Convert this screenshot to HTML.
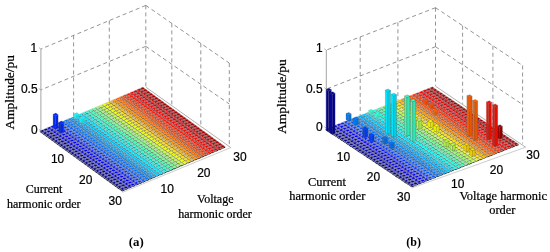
<!DOCTYPE html>
<html><head><meta charset="utf-8"><style>
html,body{margin:0;padding:0;background:#fff;}
body{width:550px;height:252px;overflow:hidden;}
svg{display:block;}
</style></head><body>
<svg width="550" height="252" viewBox="0 0 550 252">
<rect width="550" height="252" fill="#fff"/>
<path d="M145.8 5.4 L40.9 49" fill="none" stroke="#787878" stroke-width="0.8" stroke-dasharray="4 3"/>
<path d="M145.8 5.4 L229.3 63.1" fill="none" stroke="#787878" stroke-width="0.8" stroke-dasharray="4 3"/>
<path d="M145.8 46.3 L40.9 89.9" fill="none" stroke="#787878" stroke-width="0.8" stroke-dasharray="4 3"/>
<path d="M145.8 46.3 L229.3 104" fill="none" stroke="#787878" stroke-width="0.8" stroke-dasharray="4 3"/>
<path d="M73.6 35.4 L73.6 117.2" fill="none" stroke="#787878" stroke-width="0.8" stroke-dasharray="4 3"/>
<path d="M109.3 20.6 L109.3 102.4" fill="none" stroke="#787878" stroke-width="0.8" stroke-dasharray="4 3"/>
<path d="M145.8 5.4 L145.8 87.2" fill="none" stroke="#787878" stroke-width="0.8" stroke-dasharray="4 3"/>
<path d="M171.8 23.4 L171.8 105.2" fill="none" stroke="#787878" stroke-width="0.8" stroke-dasharray="4 3"/>
<path d="M200.8 43.4 L200.8 125.2" fill="none" stroke="#787878" stroke-width="0.8" stroke-dasharray="4 3"/>
<path d="M229.3 63.1 L229.3 144.9" fill="none" stroke="#787878" stroke-width="0.8" stroke-dasharray="4 3"/>
<path d="M40.9 130.8 L40.9 49" fill="none" stroke="#9a9a9a" stroke-width="0.9"/>
<path d="M40.9 49 L38.9 47.6" fill="none" stroke="#9a9a9a" stroke-width="0.7"/>
<path d="M40.9 89.9 L38.9 88.5" fill="none" stroke="#9a9a9a" stroke-width="0.7"/>
<path d="M40.9 130.8 L38.9 129.4" fill="none" stroke="#9a9a9a" stroke-width="0.7"/>
<path d="M435.5 7.7 L326.3 50.1" fill="none" stroke="#787878" stroke-width="0.8" stroke-dasharray="4 3"/>
<path d="M435.5 7.7 L522.6 65.5" fill="none" stroke="#787878" stroke-width="0.8" stroke-dasharray="4 3"/>
<path d="M435.5 46.7 L326.3 89.1" fill="none" stroke="#787878" stroke-width="0.8" stroke-dasharray="4 3"/>
<path d="M435.5 46.7 L522.6 104.5" fill="none" stroke="#787878" stroke-width="0.8" stroke-dasharray="4 3"/>
<path d="M360.2 36.9 L360.2 114.9" fill="none" stroke="#787878" stroke-width="0.8" stroke-dasharray="4 3"/>
<path d="M397.9 22.3 L397.9 100.3" fill="none" stroke="#787878" stroke-width="0.8" stroke-dasharray="4 3"/>
<path d="M435.5 7.7 L435.5 85.7" fill="none" stroke="#787878" stroke-width="0.8" stroke-dasharray="4 3"/>
<path d="M462.6 25.7 L462.6 103.7" fill="none" stroke="#787878" stroke-width="0.8" stroke-dasharray="4 3"/>
<path d="M492.9 45.8 L492.9 123.8" fill="none" stroke="#787878" stroke-width="0.8" stroke-dasharray="4 3"/>
<path d="M522.6 65.5 L522.6 143.5" fill="none" stroke="#787878" stroke-width="0.8" stroke-dasharray="4 3"/>
<path d="M326.3 128.1 L326.3 50.1" fill="none" stroke="#9a9a9a" stroke-width="0.9"/>
<path d="M326.3 50.1 L324.3 48.7" fill="none" stroke="#9a9a9a" stroke-width="0.7"/>
<path d="M326.3 89.1 L324.3 87.7" fill="none" stroke="#9a9a9a" stroke-width="0.7"/>
<path d="M326.3 128.1 L324.3 126.7" fill="none" stroke="#9a9a9a" stroke-width="0.7"/>
<path d="M146 87.3 L230.8 147.6" fill="none" stroke="#7a7a7a" stroke-width="0.6"/>
<path d="M122.4 192.4 L230.8 147.6" fill="none" stroke="#c0c0c0" stroke-width="0.8"/>
<path d="M435.5 86.2 L525.6 147.2" fill="none" stroke="#7a7a7a" stroke-width="0.6"/>
<path d="M411.8 188 L525.6 147.2" fill="none" stroke="#c0c0c0" stroke-width="0.8"/>
<defs><path id="a0t" d="M-2.49 -1.36 L-0.28 0.24 L2.49 -0.94 L0.28 -2.53Z"/><path id="a0l" d="M-2.49 -1.36 L-0.28 0.24 L-0.28 1.39 L-2.49 -0.21Z"/><path id="a0r" d="M-0.28 0.24 L2.49 -0.94 L2.49 0.21 L-0.28 1.39Z"/></defs>
<g fill="#320000"><use href="#a0l" x="142.64" y="89.62"/><use href="#a0l" x="145.4" y="91.62"/><use href="#a0l" x="148.16" y="93.62"/><use href="#a0l" x="150.92" y="95.61"/><use href="#a0l" x="153.68" y="97.6"/><use href="#a0l" x="156.44" y="99.6"/><use href="#a0l" x="159.2" y="101.59"/><use href="#a0l" x="161.96" y="103.59"/><use href="#a0l" x="164.72" y="105.59"/><use href="#a0l" x="167.48" y="107.58"/><use href="#a0l" x="170.24" y="109.57"/><use href="#a0l" x="173" y="111.57"/><use href="#a0l" x="175.76" y="113.56"/><use href="#a0l" x="178.52" y="115.56"/><use href="#a0l" x="181.28" y="117.56"/><use href="#a0l" x="184.04" y="119.55"/><use href="#a0l" x="186.8" y="121.54"/><use href="#a0l" x="189.56" y="123.54"/><use href="#a0l" x="192.32" y="125.53"/><use href="#a0l" x="195.08" y="127.53"/><use href="#a0l" x="197.84" y="129.53"/><use href="#a0l" x="200.6" y="131.52"/><use href="#a0l" x="203.36" y="133.52"/><use href="#a0l" x="206.12" y="135.51"/><use href="#a0l" x="208.88" y="137.5"/><use href="#a0l" x="211.64" y="139.5"/><use href="#a0l" x="214.4" y="141.5"/><use href="#a0l" x="217.16" y="143.49"/><use href="#a0l" x="219.92" y="145.48"/><use href="#a0l" x="222.68" y="147.48"/></g>
<g fill="#2a0000"><use href="#a0r" x="142.64" y="89.62"/><use href="#a0r" x="145.4" y="91.62"/><use href="#a0r" x="148.16" y="93.62"/><use href="#a0r" x="150.92" y="95.61"/><use href="#a0r" x="153.68" y="97.6"/><use href="#a0r" x="156.44" y="99.6"/><use href="#a0r" x="159.2" y="101.59"/><use href="#a0r" x="161.96" y="103.59"/><use href="#a0r" x="164.72" y="105.59"/><use href="#a0r" x="167.48" y="107.58"/><use href="#a0r" x="170.24" y="109.57"/><use href="#a0r" x="173" y="111.57"/><use href="#a0r" x="175.76" y="113.56"/><use href="#a0r" x="178.52" y="115.56"/><use href="#a0r" x="181.28" y="117.56"/><use href="#a0r" x="184.04" y="119.55"/><use href="#a0r" x="186.8" y="121.54"/><use href="#a0r" x="189.56" y="123.54"/><use href="#a0r" x="192.32" y="125.53"/><use href="#a0r" x="195.08" y="127.53"/><use href="#a0r" x="197.84" y="129.53"/><use href="#a0r" x="200.6" y="131.52"/><use href="#a0r" x="203.36" y="133.52"/><use href="#a0r" x="206.12" y="135.51"/><use href="#a0r" x="208.88" y="137.5"/><use href="#a0r" x="211.64" y="139.5"/><use href="#a0r" x="214.4" y="141.5"/><use href="#a0r" x="217.16" y="143.49"/><use href="#a0r" x="219.92" y="145.48"/><use href="#a0r" x="222.68" y="147.48"/></g>
<g fill="#a80000" stroke="#c8c8c8" stroke-width="0.33"><use href="#a0t" x="142.64" y="89.62"/><use href="#a0t" x="145.4" y="91.62"/><use href="#a0t" x="148.16" y="93.62"/><use href="#a0t" x="150.92" y="95.61"/><use href="#a0t" x="153.68" y="97.6"/><use href="#a0t" x="156.44" y="99.6"/><use href="#a0t" x="159.2" y="101.59"/><use href="#a0t" x="161.96" y="103.59"/><use href="#a0t" x="164.72" y="105.59"/><use href="#a0t" x="167.48" y="107.58"/><use href="#a0t" x="170.24" y="109.57"/><use href="#a0t" x="173" y="111.57"/><use href="#a0t" x="175.76" y="113.56"/><use href="#a0t" x="178.52" y="115.56"/><use href="#a0t" x="181.28" y="117.56"/><use href="#a0t" x="184.04" y="119.55"/><use href="#a0t" x="186.8" y="121.54"/><use href="#a0t" x="189.56" y="123.54"/><use href="#a0t" x="192.32" y="125.53"/><use href="#a0t" x="195.08" y="127.53"/><use href="#a0t" x="197.84" y="129.53"/><use href="#a0t" x="200.6" y="131.52"/><use href="#a0t" x="203.36" y="133.52"/><use href="#a0t" x="206.12" y="135.51"/><use href="#a0t" x="208.88" y="137.5"/><use href="#a0t" x="211.64" y="139.5"/><use href="#a0t" x="214.4" y="141.5"/><use href="#a0t" x="217.16" y="143.49"/><use href="#a0t" x="219.92" y="145.48"/><use href="#a0t" x="222.68" y="147.48"/></g>
<g fill="#3c0000"><use href="#a0l" x="139.18" y="91.09"/><use href="#a0l" x="141.94" y="93.09"/><use href="#a0l" x="144.7" y="95.08"/><use href="#a0l" x="147.46" y="97.08"/><use href="#a0l" x="150.22" y="99.07"/><use href="#a0l" x="152.98" y="101.07"/><use href="#a0l" x="155.74" y="103.06"/><use href="#a0l" x="158.5" y="105.06"/><use href="#a0l" x="161.26" y="107.05"/><use href="#a0l" x="164.02" y="109.05"/><use href="#a0l" x="166.78" y="111.04"/><use href="#a0l" x="169.54" y="113.04"/><use href="#a0l" x="172.3" y="115.03"/><use href="#a0l" x="175.06" y="117.03"/><use href="#a0l" x="177.82" y="119.02"/><use href="#a0l" x="180.58" y="121.02"/><use href="#a0l" x="183.34" y="123.01"/><use href="#a0l" x="186.1" y="125.01"/><use href="#a0l" x="188.86" y="127"/><use href="#a0l" x="191.62" y="129"/><use href="#a0l" x="194.38" y="130.99"/><use href="#a0l" x="197.14" y="132.99"/><use href="#a0l" x="199.9" y="134.98"/><use href="#a0l" x="202.66" y="136.98"/><use href="#a0l" x="205.42" y="138.97"/><use href="#a0l" x="208.18" y="140.97"/><use href="#a0l" x="210.94" y="142.96"/><use href="#a0l" x="213.7" y="144.96"/><use href="#a0l" x="216.46" y="146.95"/><use href="#a0l" x="219.22" y="148.95"/></g>
<g fill="#320000"><use href="#a0r" x="139.18" y="91.09"/><use href="#a0r" x="141.94" y="93.09"/><use href="#a0r" x="144.7" y="95.08"/><use href="#a0r" x="147.46" y="97.08"/><use href="#a0r" x="150.22" y="99.07"/><use href="#a0r" x="152.98" y="101.07"/><use href="#a0r" x="155.74" y="103.06"/><use href="#a0r" x="158.5" y="105.06"/><use href="#a0r" x="161.26" y="107.05"/><use href="#a0r" x="164.02" y="109.05"/><use href="#a0r" x="166.78" y="111.04"/><use href="#a0r" x="169.54" y="113.04"/><use href="#a0r" x="172.3" y="115.03"/><use href="#a0r" x="175.06" y="117.03"/><use href="#a0r" x="177.82" y="119.02"/><use href="#a0r" x="180.58" y="121.02"/><use href="#a0r" x="183.34" y="123.01"/><use href="#a0r" x="186.1" y="125.01"/><use href="#a0r" x="188.86" y="127"/><use href="#a0r" x="191.62" y="129"/><use href="#a0r" x="194.38" y="130.99"/><use href="#a0r" x="197.14" y="132.99"/><use href="#a0r" x="199.9" y="134.98"/><use href="#a0r" x="202.66" y="136.98"/><use href="#a0r" x="205.42" y="138.97"/><use href="#a0r" x="208.18" y="140.97"/><use href="#a0r" x="210.94" y="142.96"/><use href="#a0r" x="213.7" y="144.96"/><use href="#a0r" x="216.46" y="146.95"/><use href="#a0r" x="219.22" y="148.95"/></g>
<g fill="#c70000" stroke="#c8c8c8" stroke-width="0.33"><use href="#a0t" x="139.18" y="91.09"/><use href="#a0t" x="141.94" y="93.09"/><use href="#a0t" x="144.7" y="95.08"/><use href="#a0t" x="147.46" y="97.08"/><use href="#a0t" x="150.22" y="99.07"/><use href="#a0t" x="152.98" y="101.07"/><use href="#a0t" x="155.74" y="103.06"/><use href="#a0t" x="158.5" y="105.06"/><use href="#a0t" x="161.26" y="107.05"/><use href="#a0t" x="164.02" y="109.05"/><use href="#a0t" x="166.78" y="111.04"/><use href="#a0t" x="169.54" y="113.04"/><use href="#a0t" x="172.3" y="115.03"/><use href="#a0t" x="175.06" y="117.03"/><use href="#a0t" x="177.82" y="119.02"/><use href="#a0t" x="180.58" y="121.02"/><use href="#a0t" x="183.34" y="123.01"/><use href="#a0t" x="186.1" y="125.01"/><use href="#a0t" x="188.86" y="127"/><use href="#a0t" x="191.62" y="129"/><use href="#a0t" x="194.38" y="130.99"/><use href="#a0t" x="197.14" y="132.99"/><use href="#a0t" x="199.9" y="134.98"/><use href="#a0t" x="202.66" y="136.98"/><use href="#a0t" x="205.42" y="138.97"/><use href="#a0t" x="208.18" y="140.97"/><use href="#a0t" x="210.94" y="142.96"/><use href="#a0t" x="213.7" y="144.96"/><use href="#a0t" x="216.46" y="146.95"/><use href="#a0t" x="219.22" y="148.95"/></g>
<g fill="#430000"><use href="#a0l" x="135.72" y="92.56"/><use href="#a0l" x="138.48" y="94.56"/><use href="#a0l" x="141.24" y="96.55"/><use href="#a0l" x="144" y="98.55"/><use href="#a0l" x="146.76" y="100.54"/><use href="#a0l" x="149.52" y="102.54"/><use href="#a0l" x="152.28" y="104.53"/><use href="#a0l" x="155.04" y="106.53"/><use href="#a0l" x="157.8" y="108.52"/><use href="#a0l" x="160.56" y="110.52"/><use href="#a0l" x="163.32" y="112.51"/><use href="#a0l" x="166.08" y="114.51"/><use href="#a0l" x="168.84" y="116.5"/><use href="#a0l" x="171.6" y="118.5"/><use href="#a0l" x="174.36" y="120.49"/><use href="#a0l" x="177.12" y="122.49"/><use href="#a0l" x="179.88" y="124.48"/><use href="#a0l" x="182.64" y="126.48"/><use href="#a0l" x="185.4" y="128.47"/><use href="#a0l" x="188.16" y="130.47"/><use href="#a0l" x="190.92" y="132.46"/><use href="#a0l" x="193.68" y="134.46"/><use href="#a0l" x="196.44" y="136.45"/><use href="#a0l" x="199.2" y="138.45"/><use href="#a0l" x="201.96" y="140.44"/><use href="#a0l" x="204.72" y="142.44"/><use href="#a0l" x="207.48" y="144.43"/><use href="#a0l" x="210.24" y="146.43"/><use href="#a0l" x="213" y="148.42"/><use href="#a0l" x="215.76" y="150.42"/></g>
<g fill="#380000"><use href="#a0r" x="135.72" y="92.56"/><use href="#a0r" x="138.48" y="94.56"/><use href="#a0r" x="141.24" y="96.55"/><use href="#a0r" x="144" y="98.55"/><use href="#a0r" x="146.76" y="100.54"/><use href="#a0r" x="149.52" y="102.54"/><use href="#a0r" x="152.28" y="104.53"/><use href="#a0r" x="155.04" y="106.53"/><use href="#a0r" x="157.8" y="108.52"/><use href="#a0r" x="160.56" y="110.52"/><use href="#a0r" x="163.32" y="112.51"/><use href="#a0r" x="166.08" y="114.51"/><use href="#a0r" x="168.84" y="116.5"/><use href="#a0r" x="171.6" y="118.5"/><use href="#a0r" x="174.36" y="120.49"/><use href="#a0r" x="177.12" y="122.49"/><use href="#a0r" x="179.88" y="124.48"/><use href="#a0r" x="182.64" y="126.48"/><use href="#a0r" x="185.4" y="128.47"/><use href="#a0r" x="188.16" y="130.47"/><use href="#a0r" x="190.92" y="132.46"/><use href="#a0r" x="193.68" y="134.46"/><use href="#a0r" x="196.44" y="136.45"/><use href="#a0r" x="199.2" y="138.45"/><use href="#a0r" x="201.96" y="140.44"/><use href="#a0r" x="204.72" y="142.44"/><use href="#a0r" x="207.48" y="144.43"/><use href="#a0r" x="210.24" y="146.43"/><use href="#a0r" x="213" y="148.42"/><use href="#a0r" x="215.76" y="150.42"/></g>
<g fill="#e00000" stroke="#c8c8c8" stroke-width="0.33"><use href="#a0t" x="135.72" y="92.56"/><use href="#a0t" x="138.48" y="94.56"/><use href="#a0t" x="141.24" y="96.55"/><use href="#a0t" x="144" y="98.55"/><use href="#a0t" x="146.76" y="100.54"/><use href="#a0t" x="149.52" y="102.54"/><use href="#a0t" x="152.28" y="104.53"/><use href="#a0t" x="155.04" y="106.53"/><use href="#a0t" x="157.8" y="108.52"/><use href="#a0t" x="160.56" y="110.52"/><use href="#a0t" x="163.32" y="112.51"/><use href="#a0t" x="166.08" y="114.51"/><use href="#a0t" x="168.84" y="116.5"/><use href="#a0t" x="171.6" y="118.5"/><use href="#a0t" x="174.36" y="120.49"/><use href="#a0t" x="177.12" y="122.49"/><use href="#a0t" x="179.88" y="124.48"/><use href="#a0t" x="182.64" y="126.48"/><use href="#a0t" x="185.4" y="128.47"/><use href="#a0t" x="188.16" y="130.47"/><use href="#a0t" x="190.92" y="132.46"/><use href="#a0t" x="193.68" y="134.46"/><use href="#a0t" x="196.44" y="136.45"/><use href="#a0t" x="199.2" y="138.45"/><use href="#a0t" x="201.96" y="140.44"/><use href="#a0t" x="204.72" y="142.44"/><use href="#a0t" x="207.48" y="144.43"/><use href="#a0t" x="210.24" y="146.43"/><use href="#a0t" x="213" y="148.42"/><use href="#a0t" x="215.76" y="150.42"/></g>
<g fill="#4b0000"><use href="#a0l" x="132.27" y="94.03"/><use href="#a0l" x="135.03" y="96.03"/><use href="#a0l" x="137.79" y="98.02"/><use href="#a0l" x="140.55" y="100.02"/><use href="#a0l" x="143.31" y="102.01"/><use href="#a0l" x="146.07" y="104.01"/><use href="#a0l" x="148.83" y="106"/><use href="#a0l" x="151.59" y="108"/><use href="#a0l" x="154.35" y="109.99"/><use href="#a0l" x="157.11" y="111.99"/><use href="#a0l" x="159.87" y="113.98"/><use href="#a0l" x="162.63" y="115.98"/><use href="#a0l" x="165.39" y="117.97"/><use href="#a0l" x="168.15" y="119.97"/><use href="#a0l" x="170.91" y="121.96"/><use href="#a0l" x="173.67" y="123.96"/><use href="#a0l" x="176.43" y="125.95"/><use href="#a0l" x="179.19" y="127.95"/><use href="#a0l" x="181.95" y="129.94"/><use href="#a0l" x="184.71" y="131.94"/><use href="#a0l" x="187.47" y="133.93"/><use href="#a0l" x="190.23" y="135.93"/><use href="#a0l" x="192.99" y="137.92"/><use href="#a0l" x="195.75" y="139.92"/><use href="#a0l" x="198.51" y="141.91"/><use href="#a0l" x="201.27" y="143.91"/><use href="#a0l" x="204.03" y="145.9"/><use href="#a0l" x="206.79" y="147.9"/><use href="#a0l" x="209.55" y="149.89"/><use href="#a0l" x="212.31" y="151.89"/></g>
<g fill="#3e0000"><use href="#a0r" x="132.27" y="94.03"/><use href="#a0r" x="135.03" y="96.03"/><use href="#a0r" x="137.79" y="98.02"/><use href="#a0r" x="140.55" y="100.02"/><use href="#a0r" x="143.31" y="102.01"/><use href="#a0r" x="146.07" y="104.01"/><use href="#a0r" x="148.83" y="106"/><use href="#a0r" x="151.59" y="108"/><use href="#a0r" x="154.35" y="109.99"/><use href="#a0r" x="157.11" y="111.99"/><use href="#a0r" x="159.87" y="113.98"/><use href="#a0r" x="162.63" y="115.98"/><use href="#a0r" x="165.39" y="117.97"/><use href="#a0r" x="168.15" y="119.97"/><use href="#a0r" x="170.91" y="121.96"/><use href="#a0r" x="173.67" y="123.96"/><use href="#a0r" x="176.43" y="125.95"/><use href="#a0r" x="179.19" y="127.95"/><use href="#a0r" x="181.95" y="129.94"/><use href="#a0r" x="184.71" y="131.94"/><use href="#a0r" x="187.47" y="133.93"/><use href="#a0r" x="190.23" y="135.93"/><use href="#a0r" x="192.99" y="137.92"/><use href="#a0r" x="195.75" y="139.92"/><use href="#a0r" x="198.51" y="141.91"/><use href="#a0r" x="201.27" y="143.91"/><use href="#a0r" x="204.03" y="145.9"/><use href="#a0r" x="206.79" y="147.9"/><use href="#a0r" x="209.55" y="149.89"/><use href="#a0r" x="212.31" y="151.89"/></g>
<g fill="#fa0000" stroke="#c8c8c8" stroke-width="0.33"><use href="#a0t" x="132.27" y="94.03"/><use href="#a0t" x="135.03" y="96.03"/><use href="#a0t" x="137.79" y="98.02"/><use href="#a0t" x="140.55" y="100.02"/><use href="#a0t" x="143.31" y="102.01"/><use href="#a0t" x="146.07" y="104.01"/><use href="#a0t" x="148.83" y="106"/><use href="#a0t" x="151.59" y="108"/><use href="#a0t" x="154.35" y="109.99"/><use href="#a0t" x="157.11" y="111.99"/><use href="#a0t" x="159.87" y="113.98"/><use href="#a0t" x="162.63" y="115.98"/><use href="#a0t" x="165.39" y="117.97"/><use href="#a0t" x="168.15" y="119.97"/><use href="#a0t" x="170.91" y="121.96"/><use href="#a0t" x="173.67" y="123.96"/><use href="#a0t" x="176.43" y="125.95"/><use href="#a0t" x="179.19" y="127.95"/><use href="#a0t" x="181.95" y="129.94"/><use href="#a0t" x="184.71" y="131.94"/><use href="#a0t" x="187.47" y="133.93"/><use href="#a0t" x="190.23" y="135.93"/><use href="#a0t" x="192.99" y="137.92"/><use href="#a0t" x="195.75" y="139.92"/><use href="#a0t" x="198.51" y="141.91"/><use href="#a0t" x="201.27" y="143.91"/><use href="#a0t" x="204.03" y="145.9"/><use href="#a0t" x="206.79" y="147.9"/><use href="#a0t" x="209.55" y="149.89"/><use href="#a0t" x="212.31" y="151.89"/></g>
<g fill="#4c0600"><use href="#a0l" x="128.81" y="95.5"/><use href="#a0l" x="131.57" y="97.5"/><use href="#a0l" x="134.33" y="99.49"/><use href="#a0l" x="137.09" y="101.49"/><use href="#a0l" x="139.85" y="103.48"/><use href="#a0l" x="142.61" y="105.48"/><use href="#a0l" x="145.37" y="107.47"/><use href="#a0l" x="148.13" y="109.47"/><use href="#a0l" x="150.89" y="111.46"/><use href="#a0l" x="153.65" y="113.46"/><use href="#a0l" x="156.41" y="115.45"/><use href="#a0l" x="159.17" y="117.45"/><use href="#a0l" x="161.93" y="119.44"/><use href="#a0l" x="164.69" y="121.44"/><use href="#a0l" x="167.45" y="123.43"/><use href="#a0l" x="170.21" y="125.43"/><use href="#a0l" x="172.97" y="127.42"/><use href="#a0l" x="175.73" y="129.42"/><use href="#a0l" x="178.49" y="131.41"/><use href="#a0l" x="181.25" y="133.41"/><use href="#a0l" x="184.01" y="135.4"/><use href="#a0l" x="186.77" y="137.4"/><use href="#a0l" x="189.53" y="139.39"/><use href="#a0l" x="192.29" y="141.39"/><use href="#a0l" x="195.05" y="143.38"/><use href="#a0l" x="197.81" y="145.38"/><use href="#a0l" x="200.57" y="147.37"/><use href="#a0l" x="203.33" y="149.37"/><use href="#a0l" x="206.09" y="151.36"/><use href="#a0l" x="208.85" y="153.36"/></g>
<g fill="#400500"><use href="#a0r" x="128.81" y="95.5"/><use href="#a0r" x="131.57" y="97.5"/><use href="#a0r" x="134.33" y="99.49"/><use href="#a0r" x="137.09" y="101.49"/><use href="#a0r" x="139.85" y="103.48"/><use href="#a0r" x="142.61" y="105.48"/><use href="#a0r" x="145.37" y="107.47"/><use href="#a0r" x="148.13" y="109.47"/><use href="#a0r" x="150.89" y="111.46"/><use href="#a0r" x="153.65" y="113.46"/><use href="#a0r" x="156.41" y="115.45"/><use href="#a0r" x="159.17" y="117.45"/><use href="#a0r" x="161.93" y="119.44"/><use href="#a0r" x="164.69" y="121.44"/><use href="#a0r" x="167.45" y="123.43"/><use href="#a0r" x="170.21" y="125.43"/><use href="#a0r" x="172.97" y="127.42"/><use href="#a0r" x="175.73" y="129.42"/><use href="#a0r" x="178.49" y="131.41"/><use href="#a0r" x="181.25" y="133.41"/><use href="#a0r" x="184.01" y="135.4"/><use href="#a0r" x="186.77" y="137.4"/><use href="#a0r" x="189.53" y="139.39"/><use href="#a0r" x="192.29" y="141.39"/><use href="#a0r" x="195.05" y="143.38"/><use href="#a0r" x="197.81" y="145.38"/><use href="#a0r" x="200.57" y="147.37"/><use href="#a0r" x="203.33" y="149.37"/><use href="#a0r" x="206.09" y="151.36"/><use href="#a0r" x="208.85" y="153.36"/></g>
<g fill="#ff1400" stroke="#c8c8c8" stroke-width="0.33"><use href="#a0t" x="128.81" y="95.5"/><use href="#a0t" x="131.57" y="97.5"/><use href="#a0t" x="134.33" y="99.49"/><use href="#a0t" x="137.09" y="101.49"/><use href="#a0t" x="139.85" y="103.48"/><use href="#a0t" x="142.61" y="105.48"/><use href="#a0t" x="145.37" y="107.47"/><use href="#a0t" x="148.13" y="109.47"/><use href="#a0t" x="150.89" y="111.46"/><use href="#a0t" x="153.65" y="113.46"/><use href="#a0t" x="156.41" y="115.45"/><use href="#a0t" x="159.17" y="117.45"/><use href="#a0t" x="161.93" y="119.44"/><use href="#a0t" x="164.69" y="121.44"/><use href="#a0t" x="167.45" y="123.43"/><use href="#a0t" x="170.21" y="125.43"/><use href="#a0t" x="172.97" y="127.42"/><use href="#a0t" x="175.73" y="129.42"/><use href="#a0t" x="178.49" y="131.41"/><use href="#a0t" x="181.25" y="133.41"/><use href="#a0t" x="184.01" y="135.4"/><use href="#a0t" x="186.77" y="137.4"/><use href="#a0t" x="189.53" y="139.39"/><use href="#a0t" x="192.29" y="141.39"/><use href="#a0t" x="195.05" y="143.38"/><use href="#a0t" x="197.81" y="145.38"/><use href="#a0t" x="200.57" y="147.37"/><use href="#a0t" x="203.33" y="149.37"/><use href="#a0t" x="206.09" y="151.36"/><use href="#a0t" x="208.85" y="153.36"/></g>
<g fill="#4c0f00"><use href="#a0l" x="125.35" y="96.97"/><use href="#a0l" x="128.11" y="98.97"/><use href="#a0l" x="130.87" y="100.96"/><use href="#a0l" x="133.63" y="102.95"/><use href="#a0l" x="136.39" y="104.95"/><use href="#a0l" x="139.15" y="106.94"/><use href="#a0l" x="141.91" y="108.94"/><use href="#a0l" x="144.67" y="110.94"/><use href="#a0l" x="147.43" y="112.93"/><use href="#a0l" x="150.19" y="114.93"/><use href="#a0l" x="152.95" y="116.92"/><use href="#a0l" x="155.71" y="118.91"/><use href="#a0l" x="158.47" y="120.91"/><use href="#a0l" x="161.23" y="122.91"/><use href="#a0l" x="163.99" y="124.9"/><use href="#a0l" x="166.75" y="126.9"/><use href="#a0l" x="169.51" y="128.89"/><use href="#a0l" x="172.27" y="130.88"/><use href="#a0l" x="175.03" y="132.88"/><use href="#a0l" x="177.79" y="134.88"/><use href="#a0l" x="180.55" y="136.87"/><use href="#a0l" x="183.31" y="138.87"/><use href="#a0l" x="186.07" y="140.86"/><use href="#a0l" x="188.83" y="142.85"/><use href="#a0l" x="191.59" y="144.85"/><use href="#a0l" x="194.35" y="146.84"/><use href="#a0l" x="197.11" y="148.84"/><use href="#a0l" x="199.87" y="150.84"/><use href="#a0l" x="202.63" y="152.83"/><use href="#a0l" x="205.39" y="154.82"/></g>
<g fill="#400c00"><use href="#a0r" x="125.35" y="96.97"/><use href="#a0r" x="128.11" y="98.97"/><use href="#a0r" x="130.87" y="100.96"/><use href="#a0r" x="133.63" y="102.95"/><use href="#a0r" x="136.39" y="104.95"/><use href="#a0r" x="139.15" y="106.94"/><use href="#a0r" x="141.91" y="108.94"/><use href="#a0r" x="144.67" y="110.94"/><use href="#a0r" x="147.43" y="112.93"/><use href="#a0r" x="150.19" y="114.93"/><use href="#a0r" x="152.95" y="116.92"/><use href="#a0r" x="155.71" y="118.91"/><use href="#a0r" x="158.47" y="120.91"/><use href="#a0r" x="161.23" y="122.91"/><use href="#a0r" x="163.99" y="124.9"/><use href="#a0r" x="166.75" y="126.9"/><use href="#a0r" x="169.51" y="128.89"/><use href="#a0r" x="172.27" y="130.88"/><use href="#a0r" x="175.03" y="132.88"/><use href="#a0r" x="177.79" y="134.88"/><use href="#a0r" x="180.55" y="136.87"/><use href="#a0r" x="183.31" y="138.87"/><use href="#a0r" x="186.07" y="140.86"/><use href="#a0r" x="188.83" y="142.85"/><use href="#a0r" x="191.59" y="144.85"/><use href="#a0r" x="194.35" y="146.84"/><use href="#a0r" x="197.11" y="148.84"/><use href="#a0r" x="199.87" y="150.84"/><use href="#a0r" x="202.63" y="152.83"/><use href="#a0r" x="205.39" y="154.82"/></g>
<g fill="#ff3100" stroke="#c8c8c8" stroke-width="0.33"><use href="#a0t" x="125.35" y="96.97"/><use href="#a0t" x="128.11" y="98.97"/><use href="#a0t" x="130.87" y="100.96"/><use href="#a0t" x="133.63" y="102.95"/><use href="#a0t" x="136.39" y="104.95"/><use href="#a0t" x="139.15" y="106.94"/><use href="#a0t" x="141.91" y="108.94"/><use href="#a0t" x="144.67" y="110.94"/><use href="#a0t" x="147.43" y="112.93"/><use href="#a0t" x="150.19" y="114.93"/><use href="#a0t" x="152.95" y="116.92"/><use href="#a0t" x="155.71" y="118.91"/><use href="#a0t" x="158.47" y="120.91"/><use href="#a0t" x="161.23" y="122.91"/><use href="#a0t" x="163.99" y="124.9"/><use href="#a0t" x="166.75" y="126.9"/><use href="#a0t" x="169.51" y="128.89"/><use href="#a0t" x="172.27" y="130.88"/><use href="#a0t" x="175.03" y="132.88"/><use href="#a0t" x="177.79" y="134.88"/><use href="#a0t" x="180.55" y="136.87"/><use href="#a0t" x="183.31" y="138.87"/><use href="#a0t" x="186.07" y="140.86"/><use href="#a0t" x="188.83" y="142.85"/><use href="#a0t" x="191.59" y="144.85"/><use href="#a0t" x="194.35" y="146.84"/><use href="#a0t" x="197.11" y="148.84"/><use href="#a0t" x="199.87" y="150.84"/><use href="#a0t" x="202.63" y="152.83"/><use href="#a0t" x="205.39" y="154.82"/></g>
<g fill="#4c1700"><use href="#a0l" x="121.89" y="98.44"/><use href="#a0l" x="124.65" y="100.43"/><use href="#a0l" x="127.41" y="102.43"/><use href="#a0l" x="130.17" y="104.42"/><use href="#a0l" x="132.93" y="106.42"/><use href="#a0l" x="135.69" y="108.41"/><use href="#a0l" x="138.45" y="110.41"/><use href="#a0l" x="141.21" y="112.4"/><use href="#a0l" x="143.97" y="114.4"/><use href="#a0l" x="146.73" y="116.39"/><use href="#a0l" x="149.49" y="118.39"/><use href="#a0l" x="152.25" y="120.38"/><use href="#a0l" x="155.01" y="122.38"/><use href="#a0l" x="157.77" y="124.37"/><use href="#a0l" x="160.53" y="126.37"/><use href="#a0l" x="163.29" y="128.36"/><use href="#a0l" x="166.05" y="130.36"/><use href="#a0l" x="168.81" y="132.35"/><use href="#a0l" x="171.57" y="134.35"/><use href="#a0l" x="174.33" y="136.34"/><use href="#a0l" x="177.09" y="138.34"/><use href="#a0l" x="179.85" y="140.33"/><use href="#a0l" x="182.61" y="142.33"/><use href="#a0l" x="185.37" y="144.32"/><use href="#a0l" x="188.13" y="146.32"/><use href="#a0l" x="190.89" y="148.31"/><use href="#a0l" x="193.65" y="150.31"/><use href="#a0l" x="196.41" y="152.3"/><use href="#a0l" x="199.17" y="154.3"/><use href="#a0l" x="201.93" y="156.29"/></g>
<g fill="#401400"><use href="#a0r" x="121.89" y="98.44"/><use href="#a0r" x="124.65" y="100.43"/><use href="#a0r" x="127.41" y="102.43"/><use href="#a0r" x="130.17" y="104.42"/><use href="#a0r" x="132.93" y="106.42"/><use href="#a0r" x="135.69" y="108.41"/><use href="#a0r" x="138.45" y="110.41"/><use href="#a0r" x="141.21" y="112.4"/><use href="#a0r" x="143.97" y="114.4"/><use href="#a0r" x="146.73" y="116.39"/><use href="#a0r" x="149.49" y="118.39"/><use href="#a0r" x="152.25" y="120.38"/><use href="#a0r" x="155.01" y="122.38"/><use href="#a0r" x="157.77" y="124.37"/><use href="#a0r" x="160.53" y="126.37"/><use href="#a0r" x="163.29" y="128.36"/><use href="#a0r" x="166.05" y="130.36"/><use href="#a0r" x="168.81" y="132.35"/><use href="#a0r" x="171.57" y="134.35"/><use href="#a0r" x="174.33" y="136.34"/><use href="#a0r" x="177.09" y="138.34"/><use href="#a0r" x="179.85" y="140.33"/><use href="#a0r" x="182.61" y="142.33"/><use href="#a0r" x="185.37" y="144.32"/><use href="#a0r" x="188.13" y="146.32"/><use href="#a0r" x="190.89" y="148.31"/><use href="#a0r" x="193.65" y="150.31"/><use href="#a0r" x="196.41" y="152.3"/><use href="#a0r" x="199.17" y="154.3"/><use href="#a0r" x="201.93" y="156.29"/></g>
<g fill="#ff4e00" stroke="#c8c8c8" stroke-width="0.33"><use href="#a0t" x="121.89" y="98.44"/><use href="#a0t" x="124.65" y="100.43"/><use href="#a0t" x="127.41" y="102.43"/><use href="#a0t" x="130.17" y="104.42"/><use href="#a0t" x="132.93" y="106.42"/><use href="#a0t" x="135.69" y="108.41"/><use href="#a0t" x="138.45" y="110.41"/><use href="#a0t" x="141.21" y="112.4"/><use href="#a0t" x="143.97" y="114.4"/><use href="#a0t" x="146.73" y="116.39"/><use href="#a0t" x="149.49" y="118.39"/><use href="#a0t" x="152.25" y="120.38"/><use href="#a0t" x="155.01" y="122.38"/><use href="#a0t" x="157.77" y="124.37"/><use href="#a0t" x="160.53" y="126.37"/><use href="#a0t" x="163.29" y="128.36"/><use href="#a0t" x="166.05" y="130.36"/><use href="#a0t" x="168.81" y="132.35"/><use href="#a0t" x="171.57" y="134.35"/><use href="#a0t" x="174.33" y="136.34"/><use href="#a0t" x="177.09" y="138.34"/><use href="#a0t" x="179.85" y="140.33"/><use href="#a0t" x="182.61" y="142.33"/><use href="#a0t" x="185.37" y="144.32"/><use href="#a0t" x="188.13" y="146.32"/><use href="#a0t" x="190.89" y="148.31"/><use href="#a0t" x="193.65" y="150.31"/><use href="#a0t" x="196.41" y="152.3"/><use href="#a0t" x="199.17" y="154.3"/><use href="#a0t" x="201.93" y="156.29"/></g>
<g fill="#4c2000"><use href="#a0l" x="118.43" y="99.91"/><use href="#a0l" x="121.19" y="101.9"/><use href="#a0l" x="123.95" y="103.9"/><use href="#a0l" x="126.71" y="105.89"/><use href="#a0l" x="129.47" y="107.89"/><use href="#a0l" x="132.23" y="109.88"/><use href="#a0l" x="134.99" y="111.88"/><use href="#a0l" x="137.75" y="113.87"/><use href="#a0l" x="140.51" y="115.87"/><use href="#a0l" x="143.27" y="117.86"/><use href="#a0l" x="146.03" y="119.86"/><use href="#a0l" x="148.79" y="121.85"/><use href="#a0l" x="151.55" y="123.85"/><use href="#a0l" x="154.31" y="125.84"/><use href="#a0l" x="157.07" y="127.84"/><use href="#a0l" x="159.83" y="129.83"/><use href="#a0l" x="162.59" y="131.83"/><use href="#a0l" x="165.35" y="133.82"/><use href="#a0l" x="168.11" y="135.82"/><use href="#a0l" x="170.87" y="137.81"/><use href="#a0l" x="173.63" y="139.81"/><use href="#a0l" x="176.39" y="141.8"/><use href="#a0l" x="179.15" y="143.8"/><use href="#a0l" x="181.91" y="145.79"/><use href="#a0l" x="184.67" y="147.79"/><use href="#a0l" x="187.43" y="149.78"/><use href="#a0l" x="190.19" y="151.78"/><use href="#a0l" x="192.95" y="153.77"/><use href="#a0l" x="195.71" y="155.77"/><use href="#a0l" x="198.47" y="157.76"/></g>
<g fill="#401b00"><use href="#a0r" x="118.43" y="99.91"/><use href="#a0r" x="121.19" y="101.9"/><use href="#a0r" x="123.95" y="103.9"/><use href="#a0r" x="126.71" y="105.89"/><use href="#a0r" x="129.47" y="107.89"/><use href="#a0r" x="132.23" y="109.88"/><use href="#a0r" x="134.99" y="111.88"/><use href="#a0r" x="137.75" y="113.87"/><use href="#a0r" x="140.51" y="115.87"/><use href="#a0r" x="143.27" y="117.86"/><use href="#a0r" x="146.03" y="119.86"/><use href="#a0r" x="148.79" y="121.85"/><use href="#a0r" x="151.55" y="123.85"/><use href="#a0r" x="154.31" y="125.84"/><use href="#a0r" x="157.07" y="127.84"/><use href="#a0r" x="159.83" y="129.83"/><use href="#a0r" x="162.59" y="131.83"/><use href="#a0r" x="165.35" y="133.82"/><use href="#a0r" x="168.11" y="135.82"/><use href="#a0r" x="170.87" y="137.81"/><use href="#a0r" x="173.63" y="139.81"/><use href="#a0r" x="176.39" y="141.8"/><use href="#a0r" x="179.15" y="143.8"/><use href="#a0r" x="181.91" y="145.79"/><use href="#a0r" x="184.67" y="147.79"/><use href="#a0r" x="187.43" y="149.78"/><use href="#a0r" x="190.19" y="151.78"/><use href="#a0r" x="192.95" y="153.77"/><use href="#a0r" x="195.71" y="155.77"/><use href="#a0r" x="198.47" y="157.76"/></g>
<g fill="#ff6b00" stroke="#c8c8c8" stroke-width="0.33"><use href="#a0t" x="118.43" y="99.91"/><use href="#a0t" x="121.19" y="101.9"/><use href="#a0t" x="123.95" y="103.9"/><use href="#a0t" x="126.71" y="105.89"/><use href="#a0t" x="129.47" y="107.89"/><use href="#a0t" x="132.23" y="109.88"/><use href="#a0t" x="134.99" y="111.88"/><use href="#a0t" x="137.75" y="113.87"/><use href="#a0t" x="140.51" y="115.87"/><use href="#a0t" x="143.27" y="117.86"/><use href="#a0t" x="146.03" y="119.86"/><use href="#a0t" x="148.79" y="121.85"/><use href="#a0t" x="151.55" y="123.85"/><use href="#a0t" x="154.31" y="125.84"/><use href="#a0t" x="157.07" y="127.84"/><use href="#a0t" x="159.83" y="129.83"/><use href="#a0t" x="162.59" y="131.83"/><use href="#a0t" x="165.35" y="133.82"/><use href="#a0t" x="168.11" y="135.82"/><use href="#a0t" x="170.87" y="137.81"/><use href="#a0t" x="173.63" y="139.81"/><use href="#a0t" x="176.39" y="141.8"/><use href="#a0t" x="179.15" y="143.8"/><use href="#a0t" x="181.91" y="145.79"/><use href="#a0t" x="184.67" y="147.79"/><use href="#a0t" x="187.43" y="149.78"/><use href="#a0t" x="190.19" y="151.78"/><use href="#a0t" x="192.95" y="153.77"/><use href="#a0t" x="195.71" y="155.77"/><use href="#a0t" x="198.47" y="157.76"/></g>
<g fill="#4c2c00"><use href="#a0l" x="114.98" y="101.38"/><use href="#a0l" x="117.74" y="103.37"/><use href="#a0l" x="120.5" y="105.37"/><use href="#a0l" x="123.26" y="107.36"/><use href="#a0l" x="126.02" y="109.36"/><use href="#a0l" x="128.78" y="111.35"/><use href="#a0l" x="131.54" y="113.35"/><use href="#a0l" x="134.3" y="115.34"/><use href="#a0l" x="137.06" y="117.34"/><use href="#a0l" x="139.82" y="119.33"/><use href="#a0l" x="142.58" y="121.33"/><use href="#a0l" x="145.34" y="123.32"/><use href="#a0l" x="148.1" y="125.32"/><use href="#a0l" x="150.86" y="127.31"/><use href="#a0l" x="153.62" y="129.31"/><use href="#a0l" x="156.38" y="131.3"/><use href="#a0l" x="159.14" y="133.3"/><use href="#a0l" x="161.9" y="135.29"/><use href="#a0l" x="164.66" y="137.29"/><use href="#a0l" x="167.42" y="139.28"/><use href="#a0l" x="170.18" y="141.28"/><use href="#a0l" x="172.94" y="143.27"/><use href="#a0l" x="175.7" y="145.27"/><use href="#a0l" x="178.46" y="147.26"/><use href="#a0l" x="181.22" y="149.26"/><use href="#a0l" x="183.98" y="151.25"/><use href="#a0l" x="186.74" y="153.25"/><use href="#a0l" x="189.5" y="155.24"/><use href="#a0l" x="192.26" y="157.24"/><use href="#a0l" x="195.02" y="159.23"/></g>
<g fill="#402500"><use href="#a0r" x="114.98" y="101.38"/><use href="#a0r" x="117.74" y="103.37"/><use href="#a0r" x="120.5" y="105.37"/><use href="#a0r" x="123.26" y="107.36"/><use href="#a0r" x="126.02" y="109.36"/><use href="#a0r" x="128.78" y="111.35"/><use href="#a0r" x="131.54" y="113.35"/><use href="#a0r" x="134.3" y="115.34"/><use href="#a0r" x="137.06" y="117.34"/><use href="#a0r" x="139.82" y="119.33"/><use href="#a0r" x="142.58" y="121.33"/><use href="#a0r" x="145.34" y="123.32"/><use href="#a0r" x="148.1" y="125.32"/><use href="#a0r" x="150.86" y="127.31"/><use href="#a0r" x="153.62" y="129.31"/><use href="#a0r" x="156.38" y="131.3"/><use href="#a0r" x="159.14" y="133.3"/><use href="#a0r" x="161.9" y="135.29"/><use href="#a0r" x="164.66" y="137.29"/><use href="#a0r" x="167.42" y="139.28"/><use href="#a0r" x="170.18" y="141.28"/><use href="#a0r" x="172.94" y="143.27"/><use href="#a0r" x="175.7" y="145.27"/><use href="#a0r" x="178.46" y="147.26"/><use href="#a0r" x="181.22" y="149.26"/><use href="#a0r" x="183.98" y="151.25"/><use href="#a0r" x="186.74" y="153.25"/><use href="#a0r" x="189.5" y="155.24"/><use href="#a0r" x="192.26" y="157.24"/><use href="#a0r" x="195.02" y="159.23"/></g>
<g fill="#ff9200" stroke="#c8c8c8" stroke-width="0.33"><use href="#a0t" x="114.98" y="101.38"/><use href="#a0t" x="117.74" y="103.37"/><use href="#a0t" x="120.5" y="105.37"/><use href="#a0t" x="123.26" y="107.36"/><use href="#a0t" x="126.02" y="109.36"/><use href="#a0t" x="128.78" y="111.35"/><use href="#a0t" x="131.54" y="113.35"/><use href="#a0t" x="134.3" y="115.34"/><use href="#a0t" x="137.06" y="117.34"/><use href="#a0t" x="139.82" y="119.33"/><use href="#a0t" x="142.58" y="121.33"/><use href="#a0t" x="145.34" y="123.32"/><use href="#a0t" x="148.1" y="125.32"/><use href="#a0t" x="150.86" y="127.31"/><use href="#a0t" x="153.62" y="129.31"/><use href="#a0t" x="156.38" y="131.3"/><use href="#a0t" x="159.14" y="133.3"/><use href="#a0t" x="161.9" y="135.29"/><use href="#a0t" x="164.66" y="137.29"/><use href="#a0t" x="167.42" y="139.28"/><use href="#a0t" x="170.18" y="141.28"/><use href="#a0t" x="172.94" y="143.27"/><use href="#a0t" x="175.7" y="145.27"/><use href="#a0t" x="178.46" y="147.26"/><use href="#a0t" x="181.22" y="149.26"/><use href="#a0t" x="183.98" y="151.25"/><use href="#a0t" x="186.74" y="153.25"/><use href="#a0t" x="189.5" y="155.24"/><use href="#a0t" x="192.26" y="157.24"/><use href="#a0t" x="195.02" y="159.23"/></g>
<g fill="#4c3800"><use href="#a0l" x="111.52" y="102.85"/><use href="#a0l" x="114.28" y="104.84"/><use href="#a0l" x="117.04" y="106.84"/><use href="#a0l" x="119.8" y="108.83"/><use href="#a0l" x="122.56" y="110.83"/><use href="#a0l" x="125.32" y="112.82"/><use href="#a0l" x="128.08" y="114.82"/><use href="#a0l" x="130.84" y="116.81"/><use href="#a0l" x="133.6" y="118.81"/><use href="#a0l" x="136.36" y="120.8"/><use href="#a0l" x="139.12" y="122.8"/><use href="#a0l" x="141.88" y="124.79"/><use href="#a0l" x="144.64" y="126.79"/><use href="#a0l" x="147.4" y="128.78"/><use href="#a0l" x="150.16" y="130.78"/><use href="#a0l" x="152.92" y="132.77"/><use href="#a0l" x="155.68" y="134.77"/><use href="#a0l" x="158.44" y="136.76"/><use href="#a0l" x="161.2" y="138.76"/><use href="#a0l" x="163.96" y="140.75"/><use href="#a0l" x="166.72" y="142.75"/><use href="#a0l" x="169.48" y="144.74"/><use href="#a0l" x="172.24" y="146.74"/><use href="#a0l" x="175" y="148.73"/><use href="#a0l" x="177.76" y="150.73"/><use href="#a0l" x="180.52" y="152.72"/><use href="#a0l" x="183.28" y="154.72"/><use href="#a0l" x="186.04" y="156.71"/><use href="#a0l" x="188.8" y="158.71"/><use href="#a0l" x="191.56" y="160.7"/></g>
<g fill="#402e00"><use href="#a0r" x="111.52" y="102.85"/><use href="#a0r" x="114.28" y="104.84"/><use href="#a0r" x="117.04" y="106.84"/><use href="#a0r" x="119.8" y="108.83"/><use href="#a0r" x="122.56" y="110.83"/><use href="#a0r" x="125.32" y="112.82"/><use href="#a0r" x="128.08" y="114.82"/><use href="#a0r" x="130.84" y="116.81"/><use href="#a0r" x="133.6" y="118.81"/><use href="#a0r" x="136.36" y="120.8"/><use href="#a0r" x="139.12" y="122.8"/><use href="#a0r" x="141.88" y="124.79"/><use href="#a0r" x="144.64" y="126.79"/><use href="#a0r" x="147.4" y="128.78"/><use href="#a0r" x="150.16" y="130.78"/><use href="#a0r" x="152.92" y="132.77"/><use href="#a0r" x="155.68" y="134.77"/><use href="#a0r" x="158.44" y="136.76"/><use href="#a0r" x="161.2" y="138.76"/><use href="#a0r" x="163.96" y="140.75"/><use href="#a0r" x="166.72" y="142.75"/><use href="#a0r" x="169.48" y="144.74"/><use href="#a0r" x="172.24" y="146.74"/><use href="#a0r" x="175" y="148.73"/><use href="#a0r" x="177.76" y="150.73"/><use href="#a0r" x="180.52" y="152.72"/><use href="#a0r" x="183.28" y="154.72"/><use href="#a0r" x="186.04" y="156.71"/><use href="#a0r" x="188.8" y="158.71"/><use href="#a0r" x="191.56" y="160.7"/></g>
<g fill="#ffb900" stroke="#c8c8c8" stroke-width="0.33"><use href="#a0t" x="111.52" y="102.85"/><use href="#a0t" x="114.28" y="104.84"/><use href="#a0t" x="117.04" y="106.84"/><use href="#a0t" x="119.8" y="108.83"/><use href="#a0t" x="122.56" y="110.83"/><use href="#a0t" x="125.32" y="112.82"/><use href="#a0t" x="128.08" y="114.82"/><use href="#a0t" x="130.84" y="116.81"/><use href="#a0t" x="133.6" y="118.81"/><use href="#a0t" x="136.36" y="120.8"/><use href="#a0t" x="139.12" y="122.8"/><use href="#a0t" x="141.88" y="124.79"/><use href="#a0t" x="144.64" y="126.79"/><use href="#a0t" x="147.4" y="128.78"/><use href="#a0t" x="150.16" y="130.78"/><use href="#a0t" x="152.92" y="132.77"/><use href="#a0t" x="155.68" y="134.77"/><use href="#a0t" x="158.44" y="136.76"/><use href="#a0t" x="161.2" y="138.76"/><use href="#a0t" x="163.96" y="140.75"/><use href="#a0t" x="166.72" y="142.75"/><use href="#a0t" x="169.48" y="144.74"/><use href="#a0t" x="172.24" y="146.74"/><use href="#a0t" x="175" y="148.73"/><use href="#a0t" x="177.76" y="150.73"/><use href="#a0t" x="180.52" y="152.72"/><use href="#a0t" x="183.28" y="154.72"/><use href="#a0t" x="186.04" y="156.71"/><use href="#a0t" x="188.8" y="158.71"/><use href="#a0t" x="191.56" y="160.7"/></g>
<g fill="#4c4300"><use href="#a0l" x="108.06" y="104.31"/><use href="#a0l" x="110.82" y="106.31"/><use href="#a0l" x="113.58" y="108.31"/><use href="#a0l" x="116.34" y="110.3"/><use href="#a0l" x="119.1" y="112.29"/><use href="#a0l" x="121.86" y="114.29"/><use href="#a0l" x="124.62" y="116.28"/><use href="#a0l" x="127.38" y="118.28"/><use href="#a0l" x="130.14" y="120.28"/><use href="#a0l" x="132.9" y="122.27"/><use href="#a0l" x="135.66" y="124.26"/><use href="#a0l" x="138.42" y="126.26"/><use href="#a0l" x="141.18" y="128.25"/><use href="#a0l" x="143.94" y="130.25"/><use href="#a0l" x="146.7" y="132.25"/><use href="#a0l" x="149.46" y="134.24"/><use href="#a0l" x="152.22" y="136.23"/><use href="#a0l" x="154.98" y="138.23"/><use href="#a0l" x="157.74" y="140.22"/><use href="#a0l" x="160.5" y="142.22"/><use href="#a0l" x="163.26" y="144.22"/><use href="#a0l" x="166.02" y="146.21"/><use href="#a0l" x="168.78" y="148.21"/><use href="#a0l" x="171.54" y="150.2"/><use href="#a0l" x="174.3" y="152.19"/><use href="#a0l" x="177.06" y="154.19"/><use href="#a0l" x="179.82" y="156.19"/><use href="#a0l" x="182.58" y="158.18"/><use href="#a0l" x="185.34" y="160.17"/><use href="#a0l" x="188.1" y="162.17"/></g>
<g fill="#403800"><use href="#a0r" x="108.06" y="104.31"/><use href="#a0r" x="110.82" y="106.31"/><use href="#a0r" x="113.58" y="108.31"/><use href="#a0r" x="116.34" y="110.3"/><use href="#a0r" x="119.1" y="112.29"/><use href="#a0r" x="121.86" y="114.29"/><use href="#a0r" x="124.62" y="116.28"/><use href="#a0r" x="127.38" y="118.28"/><use href="#a0r" x="130.14" y="120.28"/><use href="#a0r" x="132.9" y="122.27"/><use href="#a0r" x="135.66" y="124.26"/><use href="#a0r" x="138.42" y="126.26"/><use href="#a0r" x="141.18" y="128.25"/><use href="#a0r" x="143.94" y="130.25"/><use href="#a0r" x="146.7" y="132.25"/><use href="#a0r" x="149.46" y="134.24"/><use href="#a0r" x="152.22" y="136.23"/><use href="#a0r" x="154.98" y="138.23"/><use href="#a0r" x="157.74" y="140.22"/><use href="#a0r" x="160.5" y="142.22"/><use href="#a0r" x="163.26" y="144.22"/><use href="#a0r" x="166.02" y="146.21"/><use href="#a0r" x="168.78" y="148.21"/><use href="#a0r" x="171.54" y="150.2"/><use href="#a0r" x="174.3" y="152.19"/><use href="#a0r" x="177.06" y="154.19"/><use href="#a0r" x="179.82" y="156.19"/><use href="#a0r" x="182.58" y="158.18"/><use href="#a0r" x="185.34" y="160.17"/><use href="#a0r" x="188.1" y="162.17"/></g>
<g fill="#ffe000" stroke="#c8c8c8" stroke-width="0.33"><use href="#a0t" x="108.06" y="104.31"/><use href="#a0t" x="110.82" y="106.31"/><use href="#a0t" x="113.58" y="108.31"/><use href="#a0t" x="116.34" y="110.3"/><use href="#a0t" x="119.1" y="112.29"/><use href="#a0t" x="121.86" y="114.29"/><use href="#a0t" x="124.62" y="116.28"/><use href="#a0t" x="127.38" y="118.28"/><use href="#a0t" x="130.14" y="120.28"/><use href="#a0t" x="132.9" y="122.27"/><use href="#a0t" x="135.66" y="124.26"/><use href="#a0t" x="138.42" y="126.26"/><use href="#a0t" x="141.18" y="128.25"/><use href="#a0t" x="143.94" y="130.25"/><use href="#a0t" x="146.7" y="132.25"/><use href="#a0t" x="149.46" y="134.24"/><use href="#a0t" x="152.22" y="136.23"/><use href="#a0t" x="154.98" y="138.23"/><use href="#a0t" x="157.74" y="140.22"/><use href="#a0t" x="160.5" y="142.22"/><use href="#a0t" x="163.26" y="144.22"/><use href="#a0t" x="166.02" y="146.21"/><use href="#a0t" x="168.78" y="148.21"/><use href="#a0t" x="171.54" y="150.2"/><use href="#a0t" x="174.3" y="152.19"/><use href="#a0t" x="177.06" y="154.19"/><use href="#a0t" x="179.82" y="156.19"/><use href="#a0t" x="182.58" y="158.18"/><use href="#a0t" x="185.34" y="160.17"/><use href="#a0t" x="188.1" y="162.17"/></g>
<g fill="#484c05"><use href="#a0l" x="104.6" y="105.78"/><use href="#a0l" x="107.36" y="107.78"/><use href="#a0l" x="110.12" y="109.77"/><use href="#a0l" x="112.88" y="111.77"/><use href="#a0l" x="115.64" y="113.76"/><use href="#a0l" x="118.4" y="115.76"/><use href="#a0l" x="121.16" y="117.75"/><use href="#a0l" x="123.92" y="119.75"/><use href="#a0l" x="126.68" y="121.74"/><use href="#a0l" x="129.44" y="123.74"/><use href="#a0l" x="132.2" y="125.73"/><use href="#a0l" x="134.96" y="127.73"/><use href="#a0l" x="137.72" y="129.72"/><use href="#a0l" x="140.48" y="131.72"/><use href="#a0l" x="143.24" y="133.71"/><use href="#a0l" x="146" y="135.71"/><use href="#a0l" x="148.76" y="137.7"/><use href="#a0l" x="151.52" y="139.7"/><use href="#a0l" x="154.28" y="141.69"/><use href="#a0l" x="157.04" y="143.69"/><use href="#a0l" x="159.8" y="145.68"/><use href="#a0l" x="162.56" y="147.68"/><use href="#a0l" x="165.32" y="149.67"/><use href="#a0l" x="168.08" y="151.67"/><use href="#a0l" x="170.84" y="153.66"/><use href="#a0l" x="173.6" y="155.66"/><use href="#a0l" x="176.36" y="157.65"/><use href="#a0l" x="179.12" y="159.65"/><use href="#a0l" x="181.88" y="161.64"/><use href="#a0l" x="184.64" y="163.64"/></g>
<g fill="#3c4004"><use href="#a0r" x="104.6" y="105.78"/><use href="#a0r" x="107.36" y="107.78"/><use href="#a0r" x="110.12" y="109.77"/><use href="#a0r" x="112.88" y="111.77"/><use href="#a0r" x="115.64" y="113.76"/><use href="#a0r" x="118.4" y="115.76"/><use href="#a0r" x="121.16" y="117.75"/><use href="#a0r" x="123.92" y="119.75"/><use href="#a0r" x="126.68" y="121.74"/><use href="#a0r" x="129.44" y="123.74"/><use href="#a0r" x="132.2" y="125.73"/><use href="#a0r" x="134.96" y="127.73"/><use href="#a0r" x="137.72" y="129.72"/><use href="#a0r" x="140.48" y="131.72"/><use href="#a0r" x="143.24" y="133.71"/><use href="#a0r" x="146" y="135.71"/><use href="#a0r" x="148.76" y="137.7"/><use href="#a0r" x="151.52" y="139.7"/><use href="#a0r" x="154.28" y="141.69"/><use href="#a0r" x="157.04" y="143.69"/><use href="#a0r" x="159.8" y="145.68"/><use href="#a0r" x="162.56" y="147.68"/><use href="#a0r" x="165.32" y="149.67"/><use href="#a0r" x="168.08" y="151.67"/><use href="#a0r" x="170.84" y="153.66"/><use href="#a0r" x="173.6" y="155.66"/><use href="#a0r" x="176.36" y="157.65"/><use href="#a0r" x="179.12" y="159.65"/><use href="#a0r" x="181.88" y="161.64"/><use href="#a0r" x="184.64" y="163.64"/></g>
<g fill="#f0ff0f" stroke="#c8c8c8" stroke-width="0.33"><use href="#a0t" x="104.6" y="105.78"/><use href="#a0t" x="107.36" y="107.78"/><use href="#a0t" x="110.12" y="109.77"/><use href="#a0t" x="112.88" y="111.77"/><use href="#a0t" x="115.64" y="113.76"/><use href="#a0t" x="118.4" y="115.76"/><use href="#a0t" x="121.16" y="117.75"/><use href="#a0t" x="123.92" y="119.75"/><use href="#a0t" x="126.68" y="121.74"/><use href="#a0t" x="129.44" y="123.74"/><use href="#a0t" x="132.2" y="125.73"/><use href="#a0t" x="134.96" y="127.73"/><use href="#a0t" x="137.72" y="129.72"/><use href="#a0t" x="140.48" y="131.72"/><use href="#a0t" x="143.24" y="133.71"/><use href="#a0t" x="146" y="135.71"/><use href="#a0t" x="148.76" y="137.7"/><use href="#a0t" x="151.52" y="139.7"/><use href="#a0t" x="154.28" y="141.69"/><use href="#a0t" x="157.04" y="143.69"/><use href="#a0t" x="159.8" y="145.68"/><use href="#a0t" x="162.56" y="147.68"/><use href="#a0t" x="165.32" y="149.67"/><use href="#a0t" x="168.08" y="151.67"/><use href="#a0t" x="170.84" y="153.66"/><use href="#a0t" x="173.6" y="155.66"/><use href="#a0t" x="176.36" y="157.65"/><use href="#a0t" x="179.12" y="159.65"/><use href="#a0t" x="181.88" y="161.64"/><use href="#a0t" x="184.64" y="163.64"/></g>
<g fill="#3a4c12"><use href="#a0l" x="101.14" y="107.25"/><use href="#a0l" x="103.9" y="109.25"/><use href="#a0l" x="106.66" y="111.24"/><use href="#a0l" x="109.42" y="113.24"/><use href="#a0l" x="112.18" y="115.23"/><use href="#a0l" x="114.94" y="117.23"/><use href="#a0l" x="117.7" y="119.22"/><use href="#a0l" x="120.46" y="121.22"/><use href="#a0l" x="123.22" y="123.21"/><use href="#a0l" x="125.98" y="125.21"/><use href="#a0l" x="128.74" y="127.2"/><use href="#a0l" x="131.5" y="129.2"/><use href="#a0l" x="134.26" y="131.19"/><use href="#a0l" x="137.02" y="133.19"/><use href="#a0l" x="139.78" y="135.18"/><use href="#a0l" x="142.54" y="137.18"/><use href="#a0l" x="145.3" y="139.17"/><use href="#a0l" x="148.06" y="141.17"/><use href="#a0l" x="150.82" y="143.16"/><use href="#a0l" x="153.58" y="145.16"/><use href="#a0l" x="156.34" y="147.15"/><use href="#a0l" x="159.1" y="149.15"/><use href="#a0l" x="161.86" y="151.14"/><use href="#a0l" x="164.62" y="153.14"/><use href="#a0l" x="167.38" y="155.13"/><use href="#a0l" x="170.14" y="157.13"/><use href="#a0l" x="172.9" y="159.12"/><use href="#a0l" x="175.66" y="161.12"/><use href="#a0l" x="178.42" y="163.11"/><use href="#a0l" x="181.18" y="165.11"/></g>
<g fill="#30400f"><use href="#a0r" x="101.14" y="107.25"/><use href="#a0r" x="103.9" y="109.25"/><use href="#a0r" x="106.66" y="111.24"/><use href="#a0r" x="109.42" y="113.24"/><use href="#a0r" x="112.18" y="115.23"/><use href="#a0r" x="114.94" y="117.23"/><use href="#a0r" x="117.7" y="119.22"/><use href="#a0r" x="120.46" y="121.22"/><use href="#a0r" x="123.22" y="123.21"/><use href="#a0r" x="125.98" y="125.21"/><use href="#a0r" x="128.74" y="127.2"/><use href="#a0r" x="131.5" y="129.2"/><use href="#a0r" x="134.26" y="131.19"/><use href="#a0r" x="137.02" y="133.19"/><use href="#a0r" x="139.78" y="135.18"/><use href="#a0r" x="142.54" y="137.18"/><use href="#a0r" x="145.3" y="139.17"/><use href="#a0r" x="148.06" y="141.17"/><use href="#a0r" x="150.82" y="143.16"/><use href="#a0r" x="153.58" y="145.16"/><use href="#a0r" x="156.34" y="147.15"/><use href="#a0r" x="159.1" y="149.15"/><use href="#a0r" x="161.86" y="151.14"/><use href="#a0r" x="164.62" y="153.14"/><use href="#a0r" x="167.38" y="155.13"/><use href="#a0r" x="170.14" y="157.13"/><use href="#a0r" x="172.9" y="159.12"/><use href="#a0r" x="175.66" y="161.12"/><use href="#a0r" x="178.42" y="163.11"/><use href="#a0r" x="181.18" y="165.11"/></g>
<g fill="#c2ff3d" stroke="#c8c8c8" stroke-width="0.33"><use href="#a0t" x="101.14" y="107.25"/><use href="#a0t" x="103.9" y="109.25"/><use href="#a0t" x="106.66" y="111.24"/><use href="#a0t" x="109.42" y="113.24"/><use href="#a0t" x="112.18" y="115.23"/><use href="#a0t" x="114.94" y="117.23"/><use href="#a0t" x="117.7" y="119.22"/><use href="#a0t" x="120.46" y="121.22"/><use href="#a0t" x="123.22" y="123.21"/><use href="#a0t" x="125.98" y="125.21"/><use href="#a0t" x="128.74" y="127.2"/><use href="#a0t" x="131.5" y="129.2"/><use href="#a0t" x="134.26" y="131.19"/><use href="#a0t" x="137.02" y="133.19"/><use href="#a0t" x="139.78" y="135.18"/><use href="#a0t" x="142.54" y="137.18"/><use href="#a0t" x="145.3" y="139.17"/><use href="#a0t" x="148.06" y="141.17"/><use href="#a0t" x="150.82" y="143.16"/><use href="#a0t" x="153.58" y="145.16"/><use href="#a0t" x="156.34" y="147.15"/><use href="#a0t" x="159.1" y="149.15"/><use href="#a0t" x="161.86" y="151.14"/><use href="#a0t" x="164.62" y="153.14"/><use href="#a0t" x="167.38" y="155.13"/><use href="#a0t" x="170.14" y="157.13"/><use href="#a0t" x="172.9" y="159.12"/><use href="#a0t" x="175.66" y="161.12"/><use href="#a0t" x="178.42" y="163.11"/><use href="#a0t" x="181.18" y="165.11"/></g>
<g fill="#2c4c20"><use href="#a0l" x="97.69" y="108.72"/><use href="#a0l" x="100.45" y="110.72"/><use href="#a0l" x="103.21" y="112.71"/><use href="#a0l" x="105.97" y="114.71"/><use href="#a0l" x="108.73" y="116.7"/><use href="#a0l" x="111.49" y="118.7"/><use href="#a0l" x="114.25" y="120.69"/><use href="#a0l" x="117.01" y="122.69"/><use href="#a0l" x="119.77" y="124.68"/><use href="#a0l" x="122.53" y="126.68"/><use href="#a0l" x="125.29" y="128.67"/><use href="#a0l" x="128.05" y="130.67"/><use href="#a0l" x="130.81" y="132.66"/><use href="#a0l" x="133.57" y="134.66"/><use href="#a0l" x="136.33" y="136.65"/><use href="#a0l" x="139.09" y="138.65"/><use href="#a0l" x="141.85" y="140.64"/><use href="#a0l" x="144.61" y="142.64"/><use href="#a0l" x="147.37" y="144.63"/><use href="#a0l" x="150.13" y="146.63"/><use href="#a0l" x="152.89" y="148.62"/><use href="#a0l" x="155.65" y="150.62"/><use href="#a0l" x="158.41" y="152.61"/><use href="#a0l" x="161.17" y="154.61"/><use href="#a0l" x="163.93" y="156.6"/><use href="#a0l" x="166.69" y="158.6"/><use href="#a0l" x="169.45" y="160.59"/><use href="#a0l" x="172.21" y="162.59"/><use href="#a0l" x="174.97" y="164.58"/><use href="#a0l" x="177.73" y="166.58"/></g>
<g fill="#25401b"><use href="#a0r" x="97.69" y="108.72"/><use href="#a0r" x="100.45" y="110.72"/><use href="#a0r" x="103.21" y="112.71"/><use href="#a0r" x="105.97" y="114.71"/><use href="#a0r" x="108.73" y="116.7"/><use href="#a0r" x="111.49" y="118.7"/><use href="#a0r" x="114.25" y="120.69"/><use href="#a0r" x="117.01" y="122.69"/><use href="#a0r" x="119.77" y="124.68"/><use href="#a0r" x="122.53" y="126.68"/><use href="#a0r" x="125.29" y="128.67"/><use href="#a0r" x="128.05" y="130.67"/><use href="#a0r" x="130.81" y="132.66"/><use href="#a0r" x="133.57" y="134.66"/><use href="#a0r" x="136.33" y="136.65"/><use href="#a0r" x="139.09" y="138.65"/><use href="#a0r" x="141.85" y="140.64"/><use href="#a0r" x="144.61" y="142.64"/><use href="#a0r" x="147.37" y="144.63"/><use href="#a0r" x="150.13" y="146.63"/><use href="#a0r" x="152.89" y="148.62"/><use href="#a0r" x="155.65" y="150.62"/><use href="#a0r" x="158.41" y="152.61"/><use href="#a0r" x="161.17" y="154.61"/><use href="#a0r" x="163.93" y="156.6"/><use href="#a0r" x="166.69" y="158.6"/><use href="#a0r" x="169.45" y="160.59"/><use href="#a0r" x="172.21" y="162.59"/><use href="#a0r" x="174.97" y="164.58"/><use href="#a0r" x="177.73" y="166.58"/></g>
<g fill="#94ff6b" stroke="#c8c8c8" stroke-width="0.33"><use href="#a0t" x="97.69" y="108.72"/><use href="#a0t" x="100.45" y="110.72"/><use href="#a0t" x="103.21" y="112.71"/><use href="#a0t" x="105.97" y="114.71"/><use href="#a0t" x="108.73" y="116.7"/><use href="#a0t" x="111.49" y="118.7"/><use href="#a0t" x="114.25" y="120.69"/><use href="#a0t" x="117.01" y="122.69"/><use href="#a0t" x="119.77" y="124.68"/><use href="#a0t" x="122.53" y="126.68"/><use href="#a0t" x="125.29" y="128.67"/><use href="#a0t" x="128.05" y="130.67"/><use href="#a0t" x="130.81" y="132.66"/><use href="#a0t" x="133.57" y="134.66"/><use href="#a0t" x="136.33" y="136.65"/><use href="#a0t" x="139.09" y="138.65"/><use href="#a0t" x="141.85" y="140.64"/><use href="#a0t" x="144.61" y="142.64"/><use href="#a0t" x="147.37" y="144.63"/><use href="#a0t" x="150.13" y="146.63"/><use href="#a0t" x="152.89" y="148.62"/><use href="#a0t" x="155.65" y="150.62"/><use href="#a0t" x="158.41" y="152.61"/><use href="#a0t" x="161.17" y="154.61"/><use href="#a0t" x="163.93" y="156.6"/><use href="#a0t" x="166.69" y="158.6"/><use href="#a0t" x="169.45" y="160.59"/><use href="#a0t" x="172.21" y="162.59"/><use href="#a0t" x="174.97" y="164.58"/><use href="#a0t" x="177.73" y="166.58"/></g>
<g fill="#214c2b"><use href="#a0l" x="94.23" y="110.19"/><use href="#a0l" x="96.99" y="112.19"/><use href="#a0l" x="99.75" y="114.18"/><use href="#a0l" x="102.51" y="116.18"/><use href="#a0l" x="105.27" y="118.17"/><use href="#a0l" x="108.03" y="120.17"/><use href="#a0l" x="110.79" y="122.16"/><use href="#a0l" x="113.55" y="124.16"/><use href="#a0l" x="116.31" y="126.15"/><use href="#a0l" x="119.07" y="128.15"/><use href="#a0l" x="121.83" y="130.14"/><use href="#a0l" x="124.59" y="132.14"/><use href="#a0l" x="127.35" y="134.13"/><use href="#a0l" x="130.11" y="136.13"/><use href="#a0l" x="132.87" y="138.12"/><use href="#a0l" x="135.63" y="140.12"/><use href="#a0l" x="138.39" y="142.11"/><use href="#a0l" x="141.15" y="144.11"/><use href="#a0l" x="143.91" y="146.1"/><use href="#a0l" x="146.67" y="148.1"/><use href="#a0l" x="149.43" y="150.09"/><use href="#a0l" x="152.19" y="152.09"/><use href="#a0l" x="154.95" y="154.08"/><use href="#a0l" x="157.71" y="156.08"/><use href="#a0l" x="160.47" y="158.07"/><use href="#a0l" x="163.23" y="160.07"/><use href="#a0l" x="165.99" y="162.06"/><use href="#a0l" x="168.75" y="164.06"/><use href="#a0l" x="171.51" y="166.05"/><use href="#a0l" x="174.27" y="168.05"/></g>
<g fill="#1c4024"><use href="#a0r" x="94.23" y="110.19"/><use href="#a0r" x="96.99" y="112.19"/><use href="#a0r" x="99.75" y="114.18"/><use href="#a0r" x="102.51" y="116.18"/><use href="#a0r" x="105.27" y="118.17"/><use href="#a0r" x="108.03" y="120.17"/><use href="#a0r" x="110.79" y="122.16"/><use href="#a0r" x="113.55" y="124.16"/><use href="#a0r" x="116.31" y="126.15"/><use href="#a0r" x="119.07" y="128.15"/><use href="#a0r" x="121.83" y="130.14"/><use href="#a0r" x="124.59" y="132.14"/><use href="#a0r" x="127.35" y="134.13"/><use href="#a0r" x="130.11" y="136.13"/><use href="#a0r" x="132.87" y="138.12"/><use href="#a0r" x="135.63" y="140.12"/><use href="#a0r" x="138.39" y="142.11"/><use href="#a0r" x="141.15" y="144.11"/><use href="#a0r" x="143.91" y="146.1"/><use href="#a0r" x="146.67" y="148.1"/><use href="#a0r" x="149.43" y="150.09"/><use href="#a0r" x="152.19" y="152.09"/><use href="#a0r" x="154.95" y="154.08"/><use href="#a0r" x="157.71" y="156.08"/><use href="#a0r" x="160.47" y="158.07"/><use href="#a0r" x="163.23" y="160.07"/><use href="#a0r" x="165.99" y="162.06"/><use href="#a0r" x="168.75" y="164.06"/><use href="#a0r" x="171.51" y="166.05"/><use href="#a0r" x="174.27" y="168.05"/></g>
<g fill="#6eff90" stroke="#c8c8c8" stroke-width="0.33"><use href="#a0t" x="94.23" y="110.19"/><use href="#a0t" x="96.99" y="112.19"/><use href="#a0t" x="99.75" y="114.18"/><use href="#a0t" x="102.51" y="116.18"/><use href="#a0t" x="105.27" y="118.17"/><use href="#a0t" x="108.03" y="120.17"/><use href="#a0t" x="110.79" y="122.16"/><use href="#a0t" x="113.55" y="124.16"/><use href="#a0t" x="116.31" y="126.15"/><use href="#a0t" x="119.07" y="128.15"/><use href="#a0t" x="121.83" y="130.14"/><use href="#a0t" x="124.59" y="132.14"/><use href="#a0t" x="127.35" y="134.13"/><use href="#a0t" x="130.11" y="136.13"/><use href="#a0t" x="132.87" y="138.12"/><use href="#a0t" x="135.63" y="140.12"/><use href="#a0t" x="138.39" y="142.11"/><use href="#a0t" x="141.15" y="144.11"/><use href="#a0t" x="143.91" y="146.1"/><use href="#a0t" x="146.67" y="148.1"/><use href="#a0t" x="149.43" y="150.09"/><use href="#a0t" x="152.19" y="152.09"/><use href="#a0t" x="154.95" y="154.08"/><use href="#a0t" x="157.71" y="156.08"/><use href="#a0t" x="160.47" y="158.07"/><use href="#a0t" x="163.23" y="160.07"/><use href="#a0t" x="165.99" y="162.06"/><use href="#a0t" x="168.75" y="164.06"/><use href="#a0t" x="171.51" y="166.05"/><use href="#a0t" x="174.27" y="168.05"/></g>
<g fill="#164c37"><use href="#a0l" x="90.77" y="111.66"/><use href="#a0l" x="93.53" y="113.66"/><use href="#a0l" x="96.29" y="115.65"/><use href="#a0l" x="99.05" y="117.64"/><use href="#a0l" x="101.81" y="119.64"/><use href="#a0l" x="104.57" y="121.63"/><use href="#a0l" x="107.33" y="123.63"/><use href="#a0l" x="110.09" y="125.62"/><use href="#a0l" x="112.85" y="127.62"/><use href="#a0l" x="115.61" y="129.62"/><use href="#a0l" x="118.37" y="131.61"/><use href="#a0l" x="121.13" y="133.6"/><use href="#a0l" x="123.89" y="135.6"/><use href="#a0l" x="126.65" y="137.59"/><use href="#a0l" x="129.41" y="139.59"/><use href="#a0l" x="132.17" y="141.59"/><use href="#a0l" x="134.93" y="143.58"/><use href="#a0l" x="137.69" y="145.57"/><use href="#a0l" x="140.45" y="147.57"/><use href="#a0l" x="143.21" y="149.56"/><use href="#a0l" x="145.97" y="151.56"/><use href="#a0l" x="148.73" y="153.56"/><use href="#a0l" x="151.49" y="155.55"/><use href="#a0l" x="154.25" y="157.54"/><use href="#a0l" x="157.01" y="159.54"/><use href="#a0l" x="159.77" y="161.53"/><use href="#a0l" x="162.53" y="163.53"/><use href="#a0l" x="165.29" y="165.53"/><use href="#a0l" x="168.05" y="167.52"/><use href="#a0l" x="170.81" y="169.51"/></g>
<g fill="#12402d"><use href="#a0r" x="90.77" y="111.66"/><use href="#a0r" x="93.53" y="113.66"/><use href="#a0r" x="96.29" y="115.65"/><use href="#a0r" x="99.05" y="117.64"/><use href="#a0r" x="101.81" y="119.64"/><use href="#a0r" x="104.57" y="121.63"/><use href="#a0r" x="107.33" y="123.63"/><use href="#a0r" x="110.09" y="125.62"/><use href="#a0r" x="112.85" y="127.62"/><use href="#a0r" x="115.61" y="129.62"/><use href="#a0r" x="118.37" y="131.61"/><use href="#a0r" x="121.13" y="133.6"/><use href="#a0r" x="123.89" y="135.6"/><use href="#a0r" x="126.65" y="137.59"/><use href="#a0r" x="129.41" y="139.59"/><use href="#a0r" x="132.17" y="141.59"/><use href="#a0r" x="134.93" y="143.58"/><use href="#a0r" x="137.69" y="145.57"/><use href="#a0r" x="140.45" y="147.57"/><use href="#a0r" x="143.21" y="149.56"/><use href="#a0r" x="145.97" y="151.56"/><use href="#a0r" x="148.73" y="153.56"/><use href="#a0r" x="151.49" y="155.55"/><use href="#a0r" x="154.25" y="157.54"/><use href="#a0r" x="157.01" y="159.54"/><use href="#a0r" x="159.77" y="161.53"/><use href="#a0r" x="162.53" y="163.53"/><use href="#a0r" x="165.29" y="165.53"/><use href="#a0r" x="168.05" y="167.52"/><use href="#a0r" x="170.81" y="169.51"/></g>
<g fill="#49ffb6" stroke="#c8c8c8" stroke-width="0.33"><use href="#a0t" x="90.77" y="111.66"/><use href="#a0t" x="93.53" y="113.66"/><use href="#a0t" x="96.29" y="115.65"/><use href="#a0t" x="99.05" y="117.64"/><use href="#a0t" x="101.81" y="119.64"/><use href="#a0t" x="104.57" y="121.63"/><use href="#a0t" x="107.33" y="123.63"/><use href="#a0t" x="110.09" y="125.62"/><use href="#a0t" x="112.85" y="127.62"/><use href="#a0t" x="115.61" y="129.62"/><use href="#a0t" x="118.37" y="131.61"/><use href="#a0t" x="121.13" y="133.6"/><use href="#a0t" x="123.89" y="135.6"/><use href="#a0t" x="126.65" y="137.59"/><use href="#a0t" x="129.41" y="139.59"/><use href="#a0t" x="132.17" y="141.59"/><use href="#a0t" x="134.93" y="143.58"/><use href="#a0t" x="137.69" y="145.57"/><use href="#a0t" x="140.45" y="147.57"/><use href="#a0t" x="143.21" y="149.56"/><use href="#a0t" x="145.97" y="151.56"/><use href="#a0t" x="148.73" y="153.56"/><use href="#a0t" x="151.49" y="155.55"/><use href="#a0t" x="154.25" y="157.54"/><use href="#a0t" x="157.01" y="159.54"/><use href="#a0t" x="159.77" y="161.53"/><use href="#a0t" x="162.53" y="163.53"/><use href="#a0t" x="165.29" y="165.53"/><use href="#a0t" x="168.05" y="167.52"/><use href="#a0t" x="170.81" y="169.51"/></g>
<g fill="#0b4c42"><use href="#a0l" x="87.31" y="113.13"/><use href="#a0l" x="90.07" y="115.12"/><use href="#a0l" x="92.83" y="117.12"/><use href="#a0l" x="95.59" y="119.11"/><use href="#a0l" x="98.35" y="121.11"/><use href="#a0l" x="101.11" y="123.1"/><use href="#a0l" x="103.87" y="125.1"/><use href="#a0l" x="106.63" y="127.09"/><use href="#a0l" x="109.39" y="129.09"/><use href="#a0l" x="112.15" y="131.08"/><use href="#a0l" x="114.91" y="133.08"/><use href="#a0l" x="117.67" y="135.07"/><use href="#a0l" x="120.43" y="137.07"/><use href="#a0l" x="123.19" y="139.06"/><use href="#a0l" x="125.95" y="141.06"/><use href="#a0l" x="128.71" y="143.05"/><use href="#a0l" x="131.47" y="145.05"/><use href="#a0l" x="134.23" y="147.04"/><use href="#a0l" x="136.99" y="149.04"/><use href="#a0l" x="139.75" y="151.03"/><use href="#a0l" x="142.51" y="153.03"/><use href="#a0l" x="145.27" y="155.02"/><use href="#a0l" x="148.03" y="157.02"/><use href="#a0l" x="150.79" y="159.01"/><use href="#a0l" x="153.55" y="161.01"/><use href="#a0l" x="156.31" y="163"/><use href="#a0l" x="159.07" y="165"/><use href="#a0l" x="161.83" y="166.99"/><use href="#a0l" x="164.59" y="168.99"/><use href="#a0l" x="167.35" y="170.98"/></g>
<g fill="#094037"><use href="#a0r" x="87.31" y="113.13"/><use href="#a0r" x="90.07" y="115.12"/><use href="#a0r" x="92.83" y="117.12"/><use href="#a0r" x="95.59" y="119.11"/><use href="#a0r" x="98.35" y="121.11"/><use href="#a0r" x="101.11" y="123.1"/><use href="#a0r" x="103.87" y="125.1"/><use href="#a0r" x="106.63" y="127.09"/><use href="#a0r" x="109.39" y="129.09"/><use href="#a0r" x="112.15" y="131.08"/><use href="#a0r" x="114.91" y="133.08"/><use href="#a0r" x="117.67" y="135.07"/><use href="#a0r" x="120.43" y="137.07"/><use href="#a0r" x="123.19" y="139.06"/><use href="#a0r" x="125.95" y="141.06"/><use href="#a0r" x="128.71" y="143.05"/><use href="#a0r" x="131.47" y="145.05"/><use href="#a0r" x="134.23" y="147.04"/><use href="#a0r" x="136.99" y="149.04"/><use href="#a0r" x="139.75" y="151.03"/><use href="#a0r" x="142.51" y="153.03"/><use href="#a0r" x="145.27" y="155.02"/><use href="#a0r" x="148.03" y="157.02"/><use href="#a0r" x="150.79" y="159.01"/><use href="#a0r" x="153.55" y="161.01"/><use href="#a0r" x="156.31" y="163"/><use href="#a0r" x="159.07" y="165"/><use href="#a0r" x="161.83" y="166.99"/><use href="#a0r" x="164.59" y="168.99"/><use href="#a0r" x="167.35" y="170.98"/></g>
<g fill="#24ffdb" stroke="#c8c8c8" stroke-width="0.33"><use href="#a0t" x="87.31" y="113.13"/><use href="#a0t" x="90.07" y="115.12"/><use href="#a0t" x="92.83" y="117.12"/><use href="#a0t" x="95.59" y="119.11"/><use href="#a0t" x="98.35" y="121.11"/><use href="#a0t" x="101.11" y="123.1"/><use href="#a0t" x="103.87" y="125.1"/><use href="#a0t" x="106.63" y="127.09"/><use href="#a0t" x="109.39" y="129.09"/><use href="#a0t" x="112.15" y="131.08"/><use href="#a0t" x="114.91" y="133.08"/><use href="#a0t" x="117.67" y="135.07"/><use href="#a0t" x="120.43" y="137.07"/><use href="#a0t" x="123.19" y="139.06"/><use href="#a0t" x="125.95" y="141.06"/><use href="#a0t" x="128.71" y="143.05"/><use href="#a0t" x="131.47" y="145.05"/><use href="#a0t" x="134.23" y="147.04"/><use href="#a0t" x="136.99" y="149.04"/><use href="#a0t" x="139.75" y="151.03"/><use href="#a0t" x="142.51" y="153.03"/><use href="#a0t" x="145.27" y="155.02"/><use href="#a0t" x="148.03" y="157.02"/><use href="#a0t" x="150.79" y="159.01"/><use href="#a0t" x="153.55" y="161.01"/><use href="#a0t" x="156.31" y="163"/><use href="#a0t" x="159.07" y="165"/><use href="#a0t" x="161.83" y="166.99"/><use href="#a0t" x="164.59" y="168.99"/><use href="#a0t" x="167.35" y="170.98"/></g>
<g fill="#024c4b"><use href="#a0l" x="83.85" y="114.6"/><use href="#a0l" x="86.61" y="116.59"/><use href="#a0l" x="89.37" y="118.59"/><use href="#a0l" x="92.13" y="120.58"/><use href="#a0l" x="94.89" y="122.58"/><use href="#a0l" x="97.65" y="124.57"/><use href="#a0l" x="100.41" y="126.57"/><use href="#a0l" x="103.17" y="128.56"/><use href="#a0l" x="105.93" y="130.56"/><use href="#a0l" x="108.69" y="132.55"/><use href="#a0l" x="111.45" y="134.55"/><use href="#a0l" x="114.21" y="136.54"/><use href="#a0l" x="116.97" y="138.54"/><use href="#a0l" x="119.73" y="140.53"/><use href="#a0l" x="122.49" y="142.53"/><use href="#a0l" x="125.25" y="144.52"/><use href="#a0l" x="128.01" y="146.52"/><use href="#a0l" x="130.77" y="148.51"/><use href="#a0l" x="133.53" y="150.51"/><use href="#a0l" x="136.29" y="152.5"/><use href="#a0l" x="139.05" y="154.5"/><use href="#a0l" x="141.81" y="156.49"/><use href="#a0l" x="144.57" y="158.49"/><use href="#a0l" x="147.33" y="160.48"/><use href="#a0l" x="150.09" y="162.48"/><use href="#a0l" x="152.85" y="164.47"/><use href="#a0l" x="155.61" y="166.47"/><use href="#a0l" x="158.37" y="168.46"/><use href="#a0l" x="161.13" y="170.46"/><use href="#a0l" x="163.89" y="172.45"/></g>
<g fill="#01403e"><use href="#a0r" x="83.85" y="114.6"/><use href="#a0r" x="86.61" y="116.59"/><use href="#a0r" x="89.37" y="118.59"/><use href="#a0r" x="92.13" y="120.58"/><use href="#a0r" x="94.89" y="122.58"/><use href="#a0r" x="97.65" y="124.57"/><use href="#a0r" x="100.41" y="126.57"/><use href="#a0r" x="103.17" y="128.56"/><use href="#a0r" x="105.93" y="130.56"/><use href="#a0r" x="108.69" y="132.55"/><use href="#a0r" x="111.45" y="134.55"/><use href="#a0r" x="114.21" y="136.54"/><use href="#a0r" x="116.97" y="138.54"/><use href="#a0r" x="119.73" y="140.53"/><use href="#a0r" x="122.49" y="142.53"/><use href="#a0r" x="125.25" y="144.52"/><use href="#a0r" x="128.01" y="146.52"/><use href="#a0r" x="130.77" y="148.51"/><use href="#a0r" x="133.53" y="150.51"/><use href="#a0r" x="136.29" y="152.5"/><use href="#a0r" x="139.05" y="154.5"/><use href="#a0r" x="141.81" y="156.49"/><use href="#a0r" x="144.57" y="158.49"/><use href="#a0r" x="147.33" y="160.48"/><use href="#a0r" x="150.09" y="162.48"/><use href="#a0r" x="152.85" y="164.47"/><use href="#a0r" x="155.61" y="166.47"/><use href="#a0r" x="158.37" y="168.46"/><use href="#a0r" x="161.13" y="170.46"/><use href="#a0r" x="163.89" y="172.45"/></g>
<g fill="#05fffa" stroke="#c8c8c8" stroke-width="0.33"><use href="#a0t" x="83.85" y="114.6"/><use href="#a0t" x="86.61" y="116.59"/><use href="#a0t" x="89.37" y="118.59"/><use href="#a0t" x="92.13" y="120.58"/><use href="#a0t" x="94.89" y="122.58"/><use href="#a0t" x="97.65" y="124.57"/><use href="#a0t" x="100.41" y="126.57"/><use href="#a0t" x="103.17" y="128.56"/><use href="#a0t" x="105.93" y="130.56"/><use href="#a0t" x="108.69" y="132.55"/><use href="#a0t" x="111.45" y="134.55"/><use href="#a0t" x="114.21" y="136.54"/><use href="#a0t" x="116.97" y="138.54"/><use href="#a0t" x="119.73" y="140.53"/><use href="#a0t" x="122.49" y="142.53"/><use href="#a0t" x="125.25" y="144.52"/><use href="#a0t" x="128.01" y="146.52"/><use href="#a0t" x="130.77" y="148.51"/><use href="#a0t" x="133.53" y="150.51"/><use href="#a0t" x="136.29" y="152.5"/><use href="#a0t" x="139.05" y="154.5"/><use href="#a0t" x="141.81" y="156.49"/><use href="#a0t" x="144.57" y="158.49"/><use href="#a0t" x="147.33" y="160.48"/><use href="#a0t" x="150.09" y="162.48"/><use href="#a0t" x="152.85" y="164.47"/><use href="#a0t" x="155.61" y="166.47"/><use href="#a0t" x="158.37" y="168.46"/><use href="#a0t" x="161.13" y="170.46"/><use href="#a0t" x="163.89" y="172.45"/></g>
<g fill="#00454c"><use href="#a0l" x="80.4" y="116.07"/><use href="#a0l" x="83.16" y="118.06"/><use href="#a0l" x="85.92" y="120.06"/><use href="#a0l" x="88.68" y="122.05"/><use href="#a0l" x="91.44" y="124.05"/><use href="#a0l" x="94.2" y="126.04"/><use href="#a0l" x="96.96" y="128.04"/><use href="#a0l" x="99.72" y="130.03"/><use href="#a0l" x="102.48" y="132.03"/><use href="#a0l" x="105.24" y="134.02"/><use href="#a0l" x="108" y="136.02"/><use href="#a0l" x="110.76" y="138.01"/><use href="#a0l" x="113.52" y="140.01"/><use href="#a0l" x="116.28" y="142"/><use href="#a0l" x="119.04" y="144"/><use href="#a0l" x="121.8" y="145.99"/><use href="#a0l" x="124.56" y="147.99"/><use href="#a0l" x="127.32" y="149.98"/><use href="#a0l" x="130.08" y="151.98"/><use href="#a0l" x="132.84" y="153.97"/><use href="#a0l" x="135.6" y="155.97"/><use href="#a0l" x="138.36" y="157.96"/><use href="#a0l" x="141.12" y="159.96"/><use href="#a0l" x="143.88" y="161.95"/><use href="#a0l" x="146.64" y="163.95"/><use href="#a0l" x="149.4" y="165.94"/><use href="#a0l" x="152.16" y="167.94"/><use href="#a0l" x="154.92" y="169.93"/><use href="#a0l" x="157.68" y="171.93"/><use href="#a0l" x="160.44" y="173.92"/></g>
<g fill="#003940"><use href="#a0r" x="80.4" y="116.07"/><use href="#a0r" x="83.16" y="118.06"/><use href="#a0r" x="85.92" y="120.06"/><use href="#a0r" x="88.68" y="122.05"/><use href="#a0r" x="91.44" y="124.05"/><use href="#a0r" x="94.2" y="126.04"/><use href="#a0r" x="96.96" y="128.04"/><use href="#a0r" x="99.72" y="130.03"/><use href="#a0r" x="102.48" y="132.03"/><use href="#a0r" x="105.24" y="134.02"/><use href="#a0r" x="108" y="136.02"/><use href="#a0r" x="110.76" y="138.01"/><use href="#a0r" x="113.52" y="140.01"/><use href="#a0r" x="116.28" y="142"/><use href="#a0r" x="119.04" y="144"/><use href="#a0r" x="121.8" y="145.99"/><use href="#a0r" x="124.56" y="147.99"/><use href="#a0r" x="127.32" y="149.98"/><use href="#a0r" x="130.08" y="151.98"/><use href="#a0r" x="132.84" y="153.97"/><use href="#a0r" x="135.6" y="155.97"/><use href="#a0r" x="138.36" y="157.96"/><use href="#a0r" x="141.12" y="159.96"/><use href="#a0r" x="143.88" y="161.95"/><use href="#a0r" x="146.64" y="163.95"/><use href="#a0r" x="149.4" y="165.94"/><use href="#a0r" x="152.16" y="167.94"/><use href="#a0r" x="154.92" y="169.93"/><use href="#a0r" x="157.68" y="171.93"/><use href="#a0r" x="160.44" y="173.92"/></g>
<g fill="#00e5ff" stroke="#c8c8c8" stroke-width="0.33"><use href="#a0t" x="80.4" y="116.07"/><use href="#a0t" x="83.16" y="118.06"/><use href="#a0t" x="85.92" y="120.06"/><use href="#a0t" x="88.68" y="122.05"/><use href="#a0t" x="91.44" y="124.05"/><use href="#a0t" x="94.2" y="126.04"/><use href="#a0t" x="96.96" y="128.04"/><use href="#a0t" x="99.72" y="130.03"/><use href="#a0t" x="102.48" y="132.03"/><use href="#a0t" x="105.24" y="134.02"/><use href="#a0t" x="108" y="136.02"/><use href="#a0t" x="110.76" y="138.01"/><use href="#a0t" x="113.52" y="140.01"/><use href="#a0t" x="116.28" y="142"/><use href="#a0t" x="119.04" y="144"/><use href="#a0t" x="121.8" y="145.99"/><use href="#a0t" x="124.56" y="147.99"/><use href="#a0t" x="127.32" y="149.98"/><use href="#a0t" x="130.08" y="151.98"/><use href="#a0t" x="132.84" y="153.97"/><use href="#a0t" x="135.6" y="155.97"/><use href="#a0t" x="138.36" y="157.96"/><use href="#a0t" x="141.12" y="159.96"/><use href="#a0t" x="143.88" y="161.95"/><use href="#a0t" x="146.64" y="163.95"/><use href="#a0t" x="149.4" y="165.94"/><use href="#a0t" x="152.16" y="167.94"/><use href="#a0t" x="154.92" y="169.93"/><use href="#a0t" x="157.68" y="171.93"/><use href="#a0t" x="160.44" y="173.92"/></g>
<g fill="#003c4c"><use href="#a0l" x="76.94" y="117.54"/><use href="#a0l" x="79.7" y="119.53"/><use href="#a0l" x="82.46" y="121.53"/><use href="#a0l" x="85.22" y="123.52"/><use href="#a0l" x="87.98" y="125.52"/><use href="#a0l" x="90.74" y="127.51"/><use href="#a0l" x="93.5" y="129.51"/><use href="#a0l" x="96.26" y="131.5"/><use href="#a0l" x="99.02" y="133.5"/><use href="#a0l" x="101.78" y="135.49"/><use href="#a0l" x="104.54" y="137.49"/><use href="#a0l" x="107.3" y="139.48"/><use href="#a0l" x="110.06" y="141.48"/><use href="#a0l" x="112.82" y="143.47"/><use href="#a0l" x="115.58" y="145.47"/><use href="#a0l" x="118.34" y="147.46"/><use href="#a0l" x="121.1" y="149.46"/><use href="#a0l" x="123.86" y="151.45"/><use href="#a0l" x="126.62" y="153.45"/><use href="#a0l" x="129.38" y="155.44"/><use href="#a0l" x="132.14" y="157.44"/><use href="#a0l" x="134.9" y="159.43"/><use href="#a0l" x="137.66" y="161.43"/><use href="#a0l" x="140.42" y="163.42"/><use href="#a0l" x="143.18" y="165.42"/><use href="#a0l" x="145.94" y="167.41"/><use href="#a0l" x="148.7" y="169.41"/><use href="#a0l" x="151.46" y="171.4"/><use href="#a0l" x="154.22" y="173.4"/><use href="#a0l" x="156.98" y="175.39"/></g>
<g fill="#003240"><use href="#a0r" x="76.94" y="117.54"/><use href="#a0r" x="79.7" y="119.53"/><use href="#a0r" x="82.46" y="121.53"/><use href="#a0r" x="85.22" y="123.52"/><use href="#a0r" x="87.98" y="125.52"/><use href="#a0r" x="90.74" y="127.51"/><use href="#a0r" x="93.5" y="129.51"/><use href="#a0r" x="96.26" y="131.5"/><use href="#a0r" x="99.02" y="133.5"/><use href="#a0r" x="101.78" y="135.49"/><use href="#a0r" x="104.54" y="137.49"/><use href="#a0r" x="107.3" y="139.48"/><use href="#a0r" x="110.06" y="141.48"/><use href="#a0r" x="112.82" y="143.47"/><use href="#a0r" x="115.58" y="145.47"/><use href="#a0r" x="118.34" y="147.46"/><use href="#a0r" x="121.1" y="149.46"/><use href="#a0r" x="123.86" y="151.45"/><use href="#a0r" x="126.62" y="153.45"/><use href="#a0r" x="129.38" y="155.44"/><use href="#a0r" x="132.14" y="157.44"/><use href="#a0r" x="134.9" y="159.43"/><use href="#a0r" x="137.66" y="161.43"/><use href="#a0r" x="140.42" y="163.42"/><use href="#a0r" x="143.18" y="165.42"/><use href="#a0r" x="145.94" y="167.41"/><use href="#a0r" x="148.7" y="169.41"/><use href="#a0r" x="151.46" y="171.4"/><use href="#a0r" x="154.22" y="173.4"/><use href="#a0r" x="156.98" y="175.39"/></g>
<g fill="#00c7ff" stroke="#c8c8c8" stroke-width="0.33"><use href="#a0t" x="76.94" y="117.54"/><use href="#a0t" x="79.7" y="119.53"/><use href="#a0t" x="82.46" y="121.53"/><use href="#a0t" x="85.22" y="123.52"/><use href="#a0t" x="87.98" y="125.52"/><use href="#a0t" x="90.74" y="127.51"/><use href="#a0t" x="93.5" y="129.51"/><use href="#a0t" x="96.26" y="131.5"/><use href="#a0t" x="99.02" y="133.5"/><use href="#a0t" x="101.78" y="135.49"/><use href="#a0t" x="104.54" y="137.49"/><use href="#a0t" x="107.3" y="139.48"/><use href="#a0t" x="110.06" y="141.48"/><use href="#a0t" x="112.82" y="143.47"/><use href="#a0t" x="115.58" y="145.47"/><use href="#a0t" x="118.34" y="147.46"/><use href="#a0t" x="121.1" y="149.46"/><use href="#a0t" x="123.86" y="151.45"/><use href="#a0t" x="126.62" y="153.45"/><use href="#a0t" x="129.38" y="155.44"/><use href="#a0t" x="132.14" y="157.44"/><use href="#a0t" x="134.9" y="159.43"/><use href="#a0t" x="137.66" y="161.43"/><use href="#a0t" x="140.42" y="163.42"/><use href="#a0t" x="143.18" y="165.42"/><use href="#a0t" x="145.94" y="167.41"/><use href="#a0t" x="148.7" y="169.41"/><use href="#a0t" x="151.46" y="171.4"/><use href="#a0t" x="154.22" y="173.4"/><use href="#a0t" x="156.98" y="175.39"/></g>
<g fill="#00344c"><use href="#a0l" x="73.48" y="119"/><use href="#a0l" x="76.24" y="121"/><use href="#a0l" x="79" y="123"/><use href="#a0l" x="81.76" y="124.99"/><use href="#a0l" x="84.52" y="126.98"/><use href="#a0l" x="87.28" y="128.98"/><use href="#a0l" x="90.04" y="130.97"/><use href="#a0l" x="92.8" y="132.97"/><use href="#a0l" x="95.56" y="134.97"/><use href="#a0l" x="98.32" y="136.96"/><use href="#a0l" x="101.08" y="138.95"/><use href="#a0l" x="103.84" y="140.95"/><use href="#a0l" x="106.6" y="142.94"/><use href="#a0l" x="109.36" y="144.94"/><use href="#a0l" x="112.12" y="146.94"/><use href="#a0l" x="114.88" y="148.93"/><use href="#a0l" x="117.64" y="150.92"/><use href="#a0l" x="120.4" y="152.92"/><use href="#a0l" x="123.16" y="154.91"/><use href="#a0l" x="125.92" y="156.91"/><use href="#a0l" x="128.68" y="158.91"/><use href="#a0l" x="131.44" y="160.9"/><use href="#a0l" x="134.2" y="162.9"/><use href="#a0l" x="136.96" y="164.89"/><use href="#a0l" x="139.72" y="166.88"/><use href="#a0l" x="142.48" y="168.88"/><use href="#a0l" x="145.24" y="170.88"/><use href="#a0l" x="148" y="172.87"/><use href="#a0l" x="150.76" y="174.86"/><use href="#a0l" x="153.52" y="176.86"/></g>
<g fill="#002b40"><use href="#a0r" x="73.48" y="119"/><use href="#a0r" x="76.24" y="121"/><use href="#a0r" x="79" y="123"/><use href="#a0r" x="81.76" y="124.99"/><use href="#a0r" x="84.52" y="126.98"/><use href="#a0r" x="87.28" y="128.98"/><use href="#a0r" x="90.04" y="130.97"/><use href="#a0r" x="92.8" y="132.97"/><use href="#a0r" x="95.56" y="134.97"/><use href="#a0r" x="98.32" y="136.96"/><use href="#a0r" x="101.08" y="138.95"/><use href="#a0r" x="103.84" y="140.95"/><use href="#a0r" x="106.6" y="142.94"/><use href="#a0r" x="109.36" y="144.94"/><use href="#a0r" x="112.12" y="146.94"/><use href="#a0r" x="114.88" y="148.93"/><use href="#a0r" x="117.64" y="150.92"/><use href="#a0r" x="120.4" y="152.92"/><use href="#a0r" x="123.16" y="154.91"/><use href="#a0r" x="125.92" y="156.91"/><use href="#a0r" x="128.68" y="158.91"/><use href="#a0r" x="131.44" y="160.9"/><use href="#a0r" x="134.2" y="162.9"/><use href="#a0r" x="136.96" y="164.89"/><use href="#a0r" x="139.72" y="166.88"/><use href="#a0r" x="142.48" y="168.88"/><use href="#a0r" x="145.24" y="170.88"/><use href="#a0r" x="148" y="172.87"/><use href="#a0r" x="150.76" y="174.86"/><use href="#a0r" x="153.52" y="176.86"/></g>
<g fill="#00acff" stroke="#c8c8c8" stroke-width="0.33"><use href="#a0t" x="73.48" y="119"/><use href="#a0t" x="76.24" y="121"/><use href="#a0t" x="79" y="123"/><use href="#a0t" x="81.76" y="124.99"/><use href="#a0t" x="84.52" y="126.98"/><use href="#a0t" x="87.28" y="128.98"/><use href="#a0t" x="90.04" y="130.97"/><use href="#a0t" x="92.8" y="132.97"/><use href="#a0t" x="95.56" y="134.97"/><use href="#a0t" x="98.32" y="136.96"/><use href="#a0t" x="101.08" y="138.95"/><use href="#a0t" x="103.84" y="140.95"/><use href="#a0t" x="106.6" y="142.94"/><use href="#a0t" x="109.36" y="144.94"/><use href="#a0t" x="112.12" y="146.94"/><use href="#a0t" x="114.88" y="148.93"/><use href="#a0t" x="117.64" y="150.92"/><use href="#a0t" x="120.4" y="152.92"/><use href="#a0t" x="123.16" y="154.91"/><use href="#a0t" x="125.92" y="156.91"/><use href="#a0t" x="128.68" y="158.91"/><use href="#a0t" x="131.44" y="160.9"/><use href="#a0t" x="134.2" y="162.9"/><use href="#a0t" x="136.96" y="164.89"/><use href="#a0t" x="139.72" y="166.88"/><use href="#a0t" x="142.48" y="168.88"/><use href="#a0t" x="145.24" y="170.88"/><use href="#a0t" x="148" y="172.87"/><use href="#a0t" x="150.76" y="174.86"/><use href="#a0t" x="153.52" y="176.86"/></g>
<g fill="#002b4c"><use href="#a0l" x="70.02" y="120.47"/><use href="#a0l" x="72.78" y="122.47"/><use href="#a0l" x="75.54" y="124.46"/><use href="#a0l" x="78.3" y="126.46"/><use href="#a0l" x="81.06" y="128.45"/><use href="#a0l" x="83.82" y="130.45"/><use href="#a0l" x="86.58" y="132.44"/><use href="#a0l" x="89.34" y="134.44"/><use href="#a0l" x="92.1" y="136.43"/><use href="#a0l" x="94.86" y="138.43"/><use href="#a0l" x="97.62" y="140.42"/><use href="#a0l" x="100.38" y="142.42"/><use href="#a0l" x="103.14" y="144.41"/><use href="#a0l" x="105.9" y="146.41"/><use href="#a0l" x="108.66" y="148.4"/><use href="#a0l" x="111.42" y="150.4"/><use href="#a0l" x="114.18" y="152.39"/><use href="#a0l" x="116.94" y="154.39"/><use href="#a0l" x="119.7" y="156.38"/><use href="#a0l" x="122.46" y="158.38"/><use href="#a0l" x="125.22" y="160.37"/><use href="#a0l" x="127.98" y="162.37"/><use href="#a0l" x="130.74" y="164.36"/><use href="#a0l" x="133.5" y="166.36"/><use href="#a0l" x="136.26" y="168.35"/><use href="#a0l" x="139.02" y="170.35"/><use href="#a0l" x="141.78" y="172.34"/><use href="#a0l" x="144.54" y="174.34"/><use href="#a0l" x="147.3" y="176.33"/><use href="#a0l" x="150.06" y="178.33"/></g>
<g fill="#002440"><use href="#a0r" x="70.02" y="120.47"/><use href="#a0r" x="72.78" y="122.47"/><use href="#a0r" x="75.54" y="124.46"/><use href="#a0r" x="78.3" y="126.46"/><use href="#a0r" x="81.06" y="128.45"/><use href="#a0r" x="83.82" y="130.45"/><use href="#a0r" x="86.58" y="132.44"/><use href="#a0r" x="89.34" y="134.44"/><use href="#a0r" x="92.1" y="136.43"/><use href="#a0r" x="94.86" y="138.43"/><use href="#a0r" x="97.62" y="140.42"/><use href="#a0r" x="100.38" y="142.42"/><use href="#a0r" x="103.14" y="144.41"/><use href="#a0r" x="105.9" y="146.41"/><use href="#a0r" x="108.66" y="148.4"/><use href="#a0r" x="111.42" y="150.4"/><use href="#a0r" x="114.18" y="152.39"/><use href="#a0r" x="116.94" y="154.39"/><use href="#a0r" x="119.7" y="156.38"/><use href="#a0r" x="122.46" y="158.38"/><use href="#a0r" x="125.22" y="160.37"/><use href="#a0r" x="127.98" y="162.37"/><use href="#a0r" x="130.74" y="164.36"/><use href="#a0r" x="133.5" y="166.36"/><use href="#a0r" x="136.26" y="168.35"/><use href="#a0r" x="139.02" y="170.35"/><use href="#a0r" x="141.78" y="172.34"/><use href="#a0r" x="144.54" y="174.34"/><use href="#a0r" x="147.3" y="176.33"/><use href="#a0r" x="150.06" y="178.33"/></g>
<g fill="#0090ff" stroke="#c8c8c8" stroke-width="0.33"><use href="#a0t" x="70.02" y="120.47"/><use href="#a0t" x="72.78" y="122.47"/><use href="#a0t" x="75.54" y="124.46"/><use href="#a0t" x="78.3" y="126.46"/><use href="#a0t" x="81.06" y="128.45"/><use href="#a0t" x="83.82" y="130.45"/><use href="#a0t" x="86.58" y="132.44"/><use href="#a0t" x="89.34" y="134.44"/><use href="#a0t" x="92.1" y="136.43"/><use href="#a0t" x="94.86" y="138.43"/><use href="#a0t" x="97.62" y="140.42"/><use href="#a0t" x="100.38" y="142.42"/><use href="#a0t" x="103.14" y="144.41"/><use href="#a0t" x="105.9" y="146.41"/><use href="#a0t" x="108.66" y="148.4"/><use href="#a0t" x="111.42" y="150.4"/><use href="#a0t" x="114.18" y="152.39"/><use href="#a0t" x="116.94" y="154.39"/><use href="#a0t" x="119.7" y="156.38"/><use href="#a0t" x="122.46" y="158.38"/><use href="#a0t" x="125.22" y="160.37"/><use href="#a0t" x="127.98" y="162.37"/><use href="#a0t" x="130.74" y="164.36"/><use href="#a0t" x="133.5" y="166.36"/><use href="#a0t" x="136.26" y="168.35"/><use href="#a0t" x="139.02" y="170.35"/><use href="#a0t" x="141.78" y="172.34"/><use href="#a0t" x="144.54" y="174.34"/><use href="#a0t" x="147.3" y="176.33"/><use href="#a0t" x="150.06" y="178.33"/></g>
<g fill="#00234c"><use href="#a0l" x="66.56" y="121.94"/><use href="#a0l" x="69.32" y="123.94"/><use href="#a0l" x="72.08" y="125.93"/><use href="#a0l" x="74.84" y="127.93"/><use href="#a0l" x="77.6" y="129.92"/><use href="#a0l" x="80.36" y="131.92"/><use href="#a0l" x="83.12" y="133.91"/><use href="#a0l" x="85.88" y="135.91"/><use href="#a0l" x="88.64" y="137.9"/><use href="#a0l" x="91.4" y="139.9"/><use href="#a0l" x="94.16" y="141.89"/><use href="#a0l" x="96.92" y="143.89"/><use href="#a0l" x="99.68" y="145.88"/><use href="#a0l" x="102.44" y="147.88"/><use href="#a0l" x="105.2" y="149.87"/><use href="#a0l" x="107.96" y="151.87"/><use href="#a0l" x="110.72" y="153.86"/><use href="#a0l" x="113.48" y="155.86"/><use href="#a0l" x="116.24" y="157.85"/><use href="#a0l" x="119" y="159.85"/><use href="#a0l" x="121.76" y="161.84"/><use href="#a0l" x="124.52" y="163.84"/><use href="#a0l" x="127.28" y="165.83"/><use href="#a0l" x="130.04" y="167.83"/><use href="#a0l" x="132.8" y="169.82"/><use href="#a0l" x="135.56" y="171.82"/><use href="#a0l" x="138.32" y="173.81"/><use href="#a0l" x="141.08" y="175.81"/><use href="#a0l" x="143.84" y="177.8"/><use href="#a0l" x="146.6" y="179.8"/></g>
<g fill="#001d40"><use href="#a0r" x="66.56" y="121.94"/><use href="#a0r" x="69.32" y="123.94"/><use href="#a0r" x="72.08" y="125.93"/><use href="#a0r" x="74.84" y="127.93"/><use href="#a0r" x="77.6" y="129.92"/><use href="#a0r" x="80.36" y="131.92"/><use href="#a0r" x="83.12" y="133.91"/><use href="#a0r" x="85.88" y="135.91"/><use href="#a0r" x="88.64" y="137.9"/><use href="#a0r" x="91.4" y="139.9"/><use href="#a0r" x="94.16" y="141.89"/><use href="#a0r" x="96.92" y="143.89"/><use href="#a0r" x="99.68" y="145.88"/><use href="#a0r" x="102.44" y="147.88"/><use href="#a0r" x="105.2" y="149.87"/><use href="#a0r" x="107.96" y="151.87"/><use href="#a0r" x="110.72" y="153.86"/><use href="#a0r" x="113.48" y="155.86"/><use href="#a0r" x="116.24" y="157.85"/><use href="#a0r" x="119" y="159.85"/><use href="#a0r" x="121.76" y="161.84"/><use href="#a0r" x="124.52" y="163.84"/><use href="#a0r" x="127.28" y="165.83"/><use href="#a0r" x="130.04" y="167.83"/><use href="#a0r" x="132.8" y="169.82"/><use href="#a0r" x="135.56" y="171.82"/><use href="#a0r" x="138.32" y="173.81"/><use href="#a0r" x="141.08" y="175.81"/><use href="#a0r" x="143.84" y="177.8"/><use href="#a0r" x="146.6" y="179.8"/></g>
<g fill="#0075ff" stroke="#c8c8c8" stroke-width="0.33"><use href="#a0t" x="66.56" y="121.94"/><use href="#a0t" x="69.32" y="123.94"/><use href="#a0t" x="72.08" y="125.93"/><use href="#a0t" x="74.84" y="127.93"/><use href="#a0t" x="77.6" y="129.92"/><use href="#a0t" x="80.36" y="131.92"/><use href="#a0t" x="83.12" y="133.91"/><use href="#a0t" x="85.88" y="135.91"/><use href="#a0t" x="88.64" y="137.9"/><use href="#a0t" x="91.4" y="139.9"/><use href="#a0t" x="94.16" y="141.89"/><use href="#a0t" x="96.92" y="143.89"/><use href="#a0t" x="99.68" y="145.88"/><use href="#a0t" x="102.44" y="147.88"/><use href="#a0t" x="105.2" y="149.87"/><use href="#a0t" x="107.96" y="151.87"/><use href="#a0t" x="110.72" y="153.86"/><use href="#a0t" x="113.48" y="155.86"/><use href="#a0t" x="116.24" y="157.85"/><use href="#a0t" x="119" y="159.85"/><use href="#a0t" x="121.76" y="161.84"/><use href="#a0t" x="124.52" y="163.84"/><use href="#a0t" x="127.28" y="165.83"/><use href="#a0t" x="130.04" y="167.83"/><use href="#a0t" x="132.8" y="169.82"/><use href="#a0t" x="135.56" y="171.82"/><use href="#a0t" x="138.32" y="173.81"/><use href="#a0t" x="141.08" y="175.81"/><use href="#a0t" x="143.84" y="177.8"/><use href="#a0t" x="146.6" y="179.8"/></g>
<g fill="#001a4c"><use href="#a0l" x="63.11" y="123.41"/><use href="#a0l" x="65.87" y="125.41"/><use href="#a0l" x="68.63" y="127.4"/><use href="#a0l" x="71.39" y="129.4"/><use href="#a0l" x="74.15" y="131.39"/><use href="#a0l" x="76.91" y="133.39"/><use href="#a0l" x="79.67" y="135.38"/><use href="#a0l" x="82.43" y="137.38"/><use href="#a0l" x="85.19" y="139.37"/><use href="#a0l" x="87.95" y="141.37"/><use href="#a0l" x="90.71" y="143.36"/><use href="#a0l" x="93.47" y="145.36"/><use href="#a0l" x="96.23" y="147.35"/><use href="#a0l" x="98.99" y="149.35"/><use href="#a0l" x="101.75" y="151.34"/><use href="#a0l" x="104.51" y="153.34"/><use href="#a0l" x="107.27" y="155.33"/><use href="#a0l" x="110.03" y="157.33"/><use href="#a0l" x="112.79" y="159.32"/><use href="#a0l" x="115.55" y="161.32"/><use href="#a0l" x="118.31" y="163.31"/><use href="#a0l" x="121.07" y="165.31"/><use href="#a0l" x="123.83" y="167.3"/><use href="#a0l" x="126.59" y="169.3"/><use href="#a0l" x="129.35" y="171.29"/><use href="#a0l" x="132.11" y="173.29"/><use href="#a0l" x="134.87" y="175.28"/><use href="#a0l" x="137.63" y="177.28"/><use href="#a0l" x="140.39" y="179.27"/><use href="#a0l" x="143.15" y="181.27"/></g>
<g fill="#001640"><use href="#a0r" x="63.11" y="123.41"/><use href="#a0r" x="65.87" y="125.41"/><use href="#a0r" x="68.63" y="127.4"/><use href="#a0r" x="71.39" y="129.4"/><use href="#a0r" x="74.15" y="131.39"/><use href="#a0r" x="76.91" y="133.39"/><use href="#a0r" x="79.67" y="135.38"/><use href="#a0r" x="82.43" y="137.38"/><use href="#a0r" x="85.19" y="139.37"/><use href="#a0r" x="87.95" y="141.37"/><use href="#a0r" x="90.71" y="143.36"/><use href="#a0r" x="93.47" y="145.36"/><use href="#a0r" x="96.23" y="147.35"/><use href="#a0r" x="98.99" y="149.35"/><use href="#a0r" x="101.75" y="151.34"/><use href="#a0r" x="104.51" y="153.34"/><use href="#a0r" x="107.27" y="155.33"/><use href="#a0r" x="110.03" y="157.33"/><use href="#a0r" x="112.79" y="159.32"/><use href="#a0r" x="115.55" y="161.32"/><use href="#a0r" x="118.31" y="163.31"/><use href="#a0r" x="121.07" y="165.31"/><use href="#a0r" x="123.83" y="167.3"/><use href="#a0r" x="126.59" y="169.3"/><use href="#a0r" x="129.35" y="171.29"/><use href="#a0r" x="132.11" y="173.29"/><use href="#a0r" x="134.87" y="175.28"/><use href="#a0r" x="137.63" y="177.28"/><use href="#a0r" x="140.39" y="179.27"/><use href="#a0r" x="143.15" y="181.27"/></g>
<g fill="#0057ff" stroke="#d4d4d4" stroke-width="0.4"><use href="#a0t" x="63.11" y="123.41"/><use href="#a0t" x="65.87" y="125.41"/><use href="#a0t" x="68.63" y="127.4"/><use href="#a0t" x="71.39" y="129.4"/><use href="#a0t" x="74.15" y="131.39"/><use href="#a0t" x="76.91" y="133.39"/><use href="#a0t" x="79.67" y="135.38"/><use href="#a0t" x="82.43" y="137.38"/><use href="#a0t" x="85.19" y="139.37"/><use href="#a0t" x="87.95" y="141.37"/><use href="#a0t" x="90.71" y="143.36"/><use href="#a0t" x="93.47" y="145.36"/><use href="#a0t" x="96.23" y="147.35"/><use href="#a0t" x="98.99" y="149.35"/><use href="#a0t" x="101.75" y="151.34"/><use href="#a0t" x="104.51" y="153.34"/><use href="#a0t" x="107.27" y="155.33"/><use href="#a0t" x="110.03" y="157.33"/><use href="#a0t" x="112.79" y="159.32"/><use href="#a0t" x="115.55" y="161.32"/><use href="#a0t" x="118.31" y="163.31"/><use href="#a0t" x="121.07" y="165.31"/><use href="#a0t" x="123.83" y="167.3"/><use href="#a0t" x="126.59" y="169.3"/><use href="#a0t" x="129.35" y="171.29"/><use href="#a0t" x="132.11" y="173.29"/><use href="#a0t" x="134.87" y="175.28"/><use href="#a0t" x="137.63" y="177.28"/><use href="#a0t" x="140.39" y="179.27"/><use href="#a0t" x="143.15" y="181.27"/></g>
<g fill="#00114c"><use href="#a0l" x="59.65" y="124.88"/><use href="#a0l" x="62.41" y="126.88"/><use href="#a0l" x="65.17" y="128.87"/><use href="#a0l" x="67.93" y="130.87"/><use href="#a0l" x="70.69" y="132.86"/><use href="#a0l" x="73.45" y="134.86"/><use href="#a0l" x="76.21" y="136.85"/><use href="#a0l" x="78.97" y="138.85"/><use href="#a0l" x="81.73" y="140.84"/><use href="#a0l" x="84.49" y="142.84"/><use href="#a0l" x="87.25" y="144.83"/><use href="#a0l" x="90.01" y="146.83"/><use href="#a0l" x="92.77" y="148.82"/><use href="#a0l" x="95.53" y="150.82"/><use href="#a0l" x="98.29" y="152.81"/><use href="#a0l" x="101.05" y="154.81"/><use href="#a0l" x="103.81" y="156.8"/><use href="#a0l" x="106.57" y="158.8"/><use href="#a0l" x="109.33" y="160.79"/><use href="#a0l" x="112.09" y="162.79"/><use href="#a0l" x="114.85" y="164.78"/><use href="#a0l" x="117.61" y="166.78"/><use href="#a0l" x="120.37" y="168.77"/><use href="#a0l" x="123.13" y="170.77"/><use href="#a0l" x="125.89" y="172.76"/><use href="#a0l" x="128.65" y="174.76"/><use href="#a0l" x="131.41" y="176.75"/><use href="#a0l" x="134.17" y="178.75"/><use href="#a0l" x="136.93" y="180.74"/><use href="#a0l" x="139.69" y="182.74"/></g>
<g fill="#000e40"><use href="#a0r" x="59.65" y="124.88"/><use href="#a0r" x="62.41" y="126.88"/><use href="#a0r" x="65.17" y="128.87"/><use href="#a0r" x="67.93" y="130.87"/><use href="#a0r" x="70.69" y="132.86"/><use href="#a0r" x="73.45" y="134.86"/><use href="#a0r" x="76.21" y="136.85"/><use href="#a0r" x="78.97" y="138.85"/><use href="#a0r" x="81.73" y="140.84"/><use href="#a0r" x="84.49" y="142.84"/><use href="#a0r" x="87.25" y="144.83"/><use href="#a0r" x="90.01" y="146.83"/><use href="#a0r" x="92.77" y="148.82"/><use href="#a0r" x="95.53" y="150.82"/><use href="#a0r" x="98.29" y="152.81"/><use href="#a0r" x="101.05" y="154.81"/><use href="#a0r" x="103.81" y="156.8"/><use href="#a0r" x="106.57" y="158.8"/><use href="#a0r" x="109.33" y="160.79"/><use href="#a0r" x="112.09" y="162.79"/><use href="#a0r" x="114.85" y="164.78"/><use href="#a0r" x="117.61" y="166.78"/><use href="#a0r" x="120.37" y="168.77"/><use href="#a0r" x="123.13" y="170.77"/><use href="#a0r" x="125.89" y="172.76"/><use href="#a0r" x="128.65" y="174.76"/><use href="#a0r" x="131.41" y="176.75"/><use href="#a0r" x="134.17" y="178.75"/><use href="#a0r" x="136.93" y="180.74"/><use href="#a0r" x="139.69" y="182.74"/></g>
<g fill="#0038ff" stroke="#d4d4d4" stroke-width="0.4"><use href="#a0t" x="59.65" y="124.88"/><use href="#a0t" x="62.41" y="126.88"/><use href="#a0t" x="65.17" y="128.87"/><use href="#a0t" x="67.93" y="130.87"/><use href="#a0t" x="70.69" y="132.86"/><use href="#a0t" x="73.45" y="134.86"/><use href="#a0t" x="76.21" y="136.85"/><use href="#a0t" x="78.97" y="138.85"/><use href="#a0t" x="81.73" y="140.84"/><use href="#a0t" x="84.49" y="142.84"/><use href="#a0t" x="87.25" y="144.83"/><use href="#a0t" x="90.01" y="146.83"/><use href="#a0t" x="92.77" y="148.82"/><use href="#a0t" x="95.53" y="150.82"/><use href="#a0t" x="98.29" y="152.81"/><use href="#a0t" x="101.05" y="154.81"/><use href="#a0t" x="103.81" y="156.8"/><use href="#a0t" x="106.57" y="158.8"/><use href="#a0t" x="109.33" y="160.79"/><use href="#a0t" x="112.09" y="162.79"/><use href="#a0t" x="114.85" y="164.78"/><use href="#a0t" x="117.61" y="166.78"/><use href="#a0t" x="120.37" y="168.77"/><use href="#a0t" x="123.13" y="170.77"/><use href="#a0t" x="125.89" y="172.76"/><use href="#a0t" x="128.65" y="174.76"/><use href="#a0t" x="131.41" y="176.75"/><use href="#a0t" x="134.17" y="178.75"/><use href="#a0t" x="136.93" y="180.74"/><use href="#a0t" x="139.69" y="182.74"/></g>
<g fill="#00084c"><use href="#a0l" x="56.19" y="126.35"/><use href="#a0l" x="58.95" y="128.34"/><use href="#a0l" x="61.71" y="130.34"/><use href="#a0l" x="64.47" y="132.33"/><use href="#a0l" x="67.23" y="134.33"/><use href="#a0l" x="69.99" y="136.32"/><use href="#a0l" x="72.75" y="138.32"/><use href="#a0l" x="75.51" y="140.31"/><use href="#a0l" x="78.27" y="142.31"/><use href="#a0l" x="81.03" y="144.31"/><use href="#a0l" x="83.79" y="146.3"/><use href="#a0l" x="86.55" y="148.29"/><use href="#a0l" x="89.31" y="150.29"/><use href="#a0l" x="92.07" y="152.28"/><use href="#a0l" x="94.83" y="154.28"/><use href="#a0l" x="97.59" y="156.28"/><use href="#a0l" x="100.35" y="158.27"/><use href="#a0l" x="103.11" y="160.26"/><use href="#a0l" x="105.87" y="162.26"/><use href="#a0l" x="108.63" y="164.25"/><use href="#a0l" x="111.39" y="166.25"/><use href="#a0l" x="114.15" y="168.25"/><use href="#a0l" x="116.91" y="170.24"/><use href="#a0l" x="119.67" y="172.23"/><use href="#a0l" x="122.43" y="174.23"/><use href="#a0l" x="125.19" y="176.22"/><use href="#a0l" x="127.95" y="178.22"/><use href="#a0l" x="130.71" y="180.22"/><use href="#a0l" x="133.47" y="182.21"/><use href="#a0l" x="136.23" y="184.2"/></g>
<g fill="#000640"><use href="#a0r" x="56.19" y="126.35"/><use href="#a0r" x="58.95" y="128.34"/><use href="#a0r" x="61.71" y="130.34"/><use href="#a0r" x="64.47" y="132.33"/><use href="#a0r" x="67.23" y="134.33"/><use href="#a0r" x="69.99" y="136.32"/><use href="#a0r" x="72.75" y="138.32"/><use href="#a0r" x="75.51" y="140.31"/><use href="#a0r" x="78.27" y="142.31"/><use href="#a0r" x="81.03" y="144.31"/><use href="#a0r" x="83.79" y="146.3"/><use href="#a0r" x="86.55" y="148.29"/><use href="#a0r" x="89.31" y="150.29"/><use href="#a0r" x="92.07" y="152.28"/><use href="#a0r" x="94.83" y="154.28"/><use href="#a0r" x="97.59" y="156.28"/><use href="#a0r" x="100.35" y="158.27"/><use href="#a0r" x="103.11" y="160.26"/><use href="#a0r" x="105.87" y="162.26"/><use href="#a0r" x="108.63" y="164.25"/><use href="#a0r" x="111.39" y="166.25"/><use href="#a0r" x="114.15" y="168.25"/><use href="#a0r" x="116.91" y="170.24"/><use href="#a0r" x="119.67" y="172.23"/><use href="#a0r" x="122.43" y="174.23"/><use href="#a0r" x="125.19" y="176.22"/><use href="#a0r" x="127.95" y="178.22"/><use href="#a0r" x="130.71" y="180.22"/><use href="#a0r" x="133.47" y="182.21"/><use href="#a0r" x="136.23" y="184.2"/></g>
<g fill="#0019ff" stroke="#d4d4d4" stroke-width="0.4"><use href="#a0t" x="56.19" y="126.35"/><use href="#a0t" x="58.95" y="128.34"/><use href="#a0t" x="61.71" y="130.34"/><use href="#a0t" x="64.47" y="132.33"/><use href="#a0t" x="67.23" y="134.33"/><use href="#a0t" x="69.99" y="136.32"/><use href="#a0t" x="72.75" y="138.32"/><use href="#a0t" x="75.51" y="140.31"/><use href="#a0t" x="78.27" y="142.31"/><use href="#a0t" x="81.03" y="144.31"/><use href="#a0t" x="83.79" y="146.3"/><use href="#a0t" x="86.55" y="148.29"/><use href="#a0t" x="89.31" y="150.29"/><use href="#a0t" x="92.07" y="152.28"/><use href="#a0t" x="94.83" y="154.28"/><use href="#a0t" x="97.59" y="156.28"/><use href="#a0t" x="100.35" y="158.27"/><use href="#a0t" x="103.11" y="160.26"/><use href="#a0t" x="105.87" y="162.26"/><use href="#a0t" x="108.63" y="164.25"/><use href="#a0t" x="111.39" y="166.25"/><use href="#a0t" x="114.15" y="168.25"/><use href="#a0t" x="116.91" y="170.24"/><use href="#a0t" x="119.67" y="172.23"/><use href="#a0t" x="122.43" y="174.23"/><use href="#a0t" x="125.19" y="176.22"/><use href="#a0t" x="127.95" y="178.22"/><use href="#a0t" x="130.71" y="180.22"/><use href="#a0t" x="133.47" y="182.21"/><use href="#a0t" x="136.23" y="184.2"/></g>
<g fill="#000049"><use href="#a0l" x="52.73" y="127.82"/><use href="#a0l" x="55.49" y="129.81"/><use href="#a0l" x="58.25" y="131.81"/><use href="#a0l" x="61.01" y="133.8"/><use href="#a0l" x="63.77" y="135.8"/><use href="#a0l" x="66.53" y="137.79"/><use href="#a0l" x="69.29" y="139.79"/><use href="#a0l" x="72.05" y="141.78"/><use href="#a0l" x="74.81" y="143.78"/><use href="#a0l" x="77.57" y="145.77"/><use href="#a0l" x="80.33" y="147.77"/><use href="#a0l" x="83.09" y="149.76"/><use href="#a0l" x="85.85" y="151.76"/><use href="#a0l" x="88.61" y="153.75"/><use href="#a0l" x="91.37" y="155.75"/><use href="#a0l" x="94.13" y="157.74"/><use href="#a0l" x="96.89" y="159.74"/><use href="#a0l" x="99.65" y="161.73"/><use href="#a0l" x="102.41" y="163.73"/><use href="#a0l" x="105.17" y="165.72"/><use href="#a0l" x="107.93" y="167.72"/><use href="#a0l" x="110.69" y="169.71"/><use href="#a0l" x="113.45" y="171.71"/><use href="#a0l" x="116.21" y="173.7"/><use href="#a0l" x="118.97" y="175.7"/><use href="#a0l" x="121.73" y="177.69"/><use href="#a0l" x="124.49" y="179.69"/><use href="#a0l" x="127.25" y="181.68"/><use href="#a0l" x="130.01" y="183.68"/><use href="#a0l" x="132.77" y="185.67"/></g>
<g fill="#00003d"><use href="#a0r" x="52.73" y="127.82"/><use href="#a0r" x="55.49" y="129.81"/><use href="#a0r" x="58.25" y="131.81"/><use href="#a0r" x="61.01" y="133.8"/><use href="#a0r" x="63.77" y="135.8"/><use href="#a0r" x="66.53" y="137.79"/><use href="#a0r" x="69.29" y="139.79"/><use href="#a0r" x="72.05" y="141.78"/><use href="#a0r" x="74.81" y="143.78"/><use href="#a0r" x="77.57" y="145.77"/><use href="#a0r" x="80.33" y="147.77"/><use href="#a0r" x="83.09" y="149.76"/><use href="#a0r" x="85.85" y="151.76"/><use href="#a0r" x="88.61" y="153.75"/><use href="#a0r" x="91.37" y="155.75"/><use href="#a0r" x="94.13" y="157.74"/><use href="#a0r" x="96.89" y="159.74"/><use href="#a0r" x="99.65" y="161.73"/><use href="#a0r" x="102.41" y="163.73"/><use href="#a0r" x="105.17" y="165.72"/><use href="#a0r" x="107.93" y="167.72"/><use href="#a0r" x="110.69" y="169.71"/><use href="#a0r" x="113.45" y="171.71"/><use href="#a0r" x="116.21" y="173.7"/><use href="#a0r" x="118.97" y="175.7"/><use href="#a0r" x="121.73" y="177.69"/><use href="#a0r" x="124.49" y="179.69"/><use href="#a0r" x="127.25" y="181.68"/><use href="#a0r" x="130.01" y="183.68"/><use href="#a0r" x="132.77" y="185.67"/></g>
<g fill="#0000f5" stroke="#d4d4d4" stroke-width="0.4"><use href="#a0t" x="52.73" y="127.82"/><use href="#a0t" x="55.49" y="129.81"/><use href="#a0t" x="58.25" y="131.81"/><use href="#a0t" x="61.01" y="133.8"/><use href="#a0t" x="63.77" y="135.8"/><use href="#a0t" x="66.53" y="137.79"/><use href="#a0t" x="69.29" y="139.79"/><use href="#a0t" x="72.05" y="141.78"/><use href="#a0t" x="74.81" y="143.78"/><use href="#a0t" x="77.57" y="145.77"/><use href="#a0t" x="80.33" y="147.77"/><use href="#a0t" x="83.09" y="149.76"/><use href="#a0t" x="85.85" y="151.76"/><use href="#a0t" x="88.61" y="153.75"/><use href="#a0t" x="91.37" y="155.75"/><use href="#a0t" x="94.13" y="157.74"/><use href="#a0t" x="96.89" y="159.74"/><use href="#a0t" x="99.65" y="161.73"/><use href="#a0t" x="102.41" y="163.73"/><use href="#a0t" x="105.17" y="165.72"/><use href="#a0t" x="107.93" y="167.72"/><use href="#a0t" x="110.69" y="169.71"/><use href="#a0t" x="113.45" y="171.71"/><use href="#a0t" x="116.21" y="173.7"/><use href="#a0t" x="118.97" y="175.7"/><use href="#a0t" x="121.73" y="177.69"/><use href="#a0t" x="124.49" y="179.69"/><use href="#a0t" x="127.25" y="181.68"/><use href="#a0t" x="130.01" y="183.68"/><use href="#a0t" x="132.77" y="185.67"/></g>
<g fill="#00003f"><use href="#a0l" x="49.27" y="129.29"/><use href="#a0l" x="52.03" y="131.28"/><use href="#a0l" x="54.79" y="133.28"/><use href="#a0l" x="57.55" y="135.27"/><use href="#a0l" x="60.31" y="137.27"/><use href="#a0l" x="63.07" y="139.26"/><use href="#a0l" x="65.83" y="141.26"/><use href="#a0l" x="68.59" y="143.25"/><use href="#a0l" x="71.35" y="145.25"/><use href="#a0l" x="74.11" y="147.24"/><use href="#a0l" x="76.87" y="149.24"/><use href="#a0l" x="79.63" y="151.23"/><use href="#a0l" x="82.39" y="153.23"/><use href="#a0l" x="85.15" y="155.22"/><use href="#a0l" x="87.91" y="157.22"/><use href="#a0l" x="90.67" y="159.21"/><use href="#a0l" x="93.43" y="161.21"/><use href="#a0l" x="96.19" y="163.2"/><use href="#a0l" x="98.95" y="165.2"/><use href="#a0l" x="101.71" y="167.19"/><use href="#a0l" x="104.47" y="169.19"/><use href="#a0l" x="107.23" y="171.18"/><use href="#a0l" x="109.99" y="173.18"/><use href="#a0l" x="112.75" y="175.17"/><use href="#a0l" x="115.51" y="177.17"/><use href="#a0l" x="118.27" y="179.16"/><use href="#a0l" x="121.03" y="181.16"/><use href="#a0l" x="123.79" y="183.15"/><use href="#a0l" x="126.55" y="185.15"/><use href="#a0l" x="129.31" y="187.14"/></g>
<g fill="#000034"><use href="#a0r" x="49.27" y="129.29"/><use href="#a0r" x="52.03" y="131.28"/><use href="#a0r" x="54.79" y="133.28"/><use href="#a0r" x="57.55" y="135.27"/><use href="#a0r" x="60.31" y="137.27"/><use href="#a0r" x="63.07" y="139.26"/><use href="#a0r" x="65.83" y="141.26"/><use href="#a0r" x="68.59" y="143.25"/><use href="#a0r" x="71.35" y="145.25"/><use href="#a0r" x="74.11" y="147.24"/><use href="#a0r" x="76.87" y="149.24"/><use href="#a0r" x="79.63" y="151.23"/><use href="#a0r" x="82.39" y="153.23"/><use href="#a0r" x="85.15" y="155.22"/><use href="#a0r" x="87.91" y="157.22"/><use href="#a0r" x="90.67" y="159.21"/><use href="#a0r" x="93.43" y="161.21"/><use href="#a0r" x="96.19" y="163.2"/><use href="#a0r" x="98.95" y="165.2"/><use href="#a0r" x="101.71" y="167.19"/><use href="#a0r" x="104.47" y="169.19"/><use href="#a0r" x="107.23" y="171.18"/><use href="#a0r" x="109.99" y="173.18"/><use href="#a0r" x="112.75" y="175.17"/><use href="#a0r" x="115.51" y="177.17"/><use href="#a0r" x="118.27" y="179.16"/><use href="#a0r" x="121.03" y="181.16"/><use href="#a0r" x="123.79" y="183.15"/><use href="#a0r" x="126.55" y="185.15"/><use href="#a0r" x="129.31" y="187.14"/></g>
<g fill="#0000d1" stroke="#d4d4d4" stroke-width="0.4"><use href="#a0t" x="49.27" y="129.29"/><use href="#a0t" x="52.03" y="131.28"/><use href="#a0t" x="54.79" y="133.28"/><use href="#a0t" x="57.55" y="135.27"/><use href="#a0t" x="60.31" y="137.27"/><use href="#a0t" x="63.07" y="139.26"/><use href="#a0t" x="65.83" y="141.26"/><use href="#a0t" x="68.59" y="143.25"/><use href="#a0t" x="71.35" y="145.25"/><use href="#a0t" x="74.11" y="147.24"/><use href="#a0t" x="76.87" y="149.24"/><use href="#a0t" x="79.63" y="151.23"/><use href="#a0t" x="82.39" y="153.23"/><use href="#a0t" x="85.15" y="155.22"/><use href="#a0t" x="87.91" y="157.22"/><use href="#a0t" x="90.67" y="159.21"/><use href="#a0t" x="93.43" y="161.21"/><use href="#a0t" x="96.19" y="163.2"/><use href="#a0t" x="98.95" y="165.2"/><use href="#a0t" x="101.71" y="167.19"/><use href="#a0t" x="104.47" y="169.19"/><use href="#a0t" x="107.23" y="171.18"/><use href="#a0t" x="109.99" y="173.18"/><use href="#a0t" x="112.75" y="175.17"/><use href="#a0t" x="115.51" y="177.17"/><use href="#a0t" x="118.27" y="179.16"/><use href="#a0t" x="121.03" y="181.16"/><use href="#a0t" x="123.79" y="183.15"/><use href="#a0t" x="126.55" y="185.15"/><use href="#a0t" x="129.31" y="187.14"/></g>
<g fill="#000034"><use href="#a0l" x="45.82" y="130.76"/><use href="#a0l" x="48.58" y="132.75"/><use href="#a0l" x="51.34" y="134.75"/><use href="#a0l" x="54.1" y="136.74"/><use href="#a0l" x="56.86" y="138.74"/><use href="#a0l" x="59.62" y="140.73"/><use href="#a0l" x="62.38" y="142.73"/><use href="#a0l" x="65.14" y="144.72"/><use href="#a0l" x="67.9" y="146.72"/><use href="#a0l" x="70.66" y="148.71"/><use href="#a0l" x="73.42" y="150.71"/><use href="#a0l" x="76.18" y="152.7"/><use href="#a0l" x="78.94" y="154.7"/><use href="#a0l" x="81.7" y="156.69"/><use href="#a0l" x="84.46" y="158.69"/><use href="#a0l" x="87.22" y="160.68"/><use href="#a0l" x="89.98" y="162.68"/><use href="#a0l" x="92.74" y="164.67"/><use href="#a0l" x="95.5" y="166.67"/><use href="#a0l" x="98.26" y="168.66"/><use href="#a0l" x="101.02" y="170.66"/><use href="#a0l" x="103.78" y="172.65"/><use href="#a0l" x="106.54" y="174.65"/><use href="#a0l" x="109.3" y="176.64"/><use href="#a0l" x="112.06" y="178.64"/><use href="#a0l" x="114.82" y="180.63"/><use href="#a0l" x="117.58" y="182.63"/><use href="#a0l" x="120.34" y="184.62"/><use href="#a0l" x="123.1" y="186.62"/><use href="#a0l" x="125.86" y="188.61"/></g>
<g fill="#00002b"><use href="#a0r" x="45.82" y="130.76"/><use href="#a0r" x="48.58" y="132.75"/><use href="#a0r" x="51.34" y="134.75"/><use href="#a0r" x="54.1" y="136.74"/><use href="#a0r" x="56.86" y="138.74"/><use href="#a0r" x="59.62" y="140.73"/><use href="#a0r" x="62.38" y="142.73"/><use href="#a0r" x="65.14" y="144.72"/><use href="#a0r" x="67.9" y="146.72"/><use href="#a0r" x="70.66" y="148.71"/><use href="#a0r" x="73.42" y="150.71"/><use href="#a0r" x="76.18" y="152.7"/><use href="#a0r" x="78.94" y="154.7"/><use href="#a0r" x="81.7" y="156.69"/><use href="#a0r" x="84.46" y="158.69"/><use href="#a0r" x="87.22" y="160.68"/><use href="#a0r" x="89.98" y="162.68"/><use href="#a0r" x="92.74" y="164.67"/><use href="#a0r" x="95.5" y="166.67"/><use href="#a0r" x="98.26" y="168.66"/><use href="#a0r" x="101.02" y="170.66"/><use href="#a0r" x="103.78" y="172.65"/><use href="#a0r" x="106.54" y="174.65"/><use href="#a0r" x="109.3" y="176.64"/><use href="#a0r" x="112.06" y="178.64"/><use href="#a0r" x="114.82" y="180.63"/><use href="#a0r" x="117.58" y="182.63"/><use href="#a0r" x="120.34" y="184.62"/><use href="#a0r" x="123.1" y="186.62"/><use href="#a0r" x="125.86" y="188.61"/></g>
<g fill="#0000ad" stroke="#d4d4d4" stroke-width="0.4"><use href="#a0t" x="45.82" y="130.76"/><use href="#a0t" x="48.58" y="132.75"/><use href="#a0t" x="51.34" y="134.75"/><use href="#a0t" x="54.1" y="136.74"/><use href="#a0t" x="56.86" y="138.74"/><use href="#a0t" x="59.62" y="140.73"/><use href="#a0t" x="62.38" y="142.73"/><use href="#a0t" x="65.14" y="144.72"/><use href="#a0t" x="67.9" y="146.72"/><use href="#a0t" x="70.66" y="148.71"/><use href="#a0t" x="73.42" y="150.71"/><use href="#a0t" x="76.18" y="152.7"/><use href="#a0t" x="78.94" y="154.7"/><use href="#a0t" x="81.7" y="156.69"/><use href="#a0t" x="84.46" y="158.69"/><use href="#a0t" x="87.22" y="160.68"/><use href="#a0t" x="89.98" y="162.68"/><use href="#a0t" x="92.74" y="164.67"/><use href="#a0t" x="95.5" y="166.67"/><use href="#a0t" x="98.26" y="168.66"/><use href="#a0t" x="101.02" y="170.66"/><use href="#a0t" x="103.78" y="172.65"/><use href="#a0t" x="106.54" y="174.65"/><use href="#a0t" x="109.3" y="176.64"/><use href="#a0t" x="112.06" y="178.64"/><use href="#a0t" x="114.82" y="180.63"/><use href="#a0t" x="117.58" y="182.63"/><use href="#a0t" x="120.34" y="184.62"/><use href="#a0t" x="123.1" y="186.62"/><use href="#a0t" x="125.86" y="188.61"/></g>
<g fill="#000029"><use href="#a0l" x="42.36" y="132.23"/><use href="#a0l" x="45.12" y="134.22"/><use href="#a0l" x="47.88" y="136.22"/><use href="#a0l" x="50.64" y="138.21"/><use href="#a0l" x="53.4" y="140.21"/><use href="#a0l" x="56.16" y="142.2"/><use href="#a0l" x="58.92" y="144.2"/><use href="#a0l" x="61.68" y="146.19"/><use href="#a0l" x="64.44" y="148.19"/><use href="#a0l" x="67.2" y="150.18"/><use href="#a0l" x="69.96" y="152.18"/><use href="#a0l" x="72.72" y="154.17"/><use href="#a0l" x="75.48" y="156.17"/><use href="#a0l" x="78.24" y="158.16"/><use href="#a0l" x="81" y="160.16"/><use href="#a0l" x="83.76" y="162.15"/><use href="#a0l" x="86.52" y="164.15"/><use href="#a0l" x="89.28" y="166.14"/><use href="#a0l" x="92.04" y="168.14"/><use href="#a0l" x="94.8" y="170.13"/><use href="#a0l" x="97.56" y="172.13"/><use href="#a0l" x="100.32" y="174.12"/><use href="#a0l" x="103.08" y="176.12"/><use href="#a0l" x="105.84" y="178.11"/><use href="#a0l" x="108.6" y="180.11"/><use href="#a0l" x="111.36" y="182.1"/><use href="#a0l" x="114.12" y="184.1"/><use href="#a0l" x="116.88" y="186.09"/><use href="#a0l" x="119.64" y="188.09"/><use href="#a0l" x="122.4" y="190.08"/></g>
<g fill="#000022"><use href="#a0r" x="42.36" y="132.23"/><use href="#a0r" x="45.12" y="134.22"/><use href="#a0r" x="47.88" y="136.22"/><use href="#a0r" x="50.64" y="138.21"/><use href="#a0r" x="53.4" y="140.21"/><use href="#a0r" x="56.16" y="142.2"/><use href="#a0r" x="58.92" y="144.2"/><use href="#a0r" x="61.68" y="146.19"/><use href="#a0r" x="64.44" y="148.19"/><use href="#a0r" x="67.2" y="150.18"/><use href="#a0r" x="69.96" y="152.18"/><use href="#a0r" x="72.72" y="154.17"/><use href="#a0r" x="75.48" y="156.17"/><use href="#a0r" x="78.24" y="158.16"/><use href="#a0r" x="81" y="160.16"/><use href="#a0r" x="83.76" y="162.15"/><use href="#a0r" x="86.52" y="164.15"/><use href="#a0r" x="89.28" y="166.14"/><use href="#a0r" x="92.04" y="168.14"/><use href="#a0r" x="94.8" y="170.13"/><use href="#a0r" x="97.56" y="172.13"/><use href="#a0r" x="100.32" y="174.12"/><use href="#a0r" x="103.08" y="176.12"/><use href="#a0r" x="105.84" y="178.11"/><use href="#a0r" x="108.6" y="180.11"/><use href="#a0r" x="111.36" y="182.1"/><use href="#a0r" x="114.12" y="184.1"/><use href="#a0r" x="116.88" y="186.09"/><use href="#a0r" x="119.64" y="188.09"/><use href="#a0r" x="122.4" y="190.08"/></g>
<g fill="#00008a" stroke="#d4d4d4" stroke-width="0.4"><use href="#a0t" x="42.36" y="132.23"/><use href="#a0t" x="45.12" y="134.22"/><use href="#a0t" x="47.88" y="136.22"/><use href="#a0t" x="50.64" y="138.21"/><use href="#a0t" x="53.4" y="140.21"/><use href="#a0t" x="56.16" y="142.2"/><use href="#a0t" x="58.92" y="144.2"/><use href="#a0t" x="61.68" y="146.19"/><use href="#a0t" x="64.44" y="148.19"/><use href="#a0t" x="67.2" y="150.18"/><use href="#a0t" x="69.96" y="152.18"/><use href="#a0t" x="72.72" y="154.17"/><use href="#a0t" x="75.48" y="156.17"/><use href="#a0t" x="78.24" y="158.16"/><use href="#a0t" x="81" y="160.16"/><use href="#a0t" x="83.76" y="162.15"/><use href="#a0t" x="86.52" y="164.15"/><use href="#a0t" x="89.28" y="166.14"/><use href="#a0t" x="92.04" y="168.14"/><use href="#a0t" x="94.8" y="170.13"/><use href="#a0t" x="97.56" y="172.13"/><use href="#a0t" x="100.32" y="174.12"/><use href="#a0t" x="103.08" y="176.12"/><use href="#a0t" x="105.84" y="178.11"/><use href="#a0t" x="108.6" y="180.11"/><use href="#a0t" x="111.36" y="182.1"/><use href="#a0t" x="114.12" y="184.1"/><use href="#a0t" x="116.88" y="186.09"/><use href="#a0t" x="119.64" y="188.09"/><use href="#a0t" x="122.4" y="190.08"/></g>
<g stroke="#aaa" stroke-width="0.25" stroke-linejoin="round"><path d="M74.1 113.8L76.3 115.4L76.3 119.1L74.1 117.5Z" fill="#00faff"/><path d="M76.3 115.4L79.1 114.2L79.1 117.9L76.3 119.1Z" fill="#00e1e6"/><path d="M74.1 113.8L76.3 115.4L79.1 114.2L76.9 112.6Z" fill="#00faff"/></g>
<g stroke="#aaa" stroke-width="0.25" stroke-linejoin="round"><path d="M79.6 117.8L81.8 119.4L81.8 123.1L79.6 121.5Z" fill="#00faff"/><path d="M81.8 119.4L84.6 118.2L84.6 121.9L81.8 123.1Z" fill="#00e1e6"/><path d="M79.6 117.8L81.8 119.4L84.6 118.2L82.4 116.6Z" fill="#00faff"/></g>
<g stroke="#4a4a4a" stroke-width="0.25" stroke-linejoin="round"><path d="M53.1 114.3L55.3 115.9L55.3 129.3L53.1 127.7Z" fill="#0029ff"/><path d="M55.3 115.9L58.1 114.7L58.1 128.1L55.3 129.3Z" fill="#0025e6"/><path d="M53.1 114.3L55.3 115.9L58.1 114.7L55.9 113.1Z" fill="#0029ff"/></g>
<g stroke="#4a4a4a" stroke-width="0.25" stroke-linejoin="round"><path d="M58.7 122.3L60.9 123.9L60.9 133.3L58.7 131.7Z" fill="#0029ff"/><path d="M60.9 123.9L63.7 122.7L63.7 132.2L60.9 133.3Z" fill="#0025e6"/><path d="M58.7 122.3L60.9 123.9L63.7 122.7L61.5 121.1Z" fill="#0029ff"/></g>
<defs><path id="b0t" d="M-2.59 -1.29 L-0.28 0.24 L2.59 -0.89 L0.28 -2.43Z"/><path id="b0l" d="M-2.59 -1.29 L-0.28 0.24 L-0.28 1.33 L-2.59 -0.2Z"/><path id="b0r" d="M-0.28 0.24 L2.59 -0.89 L2.59 0.2 L-0.28 1.33Z"/></defs>
<g fill="#320000"><use href="#b0l" x="432.13" y="89.22"/><use href="#b0l" x="435.02" y="91.14"/><use href="#b0l" x="437.91" y="93.06"/><use href="#b0l" x="440.8" y="94.98"/><use href="#b0l" x="443.69" y="96.91"/><use href="#b0l" x="446.57" y="98.83"/><use href="#b0l" x="449.46" y="100.75"/><use href="#b0l" x="452.35" y="102.67"/><use href="#b0l" x="455.24" y="104.59"/><use href="#b0l" x="458.13" y="106.51"/><use href="#b0l" x="461.02" y="108.43"/><use href="#b0l" x="463.91" y="110.35"/><use href="#b0l" x="466.8" y="112.27"/><use href="#b0l" x="469.69" y="114.19"/><use href="#b0l" x="472.57" y="116.12"/><use href="#b0l" x="475.46" y="118.04"/><use href="#b0l" x="478.35" y="119.96"/><use href="#b0l" x="481.24" y="121.88"/><use href="#b0l" x="484.13" y="123.8"/><use href="#b0l" x="487.02" y="125.72"/><use href="#b0l" x="489.91" y="127.64"/><use href="#b0l" x="492.8" y="129.56"/><use href="#b0l" x="495.69" y="131.48"/><use href="#b0l" x="498.58" y="133.4"/><use href="#b0l" x="501.46" y="135.33"/><use href="#b0l" x="504.35" y="137.25"/><use href="#b0l" x="507.24" y="139.17"/><use href="#b0l" x="510.13" y="141.09"/><use href="#b0l" x="513.02" y="143.01"/><use href="#b0l" x="515.91" y="144.93"/></g>
<g fill="#2a0000"><use href="#b0r" x="432.13" y="89.22"/><use href="#b0r" x="435.02" y="91.14"/><use href="#b0r" x="437.91" y="93.06"/><use href="#b0r" x="440.8" y="94.98"/><use href="#b0r" x="443.69" y="96.91"/><use href="#b0r" x="446.57" y="98.83"/><use href="#b0r" x="449.46" y="100.75"/><use href="#b0r" x="452.35" y="102.67"/><use href="#b0r" x="455.24" y="104.59"/><use href="#b0r" x="458.13" y="106.51"/><use href="#b0r" x="461.02" y="108.43"/><use href="#b0r" x="463.91" y="110.35"/><use href="#b0r" x="466.8" y="112.27"/><use href="#b0r" x="469.69" y="114.19"/><use href="#b0r" x="472.57" y="116.12"/><use href="#b0r" x="475.46" y="118.04"/><use href="#b0r" x="478.35" y="119.96"/><use href="#b0r" x="481.24" y="121.88"/><use href="#b0r" x="484.13" y="123.8"/><use href="#b0r" x="487.02" y="125.72"/><use href="#b0r" x="489.91" y="127.64"/><use href="#b0r" x="492.8" y="129.56"/><use href="#b0r" x="495.69" y="131.48"/><use href="#b0r" x="498.58" y="133.4"/><use href="#b0r" x="501.46" y="135.33"/><use href="#b0r" x="504.35" y="137.25"/><use href="#b0r" x="507.24" y="139.17"/><use href="#b0r" x="510.13" y="141.09"/><use href="#b0r" x="513.02" y="143.01"/><use href="#b0r" x="515.91" y="144.93"/></g>
<g fill="#a80000" stroke="#c8c8c8" stroke-width="0.33"><use href="#b0t" x="432.13" y="89.22"/><use href="#b0t" x="435.02" y="91.14"/><use href="#b0t" x="437.91" y="93.06"/><use href="#b0t" x="440.8" y="94.98"/><use href="#b0t" x="443.69" y="96.91"/><use href="#b0t" x="446.57" y="98.83"/><use href="#b0t" x="449.46" y="100.75"/><use href="#b0t" x="452.35" y="102.67"/><use href="#b0t" x="455.24" y="104.59"/><use href="#b0t" x="458.13" y="106.51"/><use href="#b0t" x="461.02" y="108.43"/><use href="#b0t" x="463.91" y="110.35"/><use href="#b0t" x="466.8" y="112.27"/><use href="#b0t" x="469.69" y="114.19"/><use href="#b0t" x="472.57" y="116.12"/><use href="#b0t" x="475.46" y="118.04"/><use href="#b0t" x="478.35" y="119.96"/><use href="#b0t" x="481.24" y="121.88"/><use href="#b0t" x="484.13" y="123.8"/><use href="#b0t" x="487.02" y="125.72"/><use href="#b0t" x="489.91" y="127.64"/><use href="#b0t" x="492.8" y="129.56"/><use href="#b0t" x="495.69" y="131.48"/><use href="#b0t" x="498.58" y="133.4"/><use href="#b0t" x="501.46" y="135.33"/><use href="#b0t" x="504.35" y="137.25"/><use href="#b0t" x="507.24" y="139.17"/><use href="#b0t" x="510.13" y="141.09"/><use href="#b0t" x="513.02" y="143.01"/><use href="#b0t" x="515.91" y="144.93"/></g>
<g fill="#3c0000"><use href="#b0l" x="428.55" y="90.63"/><use href="#b0l" x="431.43" y="92.56"/><use href="#b0l" x="434.32" y="94.48"/><use href="#b0l" x="437.21" y="96.4"/><use href="#b0l" x="440.1" y="98.32"/><use href="#b0l" x="442.99" y="100.24"/><use href="#b0l" x="445.88" y="102.16"/><use href="#b0l" x="448.77" y="104.08"/><use href="#b0l" x="451.66" y="106"/><use href="#b0l" x="454.55" y="107.92"/><use href="#b0l" x="457.44" y="109.84"/><use href="#b0l" x="460.32" y="111.77"/><use href="#b0l" x="463.21" y="113.69"/><use href="#b0l" x="466.1" y="115.61"/><use href="#b0l" x="468.99" y="117.53"/><use href="#b0l" x="471.88" y="119.45"/><use href="#b0l" x="474.77" y="121.37"/><use href="#b0l" x="477.66" y="123.29"/><use href="#b0l" x="480.55" y="125.21"/><use href="#b0l" x="483.44" y="127.13"/><use href="#b0l" x="486.32" y="129.05"/><use href="#b0l" x="489.21" y="130.98"/><use href="#b0l" x="492.1" y="132.9"/><use href="#b0l" x="494.99" y="134.82"/><use href="#b0l" x="497.88" y="136.74"/><use href="#b0l" x="500.77" y="138.66"/><use href="#b0l" x="503.66" y="140.58"/><use href="#b0l" x="506.55" y="142.5"/><use href="#b0l" x="509.44" y="144.42"/><use href="#b0l" x="512.33" y="146.34"/></g>
<g fill="#320000"><use href="#b0r" x="428.55" y="90.63"/><use href="#b0r" x="431.43" y="92.56"/><use href="#b0r" x="434.32" y="94.48"/><use href="#b0r" x="437.21" y="96.4"/><use href="#b0r" x="440.1" y="98.32"/><use href="#b0r" x="442.99" y="100.24"/><use href="#b0r" x="445.88" y="102.16"/><use href="#b0r" x="448.77" y="104.08"/><use href="#b0r" x="451.66" y="106"/><use href="#b0r" x="454.55" y="107.92"/><use href="#b0r" x="457.44" y="109.84"/><use href="#b0r" x="460.32" y="111.77"/><use href="#b0r" x="463.21" y="113.69"/><use href="#b0r" x="466.1" y="115.61"/><use href="#b0r" x="468.99" y="117.53"/><use href="#b0r" x="471.88" y="119.45"/><use href="#b0r" x="474.77" y="121.37"/><use href="#b0r" x="477.66" y="123.29"/><use href="#b0r" x="480.55" y="125.21"/><use href="#b0r" x="483.44" y="127.13"/><use href="#b0r" x="486.32" y="129.05"/><use href="#b0r" x="489.21" y="130.98"/><use href="#b0r" x="492.1" y="132.9"/><use href="#b0r" x="494.99" y="134.82"/><use href="#b0r" x="497.88" y="136.74"/><use href="#b0r" x="500.77" y="138.66"/><use href="#b0r" x="503.66" y="140.58"/><use href="#b0r" x="506.55" y="142.5"/><use href="#b0r" x="509.44" y="144.42"/><use href="#b0r" x="512.33" y="146.34"/></g>
<g fill="#c70000" stroke="#c8c8c8" stroke-width="0.33"><use href="#b0t" x="428.55" y="90.63"/><use href="#b0t" x="431.43" y="92.56"/><use href="#b0t" x="434.32" y="94.48"/><use href="#b0t" x="437.21" y="96.4"/><use href="#b0t" x="440.1" y="98.32"/><use href="#b0t" x="442.99" y="100.24"/><use href="#b0t" x="445.88" y="102.16"/><use href="#b0t" x="448.77" y="104.08"/><use href="#b0t" x="451.66" y="106"/><use href="#b0t" x="454.55" y="107.92"/><use href="#b0t" x="457.44" y="109.84"/><use href="#b0t" x="460.32" y="111.77"/><use href="#b0t" x="463.21" y="113.69"/><use href="#b0t" x="466.1" y="115.61"/><use href="#b0t" x="468.99" y="117.53"/><use href="#b0t" x="471.88" y="119.45"/><use href="#b0t" x="474.77" y="121.37"/><use href="#b0t" x="477.66" y="123.29"/><use href="#b0t" x="480.55" y="125.21"/><use href="#b0t" x="483.44" y="127.13"/><use href="#b0t" x="486.32" y="129.05"/><use href="#b0t" x="489.21" y="130.98"/><use href="#b0t" x="492.1" y="132.9"/><use href="#b0t" x="494.99" y="134.82"/><use href="#b0t" x="497.88" y="136.74"/><use href="#b0t" x="500.77" y="138.66"/><use href="#b0t" x="503.66" y="140.58"/><use href="#b0t" x="506.55" y="142.5"/><use href="#b0t" x="509.44" y="144.42"/><use href="#b0t" x="512.33" y="146.34"/></g>
<g fill="#430000"><use href="#b0l" x="424.96" y="92.05"/><use href="#b0l" x="427.85" y="93.97"/><use href="#b0l" x="430.74" y="95.89"/><use href="#b0l" x="433.63" y="97.81"/><use href="#b0l" x="436.52" y="99.73"/><use href="#b0l" x="439.41" y="101.65"/><use href="#b0l" x="442.3" y="103.58"/><use href="#b0l" x="445.18" y="105.5"/><use href="#b0l" x="448.07" y="107.42"/><use href="#b0l" x="450.96" y="109.34"/><use href="#b0l" x="453.85" y="111.26"/><use href="#b0l" x="456.74" y="113.18"/><use href="#b0l" x="459.63" y="115.1"/><use href="#b0l" x="462.52" y="117.02"/><use href="#b0l" x="465.41" y="118.94"/><use href="#b0l" x="468.3" y="120.86"/><use href="#b0l" x="471.19" y="122.79"/><use href="#b0l" x="474.07" y="124.71"/><use href="#b0l" x="476.96" y="126.63"/><use href="#b0l" x="479.85" y="128.55"/><use href="#b0l" x="482.74" y="130.47"/><use href="#b0l" x="485.63" y="132.39"/><use href="#b0l" x="488.52" y="134.31"/><use href="#b0l" x="491.41" y="136.23"/><use href="#b0l" x="494.3" y="138.15"/><use href="#b0l" x="497.19" y="140.07"/><use href="#b0l" x="500.07" y="142"/><use href="#b0l" x="502.96" y="143.92"/><use href="#b0l" x="505.85" y="145.84"/><use href="#b0l" x="508.74" y="147.76"/></g>
<g fill="#380000"><use href="#b0r" x="424.96" y="92.05"/><use href="#b0r" x="427.85" y="93.97"/><use href="#b0r" x="430.74" y="95.89"/><use href="#b0r" x="433.63" y="97.81"/><use href="#b0r" x="436.52" y="99.73"/><use href="#b0r" x="439.41" y="101.65"/><use href="#b0r" x="442.3" y="103.58"/><use href="#b0r" x="445.18" y="105.5"/><use href="#b0r" x="448.07" y="107.42"/><use href="#b0r" x="450.96" y="109.34"/><use href="#b0r" x="453.85" y="111.26"/><use href="#b0r" x="456.74" y="113.18"/><use href="#b0r" x="459.63" y="115.1"/><use href="#b0r" x="462.52" y="117.02"/><use href="#b0r" x="465.41" y="118.94"/><use href="#b0r" x="468.3" y="120.86"/><use href="#b0r" x="471.19" y="122.79"/><use href="#b0r" x="474.07" y="124.71"/><use href="#b0r" x="476.96" y="126.63"/><use href="#b0r" x="479.85" y="128.55"/><use href="#b0r" x="482.74" y="130.47"/><use href="#b0r" x="485.63" y="132.39"/><use href="#b0r" x="488.52" y="134.31"/><use href="#b0r" x="491.41" y="136.23"/><use href="#b0r" x="494.3" y="138.15"/><use href="#b0r" x="497.19" y="140.07"/><use href="#b0r" x="500.07" y="142"/><use href="#b0r" x="502.96" y="143.92"/><use href="#b0r" x="505.85" y="145.84"/><use href="#b0r" x="508.74" y="147.76"/></g>
<g fill="#e00000" stroke="#c8c8c8" stroke-width="0.33"><use href="#b0t" x="424.96" y="92.05"/><use href="#b0t" x="427.85" y="93.97"/><use href="#b0t" x="430.74" y="95.89"/><use href="#b0t" x="433.63" y="97.81"/><use href="#b0t" x="436.52" y="99.73"/><use href="#b0t" x="439.41" y="101.65"/><use href="#b0t" x="442.3" y="103.58"/><use href="#b0t" x="445.18" y="105.5"/><use href="#b0t" x="448.07" y="107.42"/><use href="#b0t" x="450.96" y="109.34"/><use href="#b0t" x="453.85" y="111.26"/><use href="#b0t" x="456.74" y="113.18"/><use href="#b0t" x="459.63" y="115.1"/><use href="#b0t" x="462.52" y="117.02"/><use href="#b0t" x="465.41" y="118.94"/><use href="#b0t" x="468.3" y="120.86"/><use href="#b0t" x="471.19" y="122.79"/><use href="#b0t" x="474.07" y="124.71"/><use href="#b0t" x="476.96" y="126.63"/><use href="#b0t" x="479.85" y="128.55"/><use href="#b0t" x="482.74" y="130.47"/><use href="#b0t" x="485.63" y="132.39"/><use href="#b0t" x="488.52" y="134.31"/><use href="#b0t" x="491.41" y="136.23"/><use href="#b0t" x="494.3" y="138.15"/><use href="#b0t" x="497.19" y="140.07"/><use href="#b0t" x="500.07" y="142"/><use href="#b0t" x="502.96" y="143.92"/><use href="#b0t" x="505.85" y="145.84"/><use href="#b0t" x="508.74" y="147.76"/></g>
<g fill="#4b0000"><use href="#b0l" x="421.38" y="93.46"/><use href="#b0l" x="424.27" y="95.38"/><use href="#b0l" x="427.16" y="97.31"/><use href="#b0l" x="430.04" y="99.23"/><use href="#b0l" x="432.93" y="101.15"/><use href="#b0l" x="435.82" y="103.07"/><use href="#b0l" x="438.71" y="104.99"/><use href="#b0l" x="441.6" y="106.91"/><use href="#b0l" x="444.49" y="108.83"/><use href="#b0l" x="447.38" y="110.75"/><use href="#b0l" x="450.27" y="112.67"/><use href="#b0l" x="453.16" y="114.59"/><use href="#b0l" x="456.05" y="116.51"/><use href="#b0l" x="458.93" y="118.44"/><use href="#b0l" x="461.82" y="120.36"/><use href="#b0l" x="464.71" y="122.28"/><use href="#b0l" x="467.6" y="124.2"/><use href="#b0l" x="470.49" y="126.12"/><use href="#b0l" x="473.38" y="128.04"/><use href="#b0l" x="476.27" y="129.96"/><use href="#b0l" x="479.16" y="131.88"/><use href="#b0l" x="482.05" y="133.8"/><use href="#b0l" x="484.94" y="135.72"/><use href="#b0l" x="487.82" y="137.65"/><use href="#b0l" x="490.71" y="139.57"/><use href="#b0l" x="493.6" y="141.49"/><use href="#b0l" x="496.49" y="143.41"/><use href="#b0l" x="499.38" y="145.33"/><use href="#b0l" x="502.27" y="147.25"/><use href="#b0l" x="505.16" y="149.17"/></g>
<g fill="#3e0000"><use href="#b0r" x="421.38" y="93.46"/><use href="#b0r" x="424.27" y="95.38"/><use href="#b0r" x="427.16" y="97.31"/><use href="#b0r" x="430.04" y="99.23"/><use href="#b0r" x="432.93" y="101.15"/><use href="#b0r" x="435.82" y="103.07"/><use href="#b0r" x="438.71" y="104.99"/><use href="#b0r" x="441.6" y="106.91"/><use href="#b0r" x="444.49" y="108.83"/><use href="#b0r" x="447.38" y="110.75"/><use href="#b0r" x="450.27" y="112.67"/><use href="#b0r" x="453.16" y="114.59"/><use href="#b0r" x="456.05" y="116.51"/><use href="#b0r" x="458.93" y="118.44"/><use href="#b0r" x="461.82" y="120.36"/><use href="#b0r" x="464.71" y="122.28"/><use href="#b0r" x="467.6" y="124.2"/><use href="#b0r" x="470.49" y="126.12"/><use href="#b0r" x="473.38" y="128.04"/><use href="#b0r" x="476.27" y="129.96"/><use href="#b0r" x="479.16" y="131.88"/><use href="#b0r" x="482.05" y="133.8"/><use href="#b0r" x="484.94" y="135.72"/><use href="#b0r" x="487.82" y="137.65"/><use href="#b0r" x="490.71" y="139.57"/><use href="#b0r" x="493.6" y="141.49"/><use href="#b0r" x="496.49" y="143.41"/><use href="#b0r" x="499.38" y="145.33"/><use href="#b0r" x="502.27" y="147.25"/><use href="#b0r" x="505.16" y="149.17"/></g>
<g fill="#fa0000" stroke="#c8c8c8" stroke-width="0.33"><use href="#b0t" x="421.38" y="93.46"/><use href="#b0t" x="424.27" y="95.38"/><use href="#b0t" x="427.16" y="97.31"/><use href="#b0t" x="430.04" y="99.23"/><use href="#b0t" x="432.93" y="101.15"/><use href="#b0t" x="435.82" y="103.07"/><use href="#b0t" x="438.71" y="104.99"/><use href="#b0t" x="441.6" y="106.91"/><use href="#b0t" x="444.49" y="108.83"/><use href="#b0t" x="447.38" y="110.75"/><use href="#b0t" x="450.27" y="112.67"/><use href="#b0t" x="453.16" y="114.59"/><use href="#b0t" x="456.05" y="116.51"/><use href="#b0t" x="458.93" y="118.44"/><use href="#b0t" x="461.82" y="120.36"/><use href="#b0t" x="464.71" y="122.28"/><use href="#b0t" x="467.6" y="124.2"/><use href="#b0t" x="470.49" y="126.12"/><use href="#b0t" x="473.38" y="128.04"/><use href="#b0t" x="476.27" y="129.96"/><use href="#b0t" x="479.16" y="131.88"/><use href="#b0t" x="482.05" y="133.8"/><use href="#b0t" x="484.94" y="135.72"/><use href="#b0t" x="487.82" y="137.65"/><use href="#b0t" x="490.71" y="139.57"/><use href="#b0t" x="493.6" y="141.49"/><use href="#b0t" x="496.49" y="143.41"/><use href="#b0t" x="499.38" y="145.33"/><use href="#b0t" x="502.27" y="147.25"/><use href="#b0t" x="505.16" y="149.17"/></g>
<g fill="#4c0600"><use href="#b0l" x="417.79" y="94.88"/><use href="#b0l" x="420.68" y="96.8"/><use href="#b0l" x="423.57" y="98.72"/><use href="#b0l" x="426.46" y="100.64"/><use href="#b0l" x="429.35" y="102.56"/><use href="#b0l" x="432.24" y="104.48"/><use href="#b0l" x="435.13" y="106.4"/><use href="#b0l" x="438.02" y="108.32"/><use href="#b0l" x="440.91" y="110.25"/><use href="#b0l" x="443.79" y="112.17"/><use href="#b0l" x="446.68" y="114.09"/><use href="#b0l" x="449.57" y="116.01"/><use href="#b0l" x="452.46" y="117.93"/><use href="#b0l" x="455.35" y="119.85"/><use href="#b0l" x="458.24" y="121.77"/><use href="#b0l" x="461.13" y="123.69"/><use href="#b0l" x="464.02" y="125.61"/><use href="#b0l" x="466.91" y="127.53"/><use href="#b0l" x="469.8" y="129.46"/><use href="#b0l" x="472.68" y="131.38"/><use href="#b0l" x="475.57" y="133.3"/><use href="#b0l" x="478.46" y="135.22"/><use href="#b0l" x="481.35" y="137.14"/><use href="#b0l" x="484.24" y="139.06"/><use href="#b0l" x="487.13" y="140.98"/><use href="#b0l" x="490.02" y="142.9"/><use href="#b0l" x="492.91" y="144.82"/><use href="#b0l" x="495.8" y="146.74"/><use href="#b0l" x="498.69" y="148.67"/><use href="#b0l" x="501.57" y="150.59"/></g>
<g fill="#400500"><use href="#b0r" x="417.79" y="94.88"/><use href="#b0r" x="420.68" y="96.8"/><use href="#b0r" x="423.57" y="98.72"/><use href="#b0r" x="426.46" y="100.64"/><use href="#b0r" x="429.35" y="102.56"/><use href="#b0r" x="432.24" y="104.48"/><use href="#b0r" x="435.13" y="106.4"/><use href="#b0r" x="438.02" y="108.32"/><use href="#b0r" x="440.91" y="110.25"/><use href="#b0r" x="443.79" y="112.17"/><use href="#b0r" x="446.68" y="114.09"/><use href="#b0r" x="449.57" y="116.01"/><use href="#b0r" x="452.46" y="117.93"/><use href="#b0r" x="455.35" y="119.85"/><use href="#b0r" x="458.24" y="121.77"/><use href="#b0r" x="461.13" y="123.69"/><use href="#b0r" x="464.02" y="125.61"/><use href="#b0r" x="466.91" y="127.53"/><use href="#b0r" x="469.8" y="129.46"/><use href="#b0r" x="472.68" y="131.38"/><use href="#b0r" x="475.57" y="133.3"/><use href="#b0r" x="478.46" y="135.22"/><use href="#b0r" x="481.35" y="137.14"/><use href="#b0r" x="484.24" y="139.06"/><use href="#b0r" x="487.13" y="140.98"/><use href="#b0r" x="490.02" y="142.9"/><use href="#b0r" x="492.91" y="144.82"/><use href="#b0r" x="495.8" y="146.74"/><use href="#b0r" x="498.69" y="148.67"/><use href="#b0r" x="501.57" y="150.59"/></g>
<g fill="#ff1400" stroke="#c8c8c8" stroke-width="0.33"><use href="#b0t" x="417.79" y="94.88"/><use href="#b0t" x="420.68" y="96.8"/><use href="#b0t" x="423.57" y="98.72"/><use href="#b0t" x="426.46" y="100.64"/><use href="#b0t" x="429.35" y="102.56"/><use href="#b0t" x="432.24" y="104.48"/><use href="#b0t" x="435.13" y="106.4"/><use href="#b0t" x="438.02" y="108.32"/><use href="#b0t" x="440.91" y="110.25"/><use href="#b0t" x="443.79" y="112.17"/><use href="#b0t" x="446.68" y="114.09"/><use href="#b0t" x="449.57" y="116.01"/><use href="#b0t" x="452.46" y="117.93"/><use href="#b0t" x="455.35" y="119.85"/><use href="#b0t" x="458.24" y="121.77"/><use href="#b0t" x="461.13" y="123.69"/><use href="#b0t" x="464.02" y="125.61"/><use href="#b0t" x="466.91" y="127.53"/><use href="#b0t" x="469.8" y="129.46"/><use href="#b0t" x="472.68" y="131.38"/><use href="#b0t" x="475.57" y="133.3"/><use href="#b0t" x="478.46" y="135.22"/><use href="#b0t" x="481.35" y="137.14"/><use href="#b0t" x="484.24" y="139.06"/><use href="#b0t" x="487.13" y="140.98"/><use href="#b0t" x="490.02" y="142.9"/><use href="#b0t" x="492.91" y="144.82"/><use href="#b0t" x="495.8" y="146.74"/><use href="#b0t" x="498.69" y="148.67"/><use href="#b0t" x="501.57" y="150.59"/></g>
<g fill="#4c0f00"><use href="#b0l" x="414.21" y="96.29"/><use href="#b0l" x="417.1" y="98.21"/><use href="#b0l" x="419.99" y="100.13"/><use href="#b0l" x="422.88" y="102.05"/><use href="#b0l" x="425.76" y="103.97"/><use href="#b0l" x="428.65" y="105.9"/><use href="#b0l" x="431.54" y="107.82"/><use href="#b0l" x="434.43" y="109.74"/><use href="#b0l" x="437.32" y="111.66"/><use href="#b0l" x="440.21" y="113.58"/><use href="#b0l" x="443.1" y="115.5"/><use href="#b0l" x="445.99" y="117.42"/><use href="#b0l" x="448.88" y="119.34"/><use href="#b0l" x="451.77" y="121.26"/><use href="#b0l" x="454.65" y="123.19"/><use href="#b0l" x="457.54" y="125.11"/><use href="#b0l" x="460.43" y="127.03"/><use href="#b0l" x="463.32" y="128.95"/><use href="#b0l" x="466.21" y="130.87"/><use href="#b0l" x="469.1" y="132.79"/><use href="#b0l" x="471.99" y="134.71"/><use href="#b0l" x="474.88" y="136.63"/><use href="#b0l" x="477.77" y="138.55"/><use href="#b0l" x="480.66" y="140.47"/><use href="#b0l" x="483.54" y="142.4"/><use href="#b0l" x="486.43" y="144.32"/><use href="#b0l" x="489.32" y="146.24"/><use href="#b0l" x="492.21" y="148.16"/><use href="#b0l" x="495.1" y="150.08"/><use href="#b0l" x="497.99" y="152"/></g>
<g fill="#400c00"><use href="#b0r" x="414.21" y="96.29"/><use href="#b0r" x="417.1" y="98.21"/><use href="#b0r" x="419.99" y="100.13"/><use href="#b0r" x="422.88" y="102.05"/><use href="#b0r" x="425.76" y="103.97"/><use href="#b0r" x="428.65" y="105.9"/><use href="#b0r" x="431.54" y="107.82"/><use href="#b0r" x="434.43" y="109.74"/><use href="#b0r" x="437.32" y="111.66"/><use href="#b0r" x="440.21" y="113.58"/><use href="#b0r" x="443.1" y="115.5"/><use href="#b0r" x="445.99" y="117.42"/><use href="#b0r" x="448.88" y="119.34"/><use href="#b0r" x="451.77" y="121.26"/><use href="#b0r" x="454.65" y="123.19"/><use href="#b0r" x="457.54" y="125.11"/><use href="#b0r" x="460.43" y="127.03"/><use href="#b0r" x="463.32" y="128.95"/><use href="#b0r" x="466.21" y="130.87"/><use href="#b0r" x="469.1" y="132.79"/><use href="#b0r" x="471.99" y="134.71"/><use href="#b0r" x="474.88" y="136.63"/><use href="#b0r" x="477.77" y="138.55"/><use href="#b0r" x="480.66" y="140.47"/><use href="#b0r" x="483.54" y="142.4"/><use href="#b0r" x="486.43" y="144.32"/><use href="#b0r" x="489.32" y="146.24"/><use href="#b0r" x="492.21" y="148.16"/><use href="#b0r" x="495.1" y="150.08"/><use href="#b0r" x="497.99" y="152"/></g>
<g fill="#ff3100" stroke="#c8c8c8" stroke-width="0.33"><use href="#b0t" x="414.21" y="96.29"/><use href="#b0t" x="417.1" y="98.21"/><use href="#b0t" x="419.99" y="100.13"/><use href="#b0t" x="422.88" y="102.05"/><use href="#b0t" x="425.76" y="103.97"/><use href="#b0t" x="428.65" y="105.9"/><use href="#b0t" x="431.54" y="107.82"/><use href="#b0t" x="434.43" y="109.74"/><use href="#b0t" x="437.32" y="111.66"/><use href="#b0t" x="440.21" y="113.58"/><use href="#b0t" x="443.1" y="115.5"/><use href="#b0t" x="445.99" y="117.42"/><use href="#b0t" x="448.88" y="119.34"/><use href="#b0t" x="451.77" y="121.26"/><use href="#b0t" x="454.65" y="123.19"/><use href="#b0t" x="457.54" y="125.11"/><use href="#b0t" x="460.43" y="127.03"/><use href="#b0t" x="463.32" y="128.95"/><use href="#b0t" x="466.21" y="130.87"/><use href="#b0t" x="469.1" y="132.79"/><use href="#b0t" x="471.99" y="134.71"/><use href="#b0t" x="474.88" y="136.63"/><use href="#b0t" x="477.77" y="138.55"/><use href="#b0t" x="480.66" y="140.47"/><use href="#b0t" x="483.54" y="142.4"/><use href="#b0t" x="486.43" y="144.32"/><use href="#b0t" x="489.32" y="146.24"/><use href="#b0t" x="492.21" y="148.16"/><use href="#b0t" x="495.1" y="150.08"/><use href="#b0t" x="497.99" y="152"/></g>
<g fill="#4c1700"><use href="#b0l" x="410.62" y="97.7"/><use href="#b0l" x="413.51" y="99.63"/><use href="#b0l" x="416.4" y="101.55"/><use href="#b0l" x="419.29" y="103.47"/><use href="#b0l" x="422.18" y="105.39"/><use href="#b0l" x="425.07" y="107.31"/><use href="#b0l" x="427.96" y="109.23"/><use href="#b0l" x="430.85" y="111.15"/><use href="#b0l" x="433.74" y="113.07"/><use href="#b0l" x="436.63" y="114.99"/><use href="#b0l" x="439.51" y="116.92"/><use href="#b0l" x="442.4" y="118.84"/><use href="#b0l" x="445.29" y="120.76"/><use href="#b0l" x="448.18" y="122.68"/><use href="#b0l" x="451.07" y="124.6"/><use href="#b0l" x="453.96" y="126.52"/><use href="#b0l" x="456.85" y="128.44"/><use href="#b0l" x="459.74" y="130.36"/><use href="#b0l" x="462.63" y="132.28"/><use href="#b0l" x="465.52" y="134.2"/><use href="#b0l" x="468.4" y="136.12"/><use href="#b0l" x="471.29" y="138.05"/><use href="#b0l" x="474.18" y="139.97"/><use href="#b0l" x="477.07" y="141.89"/><use href="#b0l" x="479.96" y="143.81"/><use href="#b0l" x="482.85" y="145.73"/><use href="#b0l" x="485.74" y="147.65"/><use href="#b0l" x="488.63" y="149.57"/><use href="#b0l" x="491.52" y="151.49"/><use href="#b0l" x="494.41" y="153.41"/></g>
<g fill="#401400"><use href="#b0r" x="410.62" y="97.7"/><use href="#b0r" x="413.51" y="99.63"/><use href="#b0r" x="416.4" y="101.55"/><use href="#b0r" x="419.29" y="103.47"/><use href="#b0r" x="422.18" y="105.39"/><use href="#b0r" x="425.07" y="107.31"/><use href="#b0r" x="427.96" y="109.23"/><use href="#b0r" x="430.85" y="111.15"/><use href="#b0r" x="433.74" y="113.07"/><use href="#b0r" x="436.63" y="114.99"/><use href="#b0r" x="439.51" y="116.92"/><use href="#b0r" x="442.4" y="118.84"/><use href="#b0r" x="445.29" y="120.76"/><use href="#b0r" x="448.18" y="122.68"/><use href="#b0r" x="451.07" y="124.6"/><use href="#b0r" x="453.96" y="126.52"/><use href="#b0r" x="456.85" y="128.44"/><use href="#b0r" x="459.74" y="130.36"/><use href="#b0r" x="462.63" y="132.28"/><use href="#b0r" x="465.52" y="134.2"/><use href="#b0r" x="468.4" y="136.12"/><use href="#b0r" x="471.29" y="138.05"/><use href="#b0r" x="474.18" y="139.97"/><use href="#b0r" x="477.07" y="141.89"/><use href="#b0r" x="479.96" y="143.81"/><use href="#b0r" x="482.85" y="145.73"/><use href="#b0r" x="485.74" y="147.65"/><use href="#b0r" x="488.63" y="149.57"/><use href="#b0r" x="491.52" y="151.49"/><use href="#b0r" x="494.41" y="153.41"/></g>
<g fill="#ff4e00" stroke="#c8c8c8" stroke-width="0.33"><use href="#b0t" x="410.62" y="97.7"/><use href="#b0t" x="413.51" y="99.63"/><use href="#b0t" x="416.4" y="101.55"/><use href="#b0t" x="419.29" y="103.47"/><use href="#b0t" x="422.18" y="105.39"/><use href="#b0t" x="425.07" y="107.31"/><use href="#b0t" x="427.96" y="109.23"/><use href="#b0t" x="430.85" y="111.15"/><use href="#b0t" x="433.74" y="113.07"/><use href="#b0t" x="436.63" y="114.99"/><use href="#b0t" x="439.51" y="116.92"/><use href="#b0t" x="442.4" y="118.84"/><use href="#b0t" x="445.29" y="120.76"/><use href="#b0t" x="448.18" y="122.68"/><use href="#b0t" x="451.07" y="124.6"/><use href="#b0t" x="453.96" y="126.52"/><use href="#b0t" x="456.85" y="128.44"/><use href="#b0t" x="459.74" y="130.36"/><use href="#b0t" x="462.63" y="132.28"/><use href="#b0t" x="465.52" y="134.2"/><use href="#b0t" x="468.4" y="136.12"/><use href="#b0t" x="471.29" y="138.05"/><use href="#b0t" x="474.18" y="139.97"/><use href="#b0t" x="477.07" y="141.89"/><use href="#b0t" x="479.96" y="143.81"/><use href="#b0t" x="482.85" y="145.73"/><use href="#b0t" x="485.74" y="147.65"/><use href="#b0t" x="488.63" y="149.57"/><use href="#b0t" x="491.52" y="151.49"/><use href="#b0t" x="494.41" y="153.41"/></g>
<g fill="#4c2000"><use href="#b0l" x="407.04" y="99.12"/><use href="#b0l" x="409.93" y="101.04"/><use href="#b0l" x="412.82" y="102.96"/><use href="#b0l" x="415.71" y="104.88"/><use href="#b0l" x="418.6" y="106.8"/><use href="#b0l" x="421.49" y="108.72"/><use href="#b0l" x="424.38" y="110.65"/><use href="#b0l" x="427.26" y="112.57"/><use href="#b0l" x="430.15" y="114.49"/><use href="#b0l" x="433.04" y="116.41"/><use href="#b0l" x="435.93" y="118.33"/><use href="#b0l" x="438.82" y="120.25"/><use href="#b0l" x="441.71" y="122.17"/><use href="#b0l" x="444.6" y="124.09"/><use href="#b0l" x="447.49" y="126.01"/><use href="#b0l" x="450.38" y="127.93"/><use href="#b0l" x="453.26" y="129.86"/><use href="#b0l" x="456.15" y="131.78"/><use href="#b0l" x="459.04" y="133.7"/><use href="#b0l" x="461.93" y="135.62"/><use href="#b0l" x="464.82" y="137.54"/><use href="#b0l" x="467.71" y="139.46"/><use href="#b0l" x="470.6" y="141.38"/><use href="#b0l" x="473.49" y="143.3"/><use href="#b0l" x="476.38" y="145.22"/><use href="#b0l" x="479.27" y="147.14"/><use href="#b0l" x="482.15" y="149.06"/><use href="#b0l" x="485.04" y="150.99"/><use href="#b0l" x="487.93" y="152.91"/><use href="#b0l" x="490.82" y="154.83"/></g>
<g fill="#401b00"><use href="#b0r" x="407.04" y="99.12"/><use href="#b0r" x="409.93" y="101.04"/><use href="#b0r" x="412.82" y="102.96"/><use href="#b0r" x="415.71" y="104.88"/><use href="#b0r" x="418.6" y="106.8"/><use href="#b0r" x="421.49" y="108.72"/><use href="#b0r" x="424.38" y="110.65"/><use href="#b0r" x="427.26" y="112.57"/><use href="#b0r" x="430.15" y="114.49"/><use href="#b0r" x="433.04" y="116.41"/><use href="#b0r" x="435.93" y="118.33"/><use href="#b0r" x="438.82" y="120.25"/><use href="#b0r" x="441.71" y="122.17"/><use href="#b0r" x="444.6" y="124.09"/><use href="#b0r" x="447.49" y="126.01"/><use href="#b0r" x="450.38" y="127.93"/><use href="#b0r" x="453.26" y="129.86"/><use href="#b0r" x="456.15" y="131.78"/><use href="#b0r" x="459.04" y="133.7"/><use href="#b0r" x="461.93" y="135.62"/><use href="#b0r" x="464.82" y="137.54"/><use href="#b0r" x="467.71" y="139.46"/><use href="#b0r" x="470.6" y="141.38"/><use href="#b0r" x="473.49" y="143.3"/><use href="#b0r" x="476.38" y="145.22"/><use href="#b0r" x="479.27" y="147.14"/><use href="#b0r" x="482.15" y="149.06"/><use href="#b0r" x="485.04" y="150.99"/><use href="#b0r" x="487.93" y="152.91"/><use href="#b0r" x="490.82" y="154.83"/></g>
<g fill="#ff6b00" stroke="#c8c8c8" stroke-width="0.33"><use href="#b0t" x="407.04" y="99.12"/><use href="#b0t" x="409.93" y="101.04"/><use href="#b0t" x="412.82" y="102.96"/><use href="#b0t" x="415.71" y="104.88"/><use href="#b0t" x="418.6" y="106.8"/><use href="#b0t" x="421.49" y="108.72"/><use href="#b0t" x="424.38" y="110.65"/><use href="#b0t" x="427.26" y="112.57"/><use href="#b0t" x="430.15" y="114.49"/><use href="#b0t" x="433.04" y="116.41"/><use href="#b0t" x="435.93" y="118.33"/><use href="#b0t" x="438.82" y="120.25"/><use href="#b0t" x="441.71" y="122.17"/><use href="#b0t" x="444.6" y="124.09"/><use href="#b0t" x="447.49" y="126.01"/><use href="#b0t" x="450.38" y="127.93"/><use href="#b0t" x="453.26" y="129.86"/><use href="#b0t" x="456.15" y="131.78"/><use href="#b0t" x="459.04" y="133.7"/><use href="#b0t" x="461.93" y="135.62"/><use href="#b0t" x="464.82" y="137.54"/><use href="#b0t" x="467.71" y="139.46"/><use href="#b0t" x="470.6" y="141.38"/><use href="#b0t" x="473.49" y="143.3"/><use href="#b0t" x="476.38" y="145.22"/><use href="#b0t" x="479.27" y="147.14"/><use href="#b0t" x="482.15" y="149.06"/><use href="#b0t" x="485.04" y="150.99"/><use href="#b0t" x="487.93" y="152.91"/><use href="#b0t" x="490.82" y="154.83"/></g>
<g fill="#4c2c00"><use href="#b0l" x="403.46" y="100.53"/><use href="#b0l" x="406.35" y="102.45"/><use href="#b0l" x="409.24" y="104.38"/><use href="#b0l" x="412.12" y="106.3"/><use href="#b0l" x="415.01" y="108.22"/><use href="#b0l" x="417.9" y="110.14"/><use href="#b0l" x="420.79" y="112.06"/><use href="#b0l" x="423.68" y="113.98"/><use href="#b0l" x="426.57" y="115.9"/><use href="#b0l" x="429.46" y="117.82"/><use href="#b0l" x="432.35" y="119.74"/><use href="#b0l" x="435.24" y="121.66"/><use href="#b0l" x="438.12" y="123.58"/><use href="#b0l" x="441.01" y="125.51"/><use href="#b0l" x="443.9" y="127.43"/><use href="#b0l" x="446.79" y="129.35"/><use href="#b0l" x="449.68" y="131.27"/><use href="#b0l" x="452.57" y="133.19"/><use href="#b0l" x="455.46" y="135.11"/><use href="#b0l" x="458.35" y="137.03"/><use href="#b0l" x="461.24" y="138.95"/><use href="#b0l" x="464.13" y="140.87"/><use href="#b0l" x="467.01" y="142.79"/><use href="#b0l" x="469.9" y="144.72"/><use href="#b0l" x="472.79" y="146.64"/><use href="#b0l" x="475.68" y="148.56"/><use href="#b0l" x="478.57" y="150.48"/><use href="#b0l" x="481.46" y="152.4"/><use href="#b0l" x="484.35" y="154.32"/><use href="#b0l" x="487.24" y="156.24"/></g>
<g fill="#402500"><use href="#b0r" x="403.46" y="100.53"/><use href="#b0r" x="406.35" y="102.45"/><use href="#b0r" x="409.24" y="104.38"/><use href="#b0r" x="412.12" y="106.3"/><use href="#b0r" x="415.01" y="108.22"/><use href="#b0r" x="417.9" y="110.14"/><use href="#b0r" x="420.79" y="112.06"/><use href="#b0r" x="423.68" y="113.98"/><use href="#b0r" x="426.57" y="115.9"/><use href="#b0r" x="429.46" y="117.82"/><use href="#b0r" x="432.35" y="119.74"/><use href="#b0r" x="435.24" y="121.66"/><use href="#b0r" x="438.12" y="123.58"/><use href="#b0r" x="441.01" y="125.51"/><use href="#b0r" x="443.9" y="127.43"/><use href="#b0r" x="446.79" y="129.35"/><use href="#b0r" x="449.68" y="131.27"/><use href="#b0r" x="452.57" y="133.19"/><use href="#b0r" x="455.46" y="135.11"/><use href="#b0r" x="458.35" y="137.03"/><use href="#b0r" x="461.24" y="138.95"/><use href="#b0r" x="464.13" y="140.87"/><use href="#b0r" x="467.01" y="142.79"/><use href="#b0r" x="469.9" y="144.72"/><use href="#b0r" x="472.79" y="146.64"/><use href="#b0r" x="475.68" y="148.56"/><use href="#b0r" x="478.57" y="150.48"/><use href="#b0r" x="481.46" y="152.4"/><use href="#b0r" x="484.35" y="154.32"/><use href="#b0r" x="487.24" y="156.24"/></g>
<g fill="#ff9200" stroke="#c8c8c8" stroke-width="0.33"><use href="#b0t" x="403.46" y="100.53"/><use href="#b0t" x="406.35" y="102.45"/><use href="#b0t" x="409.24" y="104.38"/><use href="#b0t" x="412.12" y="106.3"/><use href="#b0t" x="415.01" y="108.22"/><use href="#b0t" x="417.9" y="110.14"/><use href="#b0t" x="420.79" y="112.06"/><use href="#b0t" x="423.68" y="113.98"/><use href="#b0t" x="426.57" y="115.9"/><use href="#b0t" x="429.46" y="117.82"/><use href="#b0t" x="432.35" y="119.74"/><use href="#b0t" x="435.24" y="121.66"/><use href="#b0t" x="438.12" y="123.58"/><use href="#b0t" x="441.01" y="125.51"/><use href="#b0t" x="443.9" y="127.43"/><use href="#b0t" x="446.79" y="129.35"/><use href="#b0t" x="449.68" y="131.27"/><use href="#b0t" x="452.57" y="133.19"/><use href="#b0t" x="455.46" y="135.11"/><use href="#b0t" x="458.35" y="137.03"/><use href="#b0t" x="461.24" y="138.95"/><use href="#b0t" x="464.13" y="140.87"/><use href="#b0t" x="467.01" y="142.79"/><use href="#b0t" x="469.9" y="144.72"/><use href="#b0t" x="472.79" y="146.64"/><use href="#b0t" x="475.68" y="148.56"/><use href="#b0t" x="478.57" y="150.48"/><use href="#b0t" x="481.46" y="152.4"/><use href="#b0t" x="484.35" y="154.32"/><use href="#b0t" x="487.24" y="156.24"/></g>
<g fill="#4c3800"><use href="#b0l" x="399.87" y="101.95"/><use href="#b0l" x="402.76" y="103.87"/><use href="#b0l" x="405.65" y="105.79"/><use href="#b0l" x="408.54" y="107.71"/><use href="#b0l" x="411.43" y="109.63"/><use href="#b0l" x="414.32" y="111.55"/><use href="#b0l" x="417.21" y="113.47"/><use href="#b0l" x="420.1" y="115.39"/><use href="#b0l" x="422.99" y="117.31"/><use href="#b0l" x="425.87" y="119.24"/><use href="#b0l" x="428.76" y="121.16"/><use href="#b0l" x="431.65" y="123.08"/><use href="#b0l" x="434.54" y="125"/><use href="#b0l" x="437.43" y="126.92"/><use href="#b0l" x="440.32" y="128.84"/><use href="#b0l" x="443.21" y="130.76"/><use href="#b0l" x="446.1" y="132.68"/><use href="#b0l" x="448.99" y="134.6"/><use href="#b0l" x="451.88" y="136.53"/><use href="#b0l" x="454.76" y="138.45"/><use href="#b0l" x="457.65" y="140.37"/><use href="#b0l" x="460.54" y="142.29"/><use href="#b0l" x="463.43" y="144.21"/><use href="#b0l" x="466.32" y="146.13"/><use href="#b0l" x="469.21" y="148.05"/><use href="#b0l" x="472.1" y="149.97"/><use href="#b0l" x="474.99" y="151.89"/><use href="#b0l" x="477.88" y="153.81"/><use href="#b0l" x="480.76" y="155.74"/><use href="#b0l" x="483.65" y="157.66"/></g>
<g fill="#402e00"><use href="#b0r" x="399.87" y="101.95"/><use href="#b0r" x="402.76" y="103.87"/><use href="#b0r" x="405.65" y="105.79"/><use href="#b0r" x="408.54" y="107.71"/><use href="#b0r" x="411.43" y="109.63"/><use href="#b0r" x="414.32" y="111.55"/><use href="#b0r" x="417.21" y="113.47"/><use href="#b0r" x="420.1" y="115.39"/><use href="#b0r" x="422.99" y="117.31"/><use href="#b0r" x="425.87" y="119.24"/><use href="#b0r" x="428.76" y="121.16"/><use href="#b0r" x="431.65" y="123.08"/><use href="#b0r" x="434.54" y="125"/><use href="#b0r" x="437.43" y="126.92"/><use href="#b0r" x="440.32" y="128.84"/><use href="#b0r" x="443.21" y="130.76"/><use href="#b0r" x="446.1" y="132.68"/><use href="#b0r" x="448.99" y="134.6"/><use href="#b0r" x="451.88" y="136.53"/><use href="#b0r" x="454.76" y="138.45"/><use href="#b0r" x="457.65" y="140.37"/><use href="#b0r" x="460.54" y="142.29"/><use href="#b0r" x="463.43" y="144.21"/><use href="#b0r" x="466.32" y="146.13"/><use href="#b0r" x="469.21" y="148.05"/><use href="#b0r" x="472.1" y="149.97"/><use href="#b0r" x="474.99" y="151.89"/><use href="#b0r" x="477.88" y="153.81"/><use href="#b0r" x="480.76" y="155.74"/><use href="#b0r" x="483.65" y="157.66"/></g>
<g fill="#ffb900" stroke="#c8c8c8" stroke-width="0.33"><use href="#b0t" x="399.87" y="101.95"/><use href="#b0t" x="402.76" y="103.87"/><use href="#b0t" x="405.65" y="105.79"/><use href="#b0t" x="408.54" y="107.71"/><use href="#b0t" x="411.43" y="109.63"/><use href="#b0t" x="414.32" y="111.55"/><use href="#b0t" x="417.21" y="113.47"/><use href="#b0t" x="420.1" y="115.39"/><use href="#b0t" x="422.99" y="117.31"/><use href="#b0t" x="425.87" y="119.24"/><use href="#b0t" x="428.76" y="121.16"/><use href="#b0t" x="431.65" y="123.08"/><use href="#b0t" x="434.54" y="125"/><use href="#b0t" x="437.43" y="126.92"/><use href="#b0t" x="440.32" y="128.84"/><use href="#b0t" x="443.21" y="130.76"/><use href="#b0t" x="446.1" y="132.68"/><use href="#b0t" x="448.99" y="134.6"/><use href="#b0t" x="451.88" y="136.53"/><use href="#b0t" x="454.76" y="138.45"/><use href="#b0t" x="457.65" y="140.37"/><use href="#b0t" x="460.54" y="142.29"/><use href="#b0t" x="463.43" y="144.21"/><use href="#b0t" x="466.32" y="146.13"/><use href="#b0t" x="469.21" y="148.05"/><use href="#b0t" x="472.1" y="149.97"/><use href="#b0t" x="474.99" y="151.89"/><use href="#b0t" x="477.88" y="153.81"/><use href="#b0t" x="480.76" y="155.74"/><use href="#b0t" x="483.65" y="157.66"/></g>
<g fill="#4c4300"><use href="#b0l" x="396.29" y="103.36"/><use href="#b0l" x="399.18" y="105.28"/><use href="#b0l" x="402.07" y="107.2"/><use href="#b0l" x="404.96" y="109.12"/><use href="#b0l" x="407.85" y="111.05"/><use href="#b0l" x="410.73" y="112.97"/><use href="#b0l" x="413.62" y="114.89"/><use href="#b0l" x="416.51" y="116.81"/><use href="#b0l" x="419.4" y="118.73"/><use href="#b0l" x="422.29" y="120.65"/><use href="#b0l" x="425.18" y="122.57"/><use href="#b0l" x="428.07" y="124.49"/><use href="#b0l" x="430.96" y="126.41"/><use href="#b0l" x="433.85" y="128.33"/><use href="#b0l" x="436.74" y="130.25"/><use href="#b0l" x="439.62" y="132.18"/><use href="#b0l" x="442.51" y="134.1"/><use href="#b0l" x="445.4" y="136.02"/><use href="#b0l" x="448.29" y="137.94"/><use href="#b0l" x="451.18" y="139.86"/><use href="#b0l" x="454.07" y="141.78"/><use href="#b0l" x="456.96" y="143.7"/><use href="#b0l" x="459.85" y="145.62"/><use href="#b0l" x="462.74" y="147.54"/><use href="#b0l" x="465.62" y="149.47"/><use href="#b0l" x="468.51" y="151.39"/><use href="#b0l" x="471.4" y="153.31"/><use href="#b0l" x="474.29" y="155.23"/><use href="#b0l" x="477.18" y="157.15"/><use href="#b0l" x="480.07" y="159.07"/></g>
<g fill="#403800"><use href="#b0r" x="396.29" y="103.36"/><use href="#b0r" x="399.18" y="105.28"/><use href="#b0r" x="402.07" y="107.2"/><use href="#b0r" x="404.96" y="109.12"/><use href="#b0r" x="407.85" y="111.05"/><use href="#b0r" x="410.73" y="112.97"/><use href="#b0r" x="413.62" y="114.89"/><use href="#b0r" x="416.51" y="116.81"/><use href="#b0r" x="419.4" y="118.73"/><use href="#b0r" x="422.29" y="120.65"/><use href="#b0r" x="425.18" y="122.57"/><use href="#b0r" x="428.07" y="124.49"/><use href="#b0r" x="430.96" y="126.41"/><use href="#b0r" x="433.85" y="128.33"/><use href="#b0r" x="436.74" y="130.25"/><use href="#b0r" x="439.62" y="132.18"/><use href="#b0r" x="442.51" y="134.1"/><use href="#b0r" x="445.4" y="136.02"/><use href="#b0r" x="448.29" y="137.94"/><use href="#b0r" x="451.18" y="139.86"/><use href="#b0r" x="454.07" y="141.78"/><use href="#b0r" x="456.96" y="143.7"/><use href="#b0r" x="459.85" y="145.62"/><use href="#b0r" x="462.74" y="147.54"/><use href="#b0r" x="465.62" y="149.47"/><use href="#b0r" x="468.51" y="151.39"/><use href="#b0r" x="471.4" y="153.31"/><use href="#b0r" x="474.29" y="155.23"/><use href="#b0r" x="477.18" y="157.15"/><use href="#b0r" x="480.07" y="159.07"/></g>
<g fill="#ffe000" stroke="#c8c8c8" stroke-width="0.33"><use href="#b0t" x="396.29" y="103.36"/><use href="#b0t" x="399.18" y="105.28"/><use href="#b0t" x="402.07" y="107.2"/><use href="#b0t" x="404.96" y="109.12"/><use href="#b0t" x="407.85" y="111.05"/><use href="#b0t" x="410.73" y="112.97"/><use href="#b0t" x="413.62" y="114.89"/><use href="#b0t" x="416.51" y="116.81"/><use href="#b0t" x="419.4" y="118.73"/><use href="#b0t" x="422.29" y="120.65"/><use href="#b0t" x="425.18" y="122.57"/><use href="#b0t" x="428.07" y="124.49"/><use href="#b0t" x="430.96" y="126.41"/><use href="#b0t" x="433.85" y="128.33"/><use href="#b0t" x="436.74" y="130.25"/><use href="#b0t" x="439.62" y="132.18"/><use href="#b0t" x="442.51" y="134.1"/><use href="#b0t" x="445.4" y="136.02"/><use href="#b0t" x="448.29" y="137.94"/><use href="#b0t" x="451.18" y="139.86"/><use href="#b0t" x="454.07" y="141.78"/><use href="#b0t" x="456.96" y="143.7"/><use href="#b0t" x="459.85" y="145.62"/><use href="#b0t" x="462.74" y="147.54"/><use href="#b0t" x="465.62" y="149.47"/><use href="#b0t" x="468.51" y="151.39"/><use href="#b0t" x="471.4" y="153.31"/><use href="#b0t" x="474.29" y="155.23"/><use href="#b0t" x="477.18" y="157.15"/><use href="#b0t" x="480.07" y="159.07"/></g>
<g fill="#484c05"><use href="#b0l" x="392.71" y="104.78"/><use href="#b0l" x="395.59" y="106.7"/><use href="#b0l" x="398.48" y="108.62"/><use href="#b0l" x="401.37" y="110.54"/><use href="#b0l" x="404.26" y="112.46"/><use href="#b0l" x="407.15" y="114.38"/><use href="#b0l" x="410.04" y="116.3"/><use href="#b0l" x="412.93" y="118.22"/><use href="#b0l" x="415.82" y="120.14"/><use href="#b0l" x="418.71" y="122.06"/><use href="#b0l" x="421.6" y="123.99"/><use href="#b0l" x="424.48" y="125.91"/><use href="#b0l" x="427.37" y="127.83"/><use href="#b0l" x="430.26" y="129.75"/><use href="#b0l" x="433.15" y="131.67"/><use href="#b0l" x="436.04" y="133.59"/><use href="#b0l" x="438.93" y="135.51"/><use href="#b0l" x="441.82" y="137.43"/><use href="#b0l" x="444.71" y="139.35"/><use href="#b0l" x="447.6" y="141.27"/><use href="#b0l" x="450.49" y="143.19"/><use href="#b0l" x="453.37" y="145.12"/><use href="#b0l" x="456.26" y="147.04"/><use href="#b0l" x="459.15" y="148.96"/><use href="#b0l" x="462.04" y="150.88"/><use href="#b0l" x="464.93" y="152.8"/><use href="#b0l" x="467.82" y="154.72"/><use href="#b0l" x="470.71" y="156.64"/><use href="#b0l" x="473.6" y="158.56"/><use href="#b0l" x="476.49" y="160.48"/></g>
<g fill="#3c4004"><use href="#b0r" x="392.71" y="104.78"/><use href="#b0r" x="395.59" y="106.7"/><use href="#b0r" x="398.48" y="108.62"/><use href="#b0r" x="401.37" y="110.54"/><use href="#b0r" x="404.26" y="112.46"/><use href="#b0r" x="407.15" y="114.38"/><use href="#b0r" x="410.04" y="116.3"/><use href="#b0r" x="412.93" y="118.22"/><use href="#b0r" x="415.82" y="120.14"/><use href="#b0r" x="418.71" y="122.06"/><use href="#b0r" x="421.6" y="123.99"/><use href="#b0r" x="424.48" y="125.91"/><use href="#b0r" x="427.37" y="127.83"/><use href="#b0r" x="430.26" y="129.75"/><use href="#b0r" x="433.15" y="131.67"/><use href="#b0r" x="436.04" y="133.59"/><use href="#b0r" x="438.93" y="135.51"/><use href="#b0r" x="441.82" y="137.43"/><use href="#b0r" x="444.71" y="139.35"/><use href="#b0r" x="447.6" y="141.27"/><use href="#b0r" x="450.49" y="143.19"/><use href="#b0r" x="453.37" y="145.12"/><use href="#b0r" x="456.26" y="147.04"/><use href="#b0r" x="459.15" y="148.96"/><use href="#b0r" x="462.04" y="150.88"/><use href="#b0r" x="464.93" y="152.8"/><use href="#b0r" x="467.82" y="154.72"/><use href="#b0r" x="470.71" y="156.64"/><use href="#b0r" x="473.6" y="158.56"/><use href="#b0r" x="476.49" y="160.48"/></g>
<g fill="#f0ff0f" stroke="#c8c8c8" stroke-width="0.33"><use href="#b0t" x="392.71" y="104.78"/><use href="#b0t" x="395.59" y="106.7"/><use href="#b0t" x="398.48" y="108.62"/><use href="#b0t" x="401.37" y="110.54"/><use href="#b0t" x="404.26" y="112.46"/><use href="#b0t" x="407.15" y="114.38"/><use href="#b0t" x="410.04" y="116.3"/><use href="#b0t" x="412.93" y="118.22"/><use href="#b0t" x="415.82" y="120.14"/><use href="#b0t" x="418.71" y="122.06"/><use href="#b0t" x="421.6" y="123.99"/><use href="#b0t" x="424.48" y="125.91"/><use href="#b0t" x="427.37" y="127.83"/><use href="#b0t" x="430.26" y="129.75"/><use href="#b0t" x="433.15" y="131.67"/><use href="#b0t" x="436.04" y="133.59"/><use href="#b0t" x="438.93" y="135.51"/><use href="#b0t" x="441.82" y="137.43"/><use href="#b0t" x="444.71" y="139.35"/><use href="#b0t" x="447.6" y="141.27"/><use href="#b0t" x="450.49" y="143.19"/><use href="#b0t" x="453.37" y="145.12"/><use href="#b0t" x="456.26" y="147.04"/><use href="#b0t" x="459.15" y="148.96"/><use href="#b0t" x="462.04" y="150.88"/><use href="#b0t" x="464.93" y="152.8"/><use href="#b0t" x="467.82" y="154.72"/><use href="#b0t" x="470.71" y="156.64"/><use href="#b0t" x="473.6" y="158.56"/><use href="#b0t" x="476.49" y="160.48"/></g>
<g fill="#3a4c12"><use href="#b0l" x="389.12" y="106.19"/><use href="#b0l" x="392.01" y="108.11"/><use href="#b0l" x="394.9" y="110.03"/><use href="#b0l" x="397.79" y="111.95"/><use href="#b0l" x="400.68" y="113.87"/><use href="#b0l" x="403.57" y="115.79"/><use href="#b0l" x="406.46" y="117.72"/><use href="#b0l" x="409.34" y="119.64"/><use href="#b0l" x="412.23" y="121.56"/><use href="#b0l" x="415.12" y="123.48"/><use href="#b0l" x="418.01" y="125.4"/><use href="#b0l" x="420.9" y="127.32"/><use href="#b0l" x="423.79" y="129.24"/><use href="#b0l" x="426.68" y="131.16"/><use href="#b0l" x="429.57" y="133.08"/><use href="#b0l" x="432.46" y="135"/><use href="#b0l" x="435.35" y="136.93"/><use href="#b0l" x="438.23" y="138.85"/><use href="#b0l" x="441.12" y="140.77"/><use href="#b0l" x="444.01" y="142.69"/><use href="#b0l" x="446.9" y="144.61"/><use href="#b0l" x="449.79" y="146.53"/><use href="#b0l" x="452.68" y="148.45"/><use href="#b0l" x="455.57" y="150.37"/><use href="#b0l" x="458.46" y="152.29"/><use href="#b0l" x="461.35" y="154.21"/><use href="#b0l" x="464.24" y="156.13"/><use href="#b0l" x="467.12" y="158.06"/><use href="#b0l" x="470.01" y="159.98"/><use href="#b0l" x="472.9" y="161.9"/></g>
<g fill="#30400f"><use href="#b0r" x="389.12" y="106.19"/><use href="#b0r" x="392.01" y="108.11"/><use href="#b0r" x="394.9" y="110.03"/><use href="#b0r" x="397.79" y="111.95"/><use href="#b0r" x="400.68" y="113.87"/><use href="#b0r" x="403.57" y="115.79"/><use href="#b0r" x="406.46" y="117.72"/><use href="#b0r" x="409.34" y="119.64"/><use href="#b0r" x="412.23" y="121.56"/><use href="#b0r" x="415.12" y="123.48"/><use href="#b0r" x="418.01" y="125.4"/><use href="#b0r" x="420.9" y="127.32"/><use href="#b0r" x="423.79" y="129.24"/><use href="#b0r" x="426.68" y="131.16"/><use href="#b0r" x="429.57" y="133.08"/><use href="#b0r" x="432.46" y="135"/><use href="#b0r" x="435.35" y="136.93"/><use href="#b0r" x="438.23" y="138.85"/><use href="#b0r" x="441.12" y="140.77"/><use href="#b0r" x="444.01" y="142.69"/><use href="#b0r" x="446.9" y="144.61"/><use href="#b0r" x="449.79" y="146.53"/><use href="#b0r" x="452.68" y="148.45"/><use href="#b0r" x="455.57" y="150.37"/><use href="#b0r" x="458.46" y="152.29"/><use href="#b0r" x="461.35" y="154.21"/><use href="#b0r" x="464.24" y="156.13"/><use href="#b0r" x="467.12" y="158.06"/><use href="#b0r" x="470.01" y="159.98"/><use href="#b0r" x="472.9" y="161.9"/></g>
<g fill="#c2ff3d" stroke="#c8c8c8" stroke-width="0.33"><use href="#b0t" x="389.12" y="106.19"/><use href="#b0t" x="392.01" y="108.11"/><use href="#b0t" x="394.9" y="110.03"/><use href="#b0t" x="397.79" y="111.95"/><use href="#b0t" x="400.68" y="113.87"/><use href="#b0t" x="403.57" y="115.79"/><use href="#b0t" x="406.46" y="117.72"/><use href="#b0t" x="409.34" y="119.64"/><use href="#b0t" x="412.23" y="121.56"/><use href="#b0t" x="415.12" y="123.48"/><use href="#b0t" x="418.01" y="125.4"/><use href="#b0t" x="420.9" y="127.32"/><use href="#b0t" x="423.79" y="129.24"/><use href="#b0t" x="426.68" y="131.16"/><use href="#b0t" x="429.57" y="133.08"/><use href="#b0t" x="432.46" y="135"/><use href="#b0t" x="435.35" y="136.93"/><use href="#b0t" x="438.23" y="138.85"/><use href="#b0t" x="441.12" y="140.77"/><use href="#b0t" x="444.01" y="142.69"/><use href="#b0t" x="446.9" y="144.61"/><use href="#b0t" x="449.79" y="146.53"/><use href="#b0t" x="452.68" y="148.45"/><use href="#b0t" x="455.57" y="150.37"/><use href="#b0t" x="458.46" y="152.29"/><use href="#b0t" x="461.35" y="154.21"/><use href="#b0t" x="464.24" y="156.13"/><use href="#b0t" x="467.12" y="158.06"/><use href="#b0t" x="470.01" y="159.98"/><use href="#b0t" x="472.9" y="161.9"/></g>
<g fill="#2c4c20"><use href="#b0l" x="385.54" y="107.6"/><use href="#b0l" x="388.43" y="109.52"/><use href="#b0l" x="391.32" y="111.45"/><use href="#b0l" x="394.2" y="113.37"/><use href="#b0l" x="397.09" y="115.29"/><use href="#b0l" x="399.98" y="117.21"/><use href="#b0l" x="402.87" y="119.13"/><use href="#b0l" x="405.76" y="121.05"/><use href="#b0l" x="408.65" y="122.97"/><use href="#b0l" x="411.54" y="124.89"/><use href="#b0l" x="414.43" y="126.81"/><use href="#b0l" x="417.32" y="128.73"/><use href="#b0l" x="420.21" y="130.66"/><use href="#b0l" x="423.09" y="132.58"/><use href="#b0l" x="425.98" y="134.5"/><use href="#b0l" x="428.87" y="136.42"/><use href="#b0l" x="431.76" y="138.34"/><use href="#b0l" x="434.65" y="140.26"/><use href="#b0l" x="437.54" y="142.18"/><use href="#b0l" x="440.43" y="144.1"/><use href="#b0l" x="443.32" y="146.02"/><use href="#b0l" x="446.21" y="147.94"/><use href="#b0l" x="449.1" y="149.87"/><use href="#b0l" x="451.98" y="151.79"/><use href="#b0l" x="454.87" y="153.71"/><use href="#b0l" x="457.76" y="155.63"/><use href="#b0l" x="460.65" y="157.55"/><use href="#b0l" x="463.54" y="159.47"/><use href="#b0l" x="466.43" y="161.39"/><use href="#b0l" x="469.32" y="163.31"/></g>
<g fill="#25401b"><use href="#b0r" x="385.54" y="107.6"/><use href="#b0r" x="388.43" y="109.52"/><use href="#b0r" x="391.32" y="111.45"/><use href="#b0r" x="394.2" y="113.37"/><use href="#b0r" x="397.09" y="115.29"/><use href="#b0r" x="399.98" y="117.21"/><use href="#b0r" x="402.87" y="119.13"/><use href="#b0r" x="405.76" y="121.05"/><use href="#b0r" x="408.65" y="122.97"/><use href="#b0r" x="411.54" y="124.89"/><use href="#b0r" x="414.43" y="126.81"/><use href="#b0r" x="417.32" y="128.73"/><use href="#b0r" x="420.21" y="130.66"/><use href="#b0r" x="423.09" y="132.58"/><use href="#b0r" x="425.98" y="134.5"/><use href="#b0r" x="428.87" y="136.42"/><use href="#b0r" x="431.76" y="138.34"/><use href="#b0r" x="434.65" y="140.26"/><use href="#b0r" x="437.54" y="142.18"/><use href="#b0r" x="440.43" y="144.1"/><use href="#b0r" x="443.32" y="146.02"/><use href="#b0r" x="446.21" y="147.94"/><use href="#b0r" x="449.1" y="149.87"/><use href="#b0r" x="451.98" y="151.79"/><use href="#b0r" x="454.87" y="153.71"/><use href="#b0r" x="457.76" y="155.63"/><use href="#b0r" x="460.65" y="157.55"/><use href="#b0r" x="463.54" y="159.47"/><use href="#b0r" x="466.43" y="161.39"/><use href="#b0r" x="469.32" y="163.31"/></g>
<g fill="#94ff6b" stroke="#c8c8c8" stroke-width="0.33"><use href="#b0t" x="385.54" y="107.6"/><use href="#b0t" x="388.43" y="109.52"/><use href="#b0t" x="391.32" y="111.45"/><use href="#b0t" x="394.2" y="113.37"/><use href="#b0t" x="397.09" y="115.29"/><use href="#b0t" x="399.98" y="117.21"/><use href="#b0t" x="402.87" y="119.13"/><use href="#b0t" x="405.76" y="121.05"/><use href="#b0t" x="408.65" y="122.97"/><use href="#b0t" x="411.54" y="124.89"/><use href="#b0t" x="414.43" y="126.81"/><use href="#b0t" x="417.32" y="128.73"/><use href="#b0t" x="420.21" y="130.66"/><use href="#b0t" x="423.09" y="132.58"/><use href="#b0t" x="425.98" y="134.5"/><use href="#b0t" x="428.87" y="136.42"/><use href="#b0t" x="431.76" y="138.34"/><use href="#b0t" x="434.65" y="140.26"/><use href="#b0t" x="437.54" y="142.18"/><use href="#b0t" x="440.43" y="144.1"/><use href="#b0t" x="443.32" y="146.02"/><use href="#b0t" x="446.21" y="147.94"/><use href="#b0t" x="449.1" y="149.87"/><use href="#b0t" x="451.98" y="151.79"/><use href="#b0t" x="454.87" y="153.71"/><use href="#b0t" x="457.76" y="155.63"/><use href="#b0t" x="460.65" y="157.55"/><use href="#b0t" x="463.54" y="159.47"/><use href="#b0t" x="466.43" y="161.39"/><use href="#b0t" x="469.32" y="163.31"/></g>
<g fill="#214c2b"><use href="#b0l" x="381.95" y="109.02"/><use href="#b0l" x="384.84" y="110.94"/><use href="#b0l" x="387.73" y="112.86"/><use href="#b0l" x="390.62" y="114.78"/><use href="#b0l" x="393.51" y="116.7"/><use href="#b0l" x="396.4" y="118.62"/><use href="#b0l" x="399.29" y="120.54"/><use href="#b0l" x="402.18" y="122.46"/><use href="#b0l" x="405.07" y="124.38"/><use href="#b0l" x="407.95" y="126.31"/><use href="#b0l" x="410.84" y="128.23"/><use href="#b0l" x="413.73" y="130.15"/><use href="#b0l" x="416.62" y="132.07"/><use href="#b0l" x="419.51" y="133.99"/><use href="#b0l" x="422.4" y="135.91"/><use href="#b0l" x="425.29" y="137.83"/><use href="#b0l" x="428.18" y="139.75"/><use href="#b0l" x="431.07" y="141.67"/><use href="#b0l" x="433.96" y="143.59"/><use href="#b0l" x="436.84" y="145.52"/><use href="#b0l" x="439.73" y="147.44"/><use href="#b0l" x="442.62" y="149.36"/><use href="#b0l" x="445.51" y="151.28"/><use href="#b0l" x="448.4" y="153.2"/><use href="#b0l" x="451.29" y="155.12"/><use href="#b0l" x="454.18" y="157.04"/><use href="#b0l" x="457.07" y="158.96"/><use href="#b0l" x="459.96" y="160.88"/><use href="#b0l" x="462.85" y="162.81"/><use href="#b0l" x="465.73" y="164.73"/></g>
<g fill="#1c4024"><use href="#b0r" x="381.95" y="109.02"/><use href="#b0r" x="384.84" y="110.94"/><use href="#b0r" x="387.73" y="112.86"/><use href="#b0r" x="390.62" y="114.78"/><use href="#b0r" x="393.51" y="116.7"/><use href="#b0r" x="396.4" y="118.62"/><use href="#b0r" x="399.29" y="120.54"/><use href="#b0r" x="402.18" y="122.46"/><use href="#b0r" x="405.07" y="124.38"/><use href="#b0r" x="407.95" y="126.31"/><use href="#b0r" x="410.84" y="128.23"/><use href="#b0r" x="413.73" y="130.15"/><use href="#b0r" x="416.62" y="132.07"/><use href="#b0r" x="419.51" y="133.99"/><use href="#b0r" x="422.4" y="135.91"/><use href="#b0r" x="425.29" y="137.83"/><use href="#b0r" x="428.18" y="139.75"/><use href="#b0r" x="431.07" y="141.67"/><use href="#b0r" x="433.96" y="143.59"/><use href="#b0r" x="436.84" y="145.52"/><use href="#b0r" x="439.73" y="147.44"/><use href="#b0r" x="442.62" y="149.36"/><use href="#b0r" x="445.51" y="151.28"/><use href="#b0r" x="448.4" y="153.2"/><use href="#b0r" x="451.29" y="155.12"/><use href="#b0r" x="454.18" y="157.04"/><use href="#b0r" x="457.07" y="158.96"/><use href="#b0r" x="459.96" y="160.88"/><use href="#b0r" x="462.85" y="162.81"/><use href="#b0r" x="465.73" y="164.73"/></g>
<g fill="#6eff90" stroke="#c8c8c8" stroke-width="0.33"><use href="#b0t" x="381.95" y="109.02"/><use href="#b0t" x="384.84" y="110.94"/><use href="#b0t" x="387.73" y="112.86"/><use href="#b0t" x="390.62" y="114.78"/><use href="#b0t" x="393.51" y="116.7"/><use href="#b0t" x="396.4" y="118.62"/><use href="#b0t" x="399.29" y="120.54"/><use href="#b0t" x="402.18" y="122.46"/><use href="#b0t" x="405.07" y="124.38"/><use href="#b0t" x="407.95" y="126.31"/><use href="#b0t" x="410.84" y="128.23"/><use href="#b0t" x="413.73" y="130.15"/><use href="#b0t" x="416.62" y="132.07"/><use href="#b0t" x="419.51" y="133.99"/><use href="#b0t" x="422.4" y="135.91"/><use href="#b0t" x="425.29" y="137.83"/><use href="#b0t" x="428.18" y="139.75"/><use href="#b0t" x="431.07" y="141.67"/><use href="#b0t" x="433.96" y="143.59"/><use href="#b0t" x="436.84" y="145.52"/><use href="#b0t" x="439.73" y="147.44"/><use href="#b0t" x="442.62" y="149.36"/><use href="#b0t" x="445.51" y="151.28"/><use href="#b0t" x="448.4" y="153.2"/><use href="#b0t" x="451.29" y="155.12"/><use href="#b0t" x="454.18" y="157.04"/><use href="#b0t" x="457.07" y="158.96"/><use href="#b0t" x="459.96" y="160.88"/><use href="#b0t" x="462.85" y="162.81"/><use href="#b0t" x="465.73" y="164.73"/></g>
<g fill="#164c37"><use href="#b0l" x="378.37" y="110.43"/><use href="#b0l" x="381.26" y="112.35"/><use href="#b0l" x="384.15" y="114.27"/><use href="#b0l" x="387.04" y="116.19"/><use href="#b0l" x="389.93" y="118.11"/><use href="#b0l" x="392.81" y="120.04"/><use href="#b0l" x="395.7" y="121.96"/><use href="#b0l" x="398.59" y="123.88"/><use href="#b0l" x="401.48" y="125.8"/><use href="#b0l" x="404.37" y="127.72"/><use href="#b0l" x="407.26" y="129.64"/><use href="#b0l" x="410.15" y="131.56"/><use href="#b0l" x="413.04" y="133.48"/><use href="#b0l" x="415.93" y="135.4"/><use href="#b0l" x="418.81" y="137.32"/><use href="#b0l" x="421.7" y="139.25"/><use href="#b0l" x="424.59" y="141.17"/><use href="#b0l" x="427.48" y="143.09"/><use href="#b0l" x="430.37" y="145.01"/><use href="#b0l" x="433.26" y="146.93"/><use href="#b0l" x="436.15" y="148.85"/><use href="#b0l" x="439.04" y="150.77"/><use href="#b0l" x="441.93" y="152.69"/><use href="#b0l" x="444.82" y="154.61"/><use href="#b0l" x="447.7" y="156.54"/><use href="#b0l" x="450.59" y="158.46"/><use href="#b0l" x="453.48" y="160.38"/><use href="#b0l" x="456.37" y="162.3"/><use href="#b0l" x="459.26" y="164.22"/><use href="#b0l" x="462.15" y="166.14"/></g>
<g fill="#12402d"><use href="#b0r" x="378.37" y="110.43"/><use href="#b0r" x="381.26" y="112.35"/><use href="#b0r" x="384.15" y="114.27"/><use href="#b0r" x="387.04" y="116.19"/><use href="#b0r" x="389.93" y="118.11"/><use href="#b0r" x="392.81" y="120.04"/><use href="#b0r" x="395.7" y="121.96"/><use href="#b0r" x="398.59" y="123.88"/><use href="#b0r" x="401.48" y="125.8"/><use href="#b0r" x="404.37" y="127.72"/><use href="#b0r" x="407.26" y="129.64"/><use href="#b0r" x="410.15" y="131.56"/><use href="#b0r" x="413.04" y="133.48"/><use href="#b0r" x="415.93" y="135.4"/><use href="#b0r" x="418.81" y="137.32"/><use href="#b0r" x="421.7" y="139.25"/><use href="#b0r" x="424.59" y="141.17"/><use href="#b0r" x="427.48" y="143.09"/><use href="#b0r" x="430.37" y="145.01"/><use href="#b0r" x="433.26" y="146.93"/><use href="#b0r" x="436.15" y="148.85"/><use href="#b0r" x="439.04" y="150.77"/><use href="#b0r" x="441.93" y="152.69"/><use href="#b0r" x="444.82" y="154.61"/><use href="#b0r" x="447.7" y="156.54"/><use href="#b0r" x="450.59" y="158.46"/><use href="#b0r" x="453.48" y="160.38"/><use href="#b0r" x="456.37" y="162.3"/><use href="#b0r" x="459.26" y="164.22"/><use href="#b0r" x="462.15" y="166.14"/></g>
<g fill="#49ffb6" stroke="#c8c8c8" stroke-width="0.33"><use href="#b0t" x="378.37" y="110.43"/><use href="#b0t" x="381.26" y="112.35"/><use href="#b0t" x="384.15" y="114.27"/><use href="#b0t" x="387.04" y="116.19"/><use href="#b0t" x="389.93" y="118.11"/><use href="#b0t" x="392.81" y="120.04"/><use href="#b0t" x="395.7" y="121.96"/><use href="#b0t" x="398.59" y="123.88"/><use href="#b0t" x="401.48" y="125.8"/><use href="#b0t" x="404.37" y="127.72"/><use href="#b0t" x="407.26" y="129.64"/><use href="#b0t" x="410.15" y="131.56"/><use href="#b0t" x="413.04" y="133.48"/><use href="#b0t" x="415.93" y="135.4"/><use href="#b0t" x="418.81" y="137.32"/><use href="#b0t" x="421.7" y="139.25"/><use href="#b0t" x="424.59" y="141.17"/><use href="#b0t" x="427.48" y="143.09"/><use href="#b0t" x="430.37" y="145.01"/><use href="#b0t" x="433.26" y="146.93"/><use href="#b0t" x="436.15" y="148.85"/><use href="#b0t" x="439.04" y="150.77"/><use href="#b0t" x="441.93" y="152.69"/><use href="#b0t" x="444.82" y="154.61"/><use href="#b0t" x="447.7" y="156.54"/><use href="#b0t" x="450.59" y="158.46"/><use href="#b0t" x="453.48" y="160.38"/><use href="#b0t" x="456.37" y="162.3"/><use href="#b0t" x="459.26" y="164.22"/><use href="#b0t" x="462.15" y="166.14"/></g>
<g fill="#0b4c42"><use href="#b0l" x="374.79" y="111.84"/><use href="#b0l" x="377.67" y="113.77"/><use href="#b0l" x="380.56" y="115.69"/><use href="#b0l" x="383.45" y="117.61"/><use href="#b0l" x="386.34" y="119.53"/><use href="#b0l" x="389.23" y="121.45"/><use href="#b0l" x="392.12" y="123.37"/><use href="#b0l" x="395.01" y="125.29"/><use href="#b0l" x="397.9" y="127.21"/><use href="#b0l" x="400.79" y="129.13"/><use href="#b0l" x="403.68" y="131.06"/><use href="#b0l" x="406.56" y="132.98"/><use href="#b0l" x="409.45" y="134.9"/><use href="#b0l" x="412.34" y="136.82"/><use href="#b0l" x="415.23" y="138.74"/><use href="#b0l" x="418.12" y="140.66"/><use href="#b0l" x="421.01" y="142.58"/><use href="#b0l" x="423.9" y="144.5"/><use href="#b0l" x="426.79" y="146.42"/><use href="#b0l" x="429.68" y="148.34"/><use href="#b0l" x="432.56" y="150.26"/><use href="#b0l" x="435.45" y="152.19"/><use href="#b0l" x="438.34" y="154.11"/><use href="#b0l" x="441.23" y="156.03"/><use href="#b0l" x="444.12" y="157.95"/><use href="#b0l" x="447.01" y="159.87"/><use href="#b0l" x="449.9" y="161.79"/><use href="#b0l" x="452.79" y="163.71"/><use href="#b0l" x="455.68" y="165.63"/><use href="#b0l" x="458.57" y="167.55"/></g>
<g fill="#094037"><use href="#b0r" x="374.79" y="111.84"/><use href="#b0r" x="377.67" y="113.77"/><use href="#b0r" x="380.56" y="115.69"/><use href="#b0r" x="383.45" y="117.61"/><use href="#b0r" x="386.34" y="119.53"/><use href="#b0r" x="389.23" y="121.45"/><use href="#b0r" x="392.12" y="123.37"/><use href="#b0r" x="395.01" y="125.29"/><use href="#b0r" x="397.9" y="127.21"/><use href="#b0r" x="400.79" y="129.13"/><use href="#b0r" x="403.68" y="131.06"/><use href="#b0r" x="406.56" y="132.98"/><use href="#b0r" x="409.45" y="134.9"/><use href="#b0r" x="412.34" y="136.82"/><use href="#b0r" x="415.23" y="138.74"/><use href="#b0r" x="418.12" y="140.66"/><use href="#b0r" x="421.01" y="142.58"/><use href="#b0r" x="423.9" y="144.5"/><use href="#b0r" x="426.79" y="146.42"/><use href="#b0r" x="429.68" y="148.34"/><use href="#b0r" x="432.56" y="150.26"/><use href="#b0r" x="435.45" y="152.19"/><use href="#b0r" x="438.34" y="154.11"/><use href="#b0r" x="441.23" y="156.03"/><use href="#b0r" x="444.12" y="157.95"/><use href="#b0r" x="447.01" y="159.87"/><use href="#b0r" x="449.9" y="161.79"/><use href="#b0r" x="452.79" y="163.71"/><use href="#b0r" x="455.68" y="165.63"/><use href="#b0r" x="458.57" y="167.55"/></g>
<g fill="#24ffdb" stroke="#c8c8c8" stroke-width="0.33"><use href="#b0t" x="374.79" y="111.84"/><use href="#b0t" x="377.67" y="113.77"/><use href="#b0t" x="380.56" y="115.69"/><use href="#b0t" x="383.45" y="117.61"/><use href="#b0t" x="386.34" y="119.53"/><use href="#b0t" x="389.23" y="121.45"/><use href="#b0t" x="392.12" y="123.37"/><use href="#b0t" x="395.01" y="125.29"/><use href="#b0t" x="397.9" y="127.21"/><use href="#b0t" x="400.79" y="129.13"/><use href="#b0t" x="403.68" y="131.06"/><use href="#b0t" x="406.56" y="132.98"/><use href="#b0t" x="409.45" y="134.9"/><use href="#b0t" x="412.34" y="136.82"/><use href="#b0t" x="415.23" y="138.74"/><use href="#b0t" x="418.12" y="140.66"/><use href="#b0t" x="421.01" y="142.58"/><use href="#b0t" x="423.9" y="144.5"/><use href="#b0t" x="426.79" y="146.42"/><use href="#b0t" x="429.68" y="148.34"/><use href="#b0t" x="432.56" y="150.26"/><use href="#b0t" x="435.45" y="152.19"/><use href="#b0t" x="438.34" y="154.11"/><use href="#b0t" x="441.23" y="156.03"/><use href="#b0t" x="444.12" y="157.95"/><use href="#b0t" x="447.01" y="159.87"/><use href="#b0t" x="449.9" y="161.79"/><use href="#b0t" x="452.79" y="163.71"/><use href="#b0t" x="455.68" y="165.63"/><use href="#b0t" x="458.57" y="167.55"/></g>
<g fill="#024c4b"><use href="#b0l" x="371.2" y="113.26"/><use href="#b0l" x="374.09" y="115.18"/><use href="#b0l" x="376.98" y="117.1"/><use href="#b0l" x="379.87" y="119.02"/><use href="#b0l" x="382.76" y="120.94"/><use href="#b0l" x="385.65" y="122.86"/><use href="#b0l" x="388.54" y="124.79"/><use href="#b0l" x="391.42" y="126.71"/><use href="#b0l" x="394.31" y="128.63"/><use href="#b0l" x="397.2" y="130.55"/><use href="#b0l" x="400.09" y="132.47"/><use href="#b0l" x="402.98" y="134.39"/><use href="#b0l" x="405.87" y="136.31"/><use href="#b0l" x="408.76" y="138.23"/><use href="#b0l" x="411.65" y="140.15"/><use href="#b0l" x="414.54" y="142.07"/><use href="#b0l" x="417.43" y="144"/><use href="#b0l" x="420.31" y="145.92"/><use href="#b0l" x="423.2" y="147.84"/><use href="#b0l" x="426.09" y="149.76"/><use href="#b0l" x="428.98" y="151.68"/><use href="#b0l" x="431.87" y="153.6"/><use href="#b0l" x="434.76" y="155.52"/><use href="#b0l" x="437.65" y="157.44"/><use href="#b0l" x="440.54" y="159.36"/><use href="#b0l" x="443.43" y="161.28"/><use href="#b0l" x="446.31" y="163.2"/><use href="#b0l" x="449.2" y="165.13"/><use href="#b0l" x="452.09" y="167.05"/><use href="#b0l" x="454.98" y="168.97"/></g>
<g fill="#01403e"><use href="#b0r" x="371.2" y="113.26"/><use href="#b0r" x="374.09" y="115.18"/><use href="#b0r" x="376.98" y="117.1"/><use href="#b0r" x="379.87" y="119.02"/><use href="#b0r" x="382.76" y="120.94"/><use href="#b0r" x="385.65" y="122.86"/><use href="#b0r" x="388.54" y="124.79"/><use href="#b0r" x="391.42" y="126.71"/><use href="#b0r" x="394.31" y="128.63"/><use href="#b0r" x="397.2" y="130.55"/><use href="#b0r" x="400.09" y="132.47"/><use href="#b0r" x="402.98" y="134.39"/><use href="#b0r" x="405.87" y="136.31"/><use href="#b0r" x="408.76" y="138.23"/><use href="#b0r" x="411.65" y="140.15"/><use href="#b0r" x="414.54" y="142.07"/><use href="#b0r" x="417.43" y="144"/><use href="#b0r" x="420.31" y="145.92"/><use href="#b0r" x="423.2" y="147.84"/><use href="#b0r" x="426.09" y="149.76"/><use href="#b0r" x="428.98" y="151.68"/><use href="#b0r" x="431.87" y="153.6"/><use href="#b0r" x="434.76" y="155.52"/><use href="#b0r" x="437.65" y="157.44"/><use href="#b0r" x="440.54" y="159.36"/><use href="#b0r" x="443.43" y="161.28"/><use href="#b0r" x="446.31" y="163.2"/><use href="#b0r" x="449.2" y="165.13"/><use href="#b0r" x="452.09" y="167.05"/><use href="#b0r" x="454.98" y="168.97"/></g>
<g fill="#05fffa" stroke="#c8c8c8" stroke-width="0.33"><use href="#b0t" x="371.2" y="113.26"/><use href="#b0t" x="374.09" y="115.18"/><use href="#b0t" x="376.98" y="117.1"/><use href="#b0t" x="379.87" y="119.02"/><use href="#b0t" x="382.76" y="120.94"/><use href="#b0t" x="385.65" y="122.86"/><use href="#b0t" x="388.54" y="124.79"/><use href="#b0t" x="391.42" y="126.71"/><use href="#b0t" x="394.31" y="128.63"/><use href="#b0t" x="397.2" y="130.55"/><use href="#b0t" x="400.09" y="132.47"/><use href="#b0t" x="402.98" y="134.39"/><use href="#b0t" x="405.87" y="136.31"/><use href="#b0t" x="408.76" y="138.23"/><use href="#b0t" x="411.65" y="140.15"/><use href="#b0t" x="414.54" y="142.07"/><use href="#b0t" x="417.43" y="144"/><use href="#b0t" x="420.31" y="145.92"/><use href="#b0t" x="423.2" y="147.84"/><use href="#b0t" x="426.09" y="149.76"/><use href="#b0t" x="428.98" y="151.68"/><use href="#b0t" x="431.87" y="153.6"/><use href="#b0t" x="434.76" y="155.52"/><use href="#b0t" x="437.65" y="157.44"/><use href="#b0t" x="440.54" y="159.36"/><use href="#b0t" x="443.43" y="161.28"/><use href="#b0t" x="446.31" y="163.2"/><use href="#b0t" x="449.2" y="165.13"/><use href="#b0t" x="452.09" y="167.05"/><use href="#b0t" x="454.98" y="168.97"/></g>
<g fill="#00454c"><use href="#b0l" x="367.62" y="114.67"/><use href="#b0l" x="370.51" y="116.59"/><use href="#b0l" x="373.4" y="118.52"/><use href="#b0l" x="376.28" y="120.44"/><use href="#b0l" x="379.17" y="122.36"/><use href="#b0l" x="382.06" y="124.28"/><use href="#b0l" x="384.95" y="126.2"/><use href="#b0l" x="387.84" y="128.12"/><use href="#b0l" x="390.73" y="130.04"/><use href="#b0l" x="393.62" y="131.96"/><use href="#b0l" x="396.51" y="133.88"/><use href="#b0l" x="399.4" y="135.8"/><use href="#b0l" x="402.29" y="137.72"/><use href="#b0l" x="405.17" y="139.65"/><use href="#b0l" x="408.06" y="141.57"/><use href="#b0l" x="410.95" y="143.49"/><use href="#b0l" x="413.84" y="145.41"/><use href="#b0l" x="416.73" y="147.33"/><use href="#b0l" x="419.62" y="149.25"/><use href="#b0l" x="422.51" y="151.17"/><use href="#b0l" x="425.4" y="153.09"/><use href="#b0l" x="428.29" y="155.01"/><use href="#b0l" x="431.18" y="156.94"/><use href="#b0l" x="434.06" y="158.86"/><use href="#b0l" x="436.95" y="160.78"/><use href="#b0l" x="439.84" y="162.7"/><use href="#b0l" x="442.73" y="164.62"/><use href="#b0l" x="445.62" y="166.54"/><use href="#b0l" x="448.51" y="168.46"/><use href="#b0l" x="451.4" y="170.38"/></g>
<g fill="#003940"><use href="#b0r" x="367.62" y="114.67"/><use href="#b0r" x="370.51" y="116.59"/><use href="#b0r" x="373.4" y="118.52"/><use href="#b0r" x="376.28" y="120.44"/><use href="#b0r" x="379.17" y="122.36"/><use href="#b0r" x="382.06" y="124.28"/><use href="#b0r" x="384.95" y="126.2"/><use href="#b0r" x="387.84" y="128.12"/><use href="#b0r" x="390.73" y="130.04"/><use href="#b0r" x="393.62" y="131.96"/><use href="#b0r" x="396.51" y="133.88"/><use href="#b0r" x="399.4" y="135.8"/><use href="#b0r" x="402.29" y="137.72"/><use href="#b0r" x="405.17" y="139.65"/><use href="#b0r" x="408.06" y="141.57"/><use href="#b0r" x="410.95" y="143.49"/><use href="#b0r" x="413.84" y="145.41"/><use href="#b0r" x="416.73" y="147.33"/><use href="#b0r" x="419.62" y="149.25"/><use href="#b0r" x="422.51" y="151.17"/><use href="#b0r" x="425.4" y="153.09"/><use href="#b0r" x="428.29" y="155.01"/><use href="#b0r" x="431.18" y="156.94"/><use href="#b0r" x="434.06" y="158.86"/><use href="#b0r" x="436.95" y="160.78"/><use href="#b0r" x="439.84" y="162.7"/><use href="#b0r" x="442.73" y="164.62"/><use href="#b0r" x="445.62" y="166.54"/><use href="#b0r" x="448.51" y="168.46"/><use href="#b0r" x="451.4" y="170.38"/></g>
<g fill="#00e5ff" stroke="#c8c8c8" stroke-width="0.33"><use href="#b0t" x="367.62" y="114.67"/><use href="#b0t" x="370.51" y="116.59"/><use href="#b0t" x="373.4" y="118.52"/><use href="#b0t" x="376.28" y="120.44"/><use href="#b0t" x="379.17" y="122.36"/><use href="#b0t" x="382.06" y="124.28"/><use href="#b0t" x="384.95" y="126.2"/><use href="#b0t" x="387.84" y="128.12"/><use href="#b0t" x="390.73" y="130.04"/><use href="#b0t" x="393.62" y="131.96"/><use href="#b0t" x="396.51" y="133.88"/><use href="#b0t" x="399.4" y="135.8"/><use href="#b0t" x="402.29" y="137.72"/><use href="#b0t" x="405.17" y="139.65"/><use href="#b0t" x="408.06" y="141.57"/><use href="#b0t" x="410.95" y="143.49"/><use href="#b0t" x="413.84" y="145.41"/><use href="#b0t" x="416.73" y="147.33"/><use href="#b0t" x="419.62" y="149.25"/><use href="#b0t" x="422.51" y="151.17"/><use href="#b0t" x="425.4" y="153.09"/><use href="#b0t" x="428.29" y="155.01"/><use href="#b0t" x="431.18" y="156.94"/><use href="#b0t" x="434.06" y="158.86"/><use href="#b0t" x="436.95" y="160.78"/><use href="#b0t" x="439.84" y="162.7"/><use href="#b0t" x="442.73" y="164.62"/><use href="#b0t" x="445.62" y="166.54"/><use href="#b0t" x="448.51" y="168.46"/><use href="#b0t" x="451.4" y="170.38"/></g>
<g fill="#003c4c"><use href="#b0l" x="364.03" y="116.09"/><use href="#b0l" x="366.92" y="118.01"/><use href="#b0l" x="369.81" y="119.93"/><use href="#b0l" x="372.7" y="121.85"/><use href="#b0l" x="375.59" y="123.77"/><use href="#b0l" x="378.48" y="125.69"/><use href="#b0l" x="381.37" y="127.61"/><use href="#b0l" x="384.26" y="129.53"/><use href="#b0l" x="387.15" y="131.45"/><use href="#b0l" x="390.03" y="133.38"/><use href="#b0l" x="392.92" y="135.3"/><use href="#b0l" x="395.81" y="137.22"/><use href="#b0l" x="398.7" y="139.14"/><use href="#b0l" x="401.59" y="141.06"/><use href="#b0l" x="404.48" y="142.98"/><use href="#b0l" x="407.37" y="144.9"/><use href="#b0l" x="410.26" y="146.82"/><use href="#b0l" x="413.15" y="148.74"/><use href="#b0l" x="416.04" y="150.66"/><use href="#b0l" x="418.92" y="152.59"/><use href="#b0l" x="421.81" y="154.51"/><use href="#b0l" x="424.7" y="156.43"/><use href="#b0l" x="427.59" y="158.35"/><use href="#b0l" x="430.48" y="160.27"/><use href="#b0l" x="433.37" y="162.19"/><use href="#b0l" x="436.26" y="164.11"/><use href="#b0l" x="439.15" y="166.03"/><use href="#b0l" x="442.04" y="167.95"/><use href="#b0l" x="444.93" y="169.88"/><use href="#b0l" x="447.81" y="171.8"/></g>
<g fill="#003240"><use href="#b0r" x="364.03" y="116.09"/><use href="#b0r" x="366.92" y="118.01"/><use href="#b0r" x="369.81" y="119.93"/><use href="#b0r" x="372.7" y="121.85"/><use href="#b0r" x="375.59" y="123.77"/><use href="#b0r" x="378.48" y="125.69"/><use href="#b0r" x="381.37" y="127.61"/><use href="#b0r" x="384.26" y="129.53"/><use href="#b0r" x="387.15" y="131.45"/><use href="#b0r" x="390.03" y="133.38"/><use href="#b0r" x="392.92" y="135.3"/><use href="#b0r" x="395.81" y="137.22"/><use href="#b0r" x="398.7" y="139.14"/><use href="#b0r" x="401.59" y="141.06"/><use href="#b0r" x="404.48" y="142.98"/><use href="#b0r" x="407.37" y="144.9"/><use href="#b0r" x="410.26" y="146.82"/><use href="#b0r" x="413.15" y="148.74"/><use href="#b0r" x="416.04" y="150.66"/><use href="#b0r" x="418.92" y="152.59"/><use href="#b0r" x="421.81" y="154.51"/><use href="#b0r" x="424.7" y="156.43"/><use href="#b0r" x="427.59" y="158.35"/><use href="#b0r" x="430.48" y="160.27"/><use href="#b0r" x="433.37" y="162.19"/><use href="#b0r" x="436.26" y="164.11"/><use href="#b0r" x="439.15" y="166.03"/><use href="#b0r" x="442.04" y="167.95"/><use href="#b0r" x="444.93" y="169.88"/><use href="#b0r" x="447.81" y="171.8"/></g>
<g fill="#00c7ff" stroke="#c8c8c8" stroke-width="0.33"><use href="#b0t" x="364.03" y="116.09"/><use href="#b0t" x="366.92" y="118.01"/><use href="#b0t" x="369.81" y="119.93"/><use href="#b0t" x="372.7" y="121.85"/><use href="#b0t" x="375.59" y="123.77"/><use href="#b0t" x="378.48" y="125.69"/><use href="#b0t" x="381.37" y="127.61"/><use href="#b0t" x="384.26" y="129.53"/><use href="#b0t" x="387.15" y="131.45"/><use href="#b0t" x="390.03" y="133.38"/><use href="#b0t" x="392.92" y="135.3"/><use href="#b0t" x="395.81" y="137.22"/><use href="#b0t" x="398.7" y="139.14"/><use href="#b0t" x="401.59" y="141.06"/><use href="#b0t" x="404.48" y="142.98"/><use href="#b0t" x="407.37" y="144.9"/><use href="#b0t" x="410.26" y="146.82"/><use href="#b0t" x="413.15" y="148.74"/><use href="#b0t" x="416.04" y="150.66"/><use href="#b0t" x="418.92" y="152.59"/><use href="#b0t" x="421.81" y="154.51"/><use href="#b0t" x="424.7" y="156.43"/><use href="#b0t" x="427.59" y="158.35"/><use href="#b0t" x="430.48" y="160.27"/><use href="#b0t" x="433.37" y="162.19"/><use href="#b0t" x="436.26" y="164.11"/><use href="#b0t" x="439.15" y="166.03"/><use href="#b0t" x="442.04" y="167.95"/><use href="#b0t" x="444.93" y="169.88"/><use href="#b0t" x="447.81" y="171.8"/></g>
<g fill="#00344c"><use href="#b0l" x="360.45" y="117.5"/><use href="#b0l" x="363.34" y="119.42"/><use href="#b0l" x="366.23" y="121.34"/><use href="#b0l" x="369.12" y="123.26"/><use href="#b0l" x="372" y="125.19"/><use href="#b0l" x="374.89" y="127.11"/><use href="#b0l" x="377.78" y="129.03"/><use href="#b0l" x="380.67" y="130.95"/><use href="#b0l" x="383.56" y="132.87"/><use href="#b0l" x="386.45" y="134.79"/><use href="#b0l" x="389.34" y="136.71"/><use href="#b0l" x="392.23" y="138.63"/><use href="#b0l" x="395.12" y="140.55"/><use href="#b0l" x="398.01" y="142.47"/><use href="#b0l" x="400.89" y="144.4"/><use href="#b0l" x="403.78" y="146.32"/><use href="#b0l" x="406.67" y="148.24"/><use href="#b0l" x="409.56" y="150.16"/><use href="#b0l" x="412.45" y="152.08"/><use href="#b0l" x="415.34" y="154"/><use href="#b0l" x="418.23" y="155.92"/><use href="#b0l" x="421.12" y="157.84"/><use href="#b0l" x="424.01" y="159.76"/><use href="#b0l" x="426.9" y="161.68"/><use href="#b0l" x="429.78" y="163.61"/><use href="#b0l" x="432.67" y="165.53"/><use href="#b0l" x="435.56" y="167.45"/><use href="#b0l" x="438.45" y="169.37"/><use href="#b0l" x="441.34" y="171.29"/><use href="#b0l" x="444.23" y="173.21"/></g>
<g fill="#002b40"><use href="#b0r" x="360.45" y="117.5"/><use href="#b0r" x="363.34" y="119.42"/><use href="#b0r" x="366.23" y="121.34"/><use href="#b0r" x="369.12" y="123.26"/><use href="#b0r" x="372" y="125.19"/><use href="#b0r" x="374.89" y="127.11"/><use href="#b0r" x="377.78" y="129.03"/><use href="#b0r" x="380.67" y="130.95"/><use href="#b0r" x="383.56" y="132.87"/><use href="#b0r" x="386.45" y="134.79"/><use href="#b0r" x="389.34" y="136.71"/><use href="#b0r" x="392.23" y="138.63"/><use href="#b0r" x="395.12" y="140.55"/><use href="#b0r" x="398.01" y="142.47"/><use href="#b0r" x="400.89" y="144.4"/><use href="#b0r" x="403.78" y="146.32"/><use href="#b0r" x="406.67" y="148.24"/><use href="#b0r" x="409.56" y="150.16"/><use href="#b0r" x="412.45" y="152.08"/><use href="#b0r" x="415.34" y="154"/><use href="#b0r" x="418.23" y="155.92"/><use href="#b0r" x="421.12" y="157.84"/><use href="#b0r" x="424.01" y="159.76"/><use href="#b0r" x="426.9" y="161.68"/><use href="#b0r" x="429.78" y="163.61"/><use href="#b0r" x="432.67" y="165.53"/><use href="#b0r" x="435.56" y="167.45"/><use href="#b0r" x="438.45" y="169.37"/><use href="#b0r" x="441.34" y="171.29"/><use href="#b0r" x="444.23" y="173.21"/></g>
<g fill="#00acff" stroke="#c8c8c8" stroke-width="0.33"><use href="#b0t" x="360.45" y="117.5"/><use href="#b0t" x="363.34" y="119.42"/><use href="#b0t" x="366.23" y="121.34"/><use href="#b0t" x="369.12" y="123.26"/><use href="#b0t" x="372" y="125.19"/><use href="#b0t" x="374.89" y="127.11"/><use href="#b0t" x="377.78" y="129.03"/><use href="#b0t" x="380.67" y="130.95"/><use href="#b0t" x="383.56" y="132.87"/><use href="#b0t" x="386.45" y="134.79"/><use href="#b0t" x="389.34" y="136.71"/><use href="#b0t" x="392.23" y="138.63"/><use href="#b0t" x="395.12" y="140.55"/><use href="#b0t" x="398.01" y="142.47"/><use href="#b0t" x="400.89" y="144.4"/><use href="#b0t" x="403.78" y="146.32"/><use href="#b0t" x="406.67" y="148.24"/><use href="#b0t" x="409.56" y="150.16"/><use href="#b0t" x="412.45" y="152.08"/><use href="#b0t" x="415.34" y="154"/><use href="#b0t" x="418.23" y="155.92"/><use href="#b0t" x="421.12" y="157.84"/><use href="#b0t" x="424.01" y="159.76"/><use href="#b0t" x="426.9" y="161.68"/><use href="#b0t" x="429.78" y="163.61"/><use href="#b0t" x="432.67" y="165.53"/><use href="#b0t" x="435.56" y="167.45"/><use href="#b0t" x="438.45" y="169.37"/><use href="#b0t" x="441.34" y="171.29"/><use href="#b0t" x="444.23" y="173.21"/></g>
<g fill="#002b4c"><use href="#b0l" x="356.87" y="118.91"/><use href="#b0l" x="359.75" y="120.84"/><use href="#b0l" x="362.64" y="122.76"/><use href="#b0l" x="365.53" y="124.68"/><use href="#b0l" x="368.42" y="126.6"/><use href="#b0l" x="371.31" y="128.52"/><use href="#b0l" x="374.2" y="130.44"/><use href="#b0l" x="377.09" y="132.36"/><use href="#b0l" x="379.98" y="134.28"/><use href="#b0l" x="382.87" y="136.2"/><use href="#b0l" x="385.75" y="138.12"/><use href="#b0l" x="388.64" y="140.05"/><use href="#b0l" x="391.53" y="141.97"/><use href="#b0l" x="394.42" y="143.89"/><use href="#b0l" x="397.31" y="145.81"/><use href="#b0l" x="400.2" y="147.73"/><use href="#b0l" x="403.09" y="149.65"/><use href="#b0l" x="405.98" y="151.57"/><use href="#b0l" x="408.87" y="153.49"/><use href="#b0l" x="411.76" y="155.41"/><use href="#b0l" x="414.64" y="157.33"/><use href="#b0l" x="417.53" y="159.26"/><use href="#b0l" x="420.42" y="161.18"/><use href="#b0l" x="423.31" y="163.1"/><use href="#b0l" x="426.2" y="165.02"/><use href="#b0l" x="429.09" y="166.94"/><use href="#b0l" x="431.98" y="168.86"/><use href="#b0l" x="434.87" y="170.78"/><use href="#b0l" x="437.76" y="172.7"/><use href="#b0l" x="440.65" y="174.62"/></g>
<g fill="#002440"><use href="#b0r" x="356.87" y="118.91"/><use href="#b0r" x="359.75" y="120.84"/><use href="#b0r" x="362.64" y="122.76"/><use href="#b0r" x="365.53" y="124.68"/><use href="#b0r" x="368.42" y="126.6"/><use href="#b0r" x="371.31" y="128.52"/><use href="#b0r" x="374.2" y="130.44"/><use href="#b0r" x="377.09" y="132.36"/><use href="#b0r" x="379.98" y="134.28"/><use href="#b0r" x="382.87" y="136.2"/><use href="#b0r" x="385.75" y="138.12"/><use href="#b0r" x="388.64" y="140.05"/><use href="#b0r" x="391.53" y="141.97"/><use href="#b0r" x="394.42" y="143.89"/><use href="#b0r" x="397.31" y="145.81"/><use href="#b0r" x="400.2" y="147.73"/><use href="#b0r" x="403.09" y="149.65"/><use href="#b0r" x="405.98" y="151.57"/><use href="#b0r" x="408.87" y="153.49"/><use href="#b0r" x="411.76" y="155.41"/><use href="#b0r" x="414.64" y="157.33"/><use href="#b0r" x="417.53" y="159.26"/><use href="#b0r" x="420.42" y="161.18"/><use href="#b0r" x="423.31" y="163.1"/><use href="#b0r" x="426.2" y="165.02"/><use href="#b0r" x="429.09" y="166.94"/><use href="#b0r" x="431.98" y="168.86"/><use href="#b0r" x="434.87" y="170.78"/><use href="#b0r" x="437.76" y="172.7"/><use href="#b0r" x="440.65" y="174.62"/></g>
<g fill="#0090ff" stroke="#c8c8c8" stroke-width="0.33"><use href="#b0t" x="356.87" y="118.91"/><use href="#b0t" x="359.75" y="120.84"/><use href="#b0t" x="362.64" y="122.76"/><use href="#b0t" x="365.53" y="124.68"/><use href="#b0t" x="368.42" y="126.6"/><use href="#b0t" x="371.31" y="128.52"/><use href="#b0t" x="374.2" y="130.44"/><use href="#b0t" x="377.09" y="132.36"/><use href="#b0t" x="379.98" y="134.28"/><use href="#b0t" x="382.87" y="136.2"/><use href="#b0t" x="385.75" y="138.12"/><use href="#b0t" x="388.64" y="140.05"/><use href="#b0t" x="391.53" y="141.97"/><use href="#b0t" x="394.42" y="143.89"/><use href="#b0t" x="397.31" y="145.81"/><use href="#b0t" x="400.2" y="147.73"/><use href="#b0t" x="403.09" y="149.65"/><use href="#b0t" x="405.98" y="151.57"/><use href="#b0t" x="408.87" y="153.49"/><use href="#b0t" x="411.76" y="155.41"/><use href="#b0t" x="414.64" y="157.33"/><use href="#b0t" x="417.53" y="159.26"/><use href="#b0t" x="420.42" y="161.18"/><use href="#b0t" x="423.31" y="163.1"/><use href="#b0t" x="426.2" y="165.02"/><use href="#b0t" x="429.09" y="166.94"/><use href="#b0t" x="431.98" y="168.86"/><use href="#b0t" x="434.87" y="170.78"/><use href="#b0t" x="437.76" y="172.7"/><use href="#b0t" x="440.65" y="174.62"/></g>
<g fill="#00234c"><use href="#b0l" x="353.28" y="120.33"/><use href="#b0l" x="356.17" y="122.25"/><use href="#b0l" x="359.06" y="124.17"/><use href="#b0l" x="361.95" y="126.09"/><use href="#b0l" x="364.84" y="128.01"/><use href="#b0l" x="367.73" y="129.93"/><use href="#b0l" x="370.62" y="131.86"/><use href="#b0l" x="373.5" y="133.78"/><use href="#b0l" x="376.39" y="135.7"/><use href="#b0l" x="379.28" y="137.62"/><use href="#b0l" x="382.17" y="139.54"/><use href="#b0l" x="385.06" y="141.46"/><use href="#b0l" x="387.95" y="143.38"/><use href="#b0l" x="390.84" y="145.3"/><use href="#b0l" x="393.73" y="147.22"/><use href="#b0l" x="396.62" y="149.14"/><use href="#b0l" x="399.5" y="151.07"/><use href="#b0l" x="402.39" y="152.99"/><use href="#b0l" x="405.28" y="154.91"/><use href="#b0l" x="408.17" y="156.83"/><use href="#b0l" x="411.06" y="158.75"/><use href="#b0l" x="413.95" y="160.67"/><use href="#b0l" x="416.84" y="162.59"/><use href="#b0l" x="419.73" y="164.51"/><use href="#b0l" x="422.62" y="166.43"/><use href="#b0l" x="425.51" y="168.35"/><use href="#b0l" x="428.39" y="170.28"/><use href="#b0l" x="431.28" y="172.2"/><use href="#b0l" x="434.17" y="174.12"/><use href="#b0l" x="437.06" y="176.04"/></g>
<g fill="#001d40"><use href="#b0r" x="353.28" y="120.33"/><use href="#b0r" x="356.17" y="122.25"/><use href="#b0r" x="359.06" y="124.17"/><use href="#b0r" x="361.95" y="126.09"/><use href="#b0r" x="364.84" y="128.01"/><use href="#b0r" x="367.73" y="129.93"/><use href="#b0r" x="370.62" y="131.86"/><use href="#b0r" x="373.5" y="133.78"/><use href="#b0r" x="376.39" y="135.7"/><use href="#b0r" x="379.28" y="137.62"/><use href="#b0r" x="382.17" y="139.54"/><use href="#b0r" x="385.06" y="141.46"/><use href="#b0r" x="387.95" y="143.38"/><use href="#b0r" x="390.84" y="145.3"/><use href="#b0r" x="393.73" y="147.22"/><use href="#b0r" x="396.62" y="149.14"/><use href="#b0r" x="399.5" y="151.07"/><use href="#b0r" x="402.39" y="152.99"/><use href="#b0r" x="405.28" y="154.91"/><use href="#b0r" x="408.17" y="156.83"/><use href="#b0r" x="411.06" y="158.75"/><use href="#b0r" x="413.95" y="160.67"/><use href="#b0r" x="416.84" y="162.59"/><use href="#b0r" x="419.73" y="164.51"/><use href="#b0r" x="422.62" y="166.43"/><use href="#b0r" x="425.51" y="168.35"/><use href="#b0r" x="428.39" y="170.28"/><use href="#b0r" x="431.28" y="172.2"/><use href="#b0r" x="434.17" y="174.12"/><use href="#b0r" x="437.06" y="176.04"/></g>
<g fill="#0075ff" stroke="#c8c8c8" stroke-width="0.33"><use href="#b0t" x="353.28" y="120.33"/><use href="#b0t" x="356.17" y="122.25"/><use href="#b0t" x="359.06" y="124.17"/><use href="#b0t" x="361.95" y="126.09"/><use href="#b0t" x="364.84" y="128.01"/><use href="#b0t" x="367.73" y="129.93"/><use href="#b0t" x="370.62" y="131.86"/><use href="#b0t" x="373.5" y="133.78"/><use href="#b0t" x="376.39" y="135.7"/><use href="#b0t" x="379.28" y="137.62"/><use href="#b0t" x="382.17" y="139.54"/><use href="#b0t" x="385.06" y="141.46"/><use href="#b0t" x="387.95" y="143.38"/><use href="#b0t" x="390.84" y="145.3"/><use href="#b0t" x="393.73" y="147.22"/><use href="#b0t" x="396.62" y="149.14"/><use href="#b0t" x="399.5" y="151.07"/><use href="#b0t" x="402.39" y="152.99"/><use href="#b0t" x="405.28" y="154.91"/><use href="#b0t" x="408.17" y="156.83"/><use href="#b0t" x="411.06" y="158.75"/><use href="#b0t" x="413.95" y="160.67"/><use href="#b0t" x="416.84" y="162.59"/><use href="#b0t" x="419.73" y="164.51"/><use href="#b0t" x="422.62" y="166.43"/><use href="#b0t" x="425.51" y="168.35"/><use href="#b0t" x="428.39" y="170.28"/><use href="#b0t" x="431.28" y="172.2"/><use href="#b0t" x="434.17" y="174.12"/><use href="#b0t" x="437.06" y="176.04"/></g>
<g fill="#001a4c"><use href="#b0l" x="349.7" y="121.74"/><use href="#b0l" x="352.59" y="123.66"/><use href="#b0l" x="355.48" y="125.59"/><use href="#b0l" x="358.36" y="127.51"/><use href="#b0l" x="361.25" y="129.43"/><use href="#b0l" x="364.14" y="131.35"/><use href="#b0l" x="367.03" y="133.27"/><use href="#b0l" x="369.92" y="135.19"/><use href="#b0l" x="372.81" y="137.11"/><use href="#b0l" x="375.7" y="139.03"/><use href="#b0l" x="378.59" y="140.95"/><use href="#b0l" x="381.48" y="142.87"/><use href="#b0l" x="384.37" y="144.79"/><use href="#b0l" x="387.25" y="146.72"/><use href="#b0l" x="390.14" y="148.64"/><use href="#b0l" x="393.03" y="150.56"/><use href="#b0l" x="395.92" y="152.48"/><use href="#b0l" x="398.81" y="154.4"/><use href="#b0l" x="401.7" y="156.32"/><use href="#b0l" x="404.59" y="158.24"/><use href="#b0l" x="407.48" y="160.16"/><use href="#b0l" x="410.37" y="162.08"/><use href="#b0l" x="413.25" y="164"/><use href="#b0l" x="416.14" y="165.93"/><use href="#b0l" x="419.03" y="167.85"/><use href="#b0l" x="421.92" y="169.77"/><use href="#b0l" x="424.81" y="171.69"/><use href="#b0l" x="427.7" y="173.61"/><use href="#b0l" x="430.59" y="175.53"/><use href="#b0l" x="433.48" y="177.45"/></g>
<g fill="#001640"><use href="#b0r" x="349.7" y="121.74"/><use href="#b0r" x="352.59" y="123.66"/><use href="#b0r" x="355.48" y="125.59"/><use href="#b0r" x="358.36" y="127.51"/><use href="#b0r" x="361.25" y="129.43"/><use href="#b0r" x="364.14" y="131.35"/><use href="#b0r" x="367.03" y="133.27"/><use href="#b0r" x="369.92" y="135.19"/><use href="#b0r" x="372.81" y="137.11"/><use href="#b0r" x="375.7" y="139.03"/><use href="#b0r" x="378.59" y="140.95"/><use href="#b0r" x="381.48" y="142.87"/><use href="#b0r" x="384.37" y="144.79"/><use href="#b0r" x="387.25" y="146.72"/><use href="#b0r" x="390.14" y="148.64"/><use href="#b0r" x="393.03" y="150.56"/><use href="#b0r" x="395.92" y="152.48"/><use href="#b0r" x="398.81" y="154.4"/><use href="#b0r" x="401.7" y="156.32"/><use href="#b0r" x="404.59" y="158.24"/><use href="#b0r" x="407.48" y="160.16"/><use href="#b0r" x="410.37" y="162.08"/><use href="#b0r" x="413.25" y="164"/><use href="#b0r" x="416.14" y="165.93"/><use href="#b0r" x="419.03" y="167.85"/><use href="#b0r" x="421.92" y="169.77"/><use href="#b0r" x="424.81" y="171.69"/><use href="#b0r" x="427.7" y="173.61"/><use href="#b0r" x="430.59" y="175.53"/><use href="#b0r" x="433.48" y="177.45"/></g>
<g fill="#0057ff" stroke="#d4d4d4" stroke-width="0.4"><use href="#b0t" x="349.7" y="121.74"/><use href="#b0t" x="352.59" y="123.66"/><use href="#b0t" x="355.48" y="125.59"/><use href="#b0t" x="358.36" y="127.51"/><use href="#b0t" x="361.25" y="129.43"/><use href="#b0t" x="364.14" y="131.35"/><use href="#b0t" x="367.03" y="133.27"/><use href="#b0t" x="369.92" y="135.19"/><use href="#b0t" x="372.81" y="137.11"/><use href="#b0t" x="375.7" y="139.03"/><use href="#b0t" x="378.59" y="140.95"/><use href="#b0t" x="381.48" y="142.87"/><use href="#b0t" x="384.37" y="144.79"/><use href="#b0t" x="387.25" y="146.72"/><use href="#b0t" x="390.14" y="148.64"/><use href="#b0t" x="393.03" y="150.56"/><use href="#b0t" x="395.92" y="152.48"/><use href="#b0t" x="398.81" y="154.4"/><use href="#b0t" x="401.7" y="156.32"/><use href="#b0t" x="404.59" y="158.24"/><use href="#b0t" x="407.48" y="160.16"/><use href="#b0t" x="410.37" y="162.08"/><use href="#b0t" x="413.25" y="164"/><use href="#b0t" x="416.14" y="165.93"/><use href="#b0t" x="419.03" y="167.85"/><use href="#b0t" x="421.92" y="169.77"/><use href="#b0t" x="424.81" y="171.69"/><use href="#b0t" x="427.7" y="173.61"/><use href="#b0t" x="430.59" y="175.53"/><use href="#b0t" x="433.48" y="177.45"/></g>
<g fill="#00114c"><use href="#b0l" x="346.11" y="123.16"/><use href="#b0l" x="349" y="125.08"/><use href="#b0l" x="351.89" y="127"/><use href="#b0l" x="354.78" y="128.92"/><use href="#b0l" x="357.67" y="130.84"/><use href="#b0l" x="360.56" y="132.76"/><use href="#b0l" x="363.45" y="134.68"/><use href="#b0l" x="366.34" y="136.6"/><use href="#b0l" x="369.23" y="138.53"/><use href="#b0l" x="372.11" y="140.45"/><use href="#b0l" x="375" y="142.37"/><use href="#b0l" x="377.89" y="144.29"/><use href="#b0l" x="380.78" y="146.21"/><use href="#b0l" x="383.67" y="148.13"/><use href="#b0l" x="386.56" y="150.05"/><use href="#b0l" x="389.45" y="151.97"/><use href="#b0l" x="392.34" y="153.89"/><use href="#b0l" x="395.23" y="155.81"/><use href="#b0l" x="398.12" y="157.74"/><use href="#b0l" x="401" y="159.66"/><use href="#b0l" x="403.89" y="161.58"/><use href="#b0l" x="406.78" y="163.5"/><use href="#b0l" x="409.67" y="165.42"/><use href="#b0l" x="412.56" y="167.34"/><use href="#b0l" x="415.45" y="169.26"/><use href="#b0l" x="418.34" y="171.18"/><use href="#b0l" x="421.23" y="173.1"/><use href="#b0l" x="424.12" y="175.02"/><use href="#b0l" x="427" y="176.95"/><use href="#b0l" x="429.89" y="178.87"/></g>
<g fill="#000e40"><use href="#b0r" x="346.11" y="123.16"/><use href="#b0r" x="349" y="125.08"/><use href="#b0r" x="351.89" y="127"/><use href="#b0r" x="354.78" y="128.92"/><use href="#b0r" x="357.67" y="130.84"/><use href="#b0r" x="360.56" y="132.76"/><use href="#b0r" x="363.45" y="134.68"/><use href="#b0r" x="366.34" y="136.6"/><use href="#b0r" x="369.23" y="138.53"/><use href="#b0r" x="372.11" y="140.45"/><use href="#b0r" x="375" y="142.37"/><use href="#b0r" x="377.89" y="144.29"/><use href="#b0r" x="380.78" y="146.21"/><use href="#b0r" x="383.67" y="148.13"/><use href="#b0r" x="386.56" y="150.05"/><use href="#b0r" x="389.45" y="151.97"/><use href="#b0r" x="392.34" y="153.89"/><use href="#b0r" x="395.23" y="155.81"/><use href="#b0r" x="398.12" y="157.74"/><use href="#b0r" x="401" y="159.66"/><use href="#b0r" x="403.89" y="161.58"/><use href="#b0r" x="406.78" y="163.5"/><use href="#b0r" x="409.67" y="165.42"/><use href="#b0r" x="412.56" y="167.34"/><use href="#b0r" x="415.45" y="169.26"/><use href="#b0r" x="418.34" y="171.18"/><use href="#b0r" x="421.23" y="173.1"/><use href="#b0r" x="424.12" y="175.02"/><use href="#b0r" x="427" y="176.95"/><use href="#b0r" x="429.89" y="178.87"/></g>
<g fill="#0038ff" stroke="#d4d4d4" stroke-width="0.4"><use href="#b0t" x="346.11" y="123.16"/><use href="#b0t" x="349" y="125.08"/><use href="#b0t" x="351.89" y="127"/><use href="#b0t" x="354.78" y="128.92"/><use href="#b0t" x="357.67" y="130.84"/><use href="#b0t" x="360.56" y="132.76"/><use href="#b0t" x="363.45" y="134.68"/><use href="#b0t" x="366.34" y="136.6"/><use href="#b0t" x="369.23" y="138.53"/><use href="#b0t" x="372.11" y="140.45"/><use href="#b0t" x="375" y="142.37"/><use href="#b0t" x="377.89" y="144.29"/><use href="#b0t" x="380.78" y="146.21"/><use href="#b0t" x="383.67" y="148.13"/><use href="#b0t" x="386.56" y="150.05"/><use href="#b0t" x="389.45" y="151.97"/><use href="#b0t" x="392.34" y="153.89"/><use href="#b0t" x="395.23" y="155.81"/><use href="#b0t" x="398.12" y="157.74"/><use href="#b0t" x="401" y="159.66"/><use href="#b0t" x="403.89" y="161.58"/><use href="#b0t" x="406.78" y="163.5"/><use href="#b0t" x="409.67" y="165.42"/><use href="#b0t" x="412.56" y="167.34"/><use href="#b0t" x="415.45" y="169.26"/><use href="#b0t" x="418.34" y="171.18"/><use href="#b0t" x="421.23" y="173.1"/><use href="#b0t" x="424.12" y="175.02"/><use href="#b0t" x="427" y="176.95"/><use href="#b0t" x="429.89" y="178.87"/></g>
<g fill="#00084c"><use href="#b0l" x="342.53" y="124.57"/><use href="#b0l" x="345.42" y="126.49"/><use href="#b0l" x="348.31" y="128.41"/><use href="#b0l" x="351.2" y="130.33"/><use href="#b0l" x="354.08" y="132.25"/><use href="#b0l" x="356.97" y="134.18"/><use href="#b0l" x="359.86" y="136.1"/><use href="#b0l" x="362.75" y="138.02"/><use href="#b0l" x="365.64" y="139.94"/><use href="#b0l" x="368.53" y="141.86"/><use href="#b0l" x="371.42" y="143.78"/><use href="#b0l" x="374.31" y="145.7"/><use href="#b0l" x="377.2" y="147.62"/><use href="#b0l" x="380.09" y="149.54"/><use href="#b0l" x="382.97" y="151.47"/><use href="#b0l" x="385.86" y="153.39"/><use href="#b0l" x="388.75" y="155.31"/><use href="#b0l" x="391.64" y="157.23"/><use href="#b0l" x="394.53" y="159.15"/><use href="#b0l" x="397.42" y="161.07"/><use href="#b0l" x="400.31" y="162.99"/><use href="#b0l" x="403.2" y="164.91"/><use href="#b0l" x="406.09" y="166.83"/><use href="#b0l" x="408.98" y="168.75"/><use href="#b0l" x="411.86" y="170.68"/><use href="#b0l" x="414.75" y="172.6"/><use href="#b0l" x="417.64" y="174.52"/><use href="#b0l" x="420.53" y="176.44"/><use href="#b0l" x="423.42" y="178.36"/><use href="#b0l" x="426.31" y="180.28"/></g>
<g fill="#000640"><use href="#b0r" x="342.53" y="124.57"/><use href="#b0r" x="345.42" y="126.49"/><use href="#b0r" x="348.31" y="128.41"/><use href="#b0r" x="351.2" y="130.33"/><use href="#b0r" x="354.08" y="132.25"/><use href="#b0r" x="356.97" y="134.18"/><use href="#b0r" x="359.86" y="136.1"/><use href="#b0r" x="362.75" y="138.02"/><use href="#b0r" x="365.64" y="139.94"/><use href="#b0r" x="368.53" y="141.86"/><use href="#b0r" x="371.42" y="143.78"/><use href="#b0r" x="374.31" y="145.7"/><use href="#b0r" x="377.2" y="147.62"/><use href="#b0r" x="380.09" y="149.54"/><use href="#b0r" x="382.97" y="151.47"/><use href="#b0r" x="385.86" y="153.39"/><use href="#b0r" x="388.75" y="155.31"/><use href="#b0r" x="391.64" y="157.23"/><use href="#b0r" x="394.53" y="159.15"/><use href="#b0r" x="397.42" y="161.07"/><use href="#b0r" x="400.31" y="162.99"/><use href="#b0r" x="403.2" y="164.91"/><use href="#b0r" x="406.09" y="166.83"/><use href="#b0r" x="408.98" y="168.75"/><use href="#b0r" x="411.86" y="170.68"/><use href="#b0r" x="414.75" y="172.6"/><use href="#b0r" x="417.64" y="174.52"/><use href="#b0r" x="420.53" y="176.44"/><use href="#b0r" x="423.42" y="178.36"/><use href="#b0r" x="426.31" y="180.28"/></g>
<g fill="#0019ff" stroke="#d4d4d4" stroke-width="0.4"><use href="#b0t" x="342.53" y="124.57"/><use href="#b0t" x="345.42" y="126.49"/><use href="#b0t" x="348.31" y="128.41"/><use href="#b0t" x="351.2" y="130.33"/><use href="#b0t" x="354.08" y="132.25"/><use href="#b0t" x="356.97" y="134.18"/><use href="#b0t" x="359.86" y="136.1"/><use href="#b0t" x="362.75" y="138.02"/><use href="#b0t" x="365.64" y="139.94"/><use href="#b0t" x="368.53" y="141.86"/><use href="#b0t" x="371.42" y="143.78"/><use href="#b0t" x="374.31" y="145.7"/><use href="#b0t" x="377.2" y="147.62"/><use href="#b0t" x="380.09" y="149.54"/><use href="#b0t" x="382.97" y="151.47"/><use href="#b0t" x="385.86" y="153.39"/><use href="#b0t" x="388.75" y="155.31"/><use href="#b0t" x="391.64" y="157.23"/><use href="#b0t" x="394.53" y="159.15"/><use href="#b0t" x="397.42" y="161.07"/><use href="#b0t" x="400.31" y="162.99"/><use href="#b0t" x="403.2" y="164.91"/><use href="#b0t" x="406.09" y="166.83"/><use href="#b0t" x="408.98" y="168.75"/><use href="#b0t" x="411.86" y="170.68"/><use href="#b0t" x="414.75" y="172.6"/><use href="#b0t" x="417.64" y="174.52"/><use href="#b0t" x="420.53" y="176.44"/><use href="#b0t" x="423.42" y="178.36"/><use href="#b0t" x="426.31" y="180.28"/></g>
<g fill="#000049"><use href="#b0l" x="338.94" y="125.98"/><use href="#b0l" x="341.83" y="127.91"/><use href="#b0l" x="344.72" y="129.83"/><use href="#b0l" x="347.61" y="131.75"/><use href="#b0l" x="350.5" y="133.67"/><use href="#b0l" x="353.39" y="135.59"/><use href="#b0l" x="356.28" y="137.51"/><use href="#b0l" x="359.17" y="139.43"/><use href="#b0l" x="362.06" y="141.35"/><use href="#b0l" x="364.95" y="143.27"/><use href="#b0l" x="367.83" y="145.19"/><use href="#b0l" x="370.72" y="147.12"/><use href="#b0l" x="373.61" y="149.04"/><use href="#b0l" x="376.5" y="150.96"/><use href="#b0l" x="379.39" y="152.88"/><use href="#b0l" x="382.28" y="154.8"/><use href="#b0l" x="385.17" y="156.72"/><use href="#b0l" x="388.06" y="158.64"/><use href="#b0l" x="390.95" y="160.56"/><use href="#b0l" x="393.84" y="162.48"/><use href="#b0l" x="396.72" y="164.4"/><use href="#b0l" x="399.61" y="166.33"/><use href="#b0l" x="402.5" y="168.25"/><use href="#b0l" x="405.39" y="170.17"/><use href="#b0l" x="408.28" y="172.09"/><use href="#b0l" x="411.17" y="174.01"/><use href="#b0l" x="414.06" y="175.93"/><use href="#b0l" x="416.95" y="177.85"/><use href="#b0l" x="419.84" y="179.77"/><use href="#b0l" x="422.73" y="181.69"/></g>
<g fill="#00003d"><use href="#b0r" x="338.94" y="125.98"/><use href="#b0r" x="341.83" y="127.91"/><use href="#b0r" x="344.72" y="129.83"/><use href="#b0r" x="347.61" y="131.75"/><use href="#b0r" x="350.5" y="133.67"/><use href="#b0r" x="353.39" y="135.59"/><use href="#b0r" x="356.28" y="137.51"/><use href="#b0r" x="359.17" y="139.43"/><use href="#b0r" x="362.06" y="141.35"/><use href="#b0r" x="364.95" y="143.27"/><use href="#b0r" x="367.83" y="145.19"/><use href="#b0r" x="370.72" y="147.12"/><use href="#b0r" x="373.61" y="149.04"/><use href="#b0r" x="376.5" y="150.96"/><use href="#b0r" x="379.39" y="152.88"/><use href="#b0r" x="382.28" y="154.8"/><use href="#b0r" x="385.17" y="156.72"/><use href="#b0r" x="388.06" y="158.64"/><use href="#b0r" x="390.95" y="160.56"/><use href="#b0r" x="393.84" y="162.48"/><use href="#b0r" x="396.72" y="164.4"/><use href="#b0r" x="399.61" y="166.33"/><use href="#b0r" x="402.5" y="168.25"/><use href="#b0r" x="405.39" y="170.17"/><use href="#b0r" x="408.28" y="172.09"/><use href="#b0r" x="411.17" y="174.01"/><use href="#b0r" x="414.06" y="175.93"/><use href="#b0r" x="416.95" y="177.85"/><use href="#b0r" x="419.84" y="179.77"/><use href="#b0r" x="422.73" y="181.69"/></g>
<g fill="#0000f5" stroke="#d4d4d4" stroke-width="0.4"><use href="#b0t" x="338.94" y="125.98"/><use href="#b0t" x="341.83" y="127.91"/><use href="#b0t" x="344.72" y="129.83"/><use href="#b0t" x="347.61" y="131.75"/><use href="#b0t" x="350.5" y="133.67"/><use href="#b0t" x="353.39" y="135.59"/><use href="#b0t" x="356.28" y="137.51"/><use href="#b0t" x="359.17" y="139.43"/><use href="#b0t" x="362.06" y="141.35"/><use href="#b0t" x="364.95" y="143.27"/><use href="#b0t" x="367.83" y="145.19"/><use href="#b0t" x="370.72" y="147.12"/><use href="#b0t" x="373.61" y="149.04"/><use href="#b0t" x="376.5" y="150.96"/><use href="#b0t" x="379.39" y="152.88"/><use href="#b0t" x="382.28" y="154.8"/><use href="#b0t" x="385.17" y="156.72"/><use href="#b0t" x="388.06" y="158.64"/><use href="#b0t" x="390.95" y="160.56"/><use href="#b0t" x="393.84" y="162.48"/><use href="#b0t" x="396.72" y="164.4"/><use href="#b0t" x="399.61" y="166.33"/><use href="#b0t" x="402.5" y="168.25"/><use href="#b0t" x="405.39" y="170.17"/><use href="#b0t" x="408.28" y="172.09"/><use href="#b0t" x="411.17" y="174.01"/><use href="#b0t" x="414.06" y="175.93"/><use href="#b0t" x="416.95" y="177.85"/><use href="#b0t" x="419.84" y="179.77"/><use href="#b0t" x="422.73" y="181.69"/></g>
<g fill="#00003f"><use href="#b0l" x="335.36" y="127.4"/><use href="#b0l" x="338.25" y="129.32"/><use href="#b0l" x="341.14" y="131.24"/><use href="#b0l" x="344.03" y="133.16"/><use href="#b0l" x="346.92" y="135.08"/><use href="#b0l" x="349.81" y="137"/><use href="#b0l" x="352.69" y="138.93"/><use href="#b0l" x="355.58" y="140.85"/><use href="#b0l" x="358.47" y="142.77"/><use href="#b0l" x="361.36" y="144.69"/><use href="#b0l" x="364.25" y="146.61"/><use href="#b0l" x="367.14" y="148.53"/><use href="#b0l" x="370.03" y="150.45"/><use href="#b0l" x="372.92" y="152.37"/><use href="#b0l" x="375.81" y="154.29"/><use href="#b0l" x="378.7" y="156.21"/><use href="#b0l" x="381.58" y="158.14"/><use href="#b0l" x="384.47" y="160.06"/><use href="#b0l" x="387.36" y="161.98"/><use href="#b0l" x="390.25" y="163.9"/><use href="#b0l" x="393.14" y="165.82"/><use href="#b0l" x="396.03" y="167.74"/><use href="#b0l" x="398.92" y="169.66"/><use href="#b0l" x="401.81" y="171.58"/><use href="#b0l" x="404.7" y="173.5"/><use href="#b0l" x="407.59" y="175.42"/><use href="#b0l" x="410.47" y="177.34"/><use href="#b0l" x="413.36" y="179.27"/><use href="#b0l" x="416.25" y="181.19"/><use href="#b0l" x="419.14" y="183.11"/></g>
<g fill="#000034"><use href="#b0r" x="335.36" y="127.4"/><use href="#b0r" x="338.25" y="129.32"/><use href="#b0r" x="341.14" y="131.24"/><use href="#b0r" x="344.03" y="133.16"/><use href="#b0r" x="346.92" y="135.08"/><use href="#b0r" x="349.81" y="137"/><use href="#b0r" x="352.69" y="138.93"/><use href="#b0r" x="355.58" y="140.85"/><use href="#b0r" x="358.47" y="142.77"/><use href="#b0r" x="361.36" y="144.69"/><use href="#b0r" x="364.25" y="146.61"/><use href="#b0r" x="367.14" y="148.53"/><use href="#b0r" x="370.03" y="150.45"/><use href="#b0r" x="372.92" y="152.37"/><use href="#b0r" x="375.81" y="154.29"/><use href="#b0r" x="378.7" y="156.21"/><use href="#b0r" x="381.58" y="158.14"/><use href="#b0r" x="384.47" y="160.06"/><use href="#b0r" x="387.36" y="161.98"/><use href="#b0r" x="390.25" y="163.9"/><use href="#b0r" x="393.14" y="165.82"/><use href="#b0r" x="396.03" y="167.74"/><use href="#b0r" x="398.92" y="169.66"/><use href="#b0r" x="401.81" y="171.58"/><use href="#b0r" x="404.7" y="173.5"/><use href="#b0r" x="407.59" y="175.42"/><use href="#b0r" x="410.47" y="177.34"/><use href="#b0r" x="413.36" y="179.27"/><use href="#b0r" x="416.25" y="181.19"/><use href="#b0r" x="419.14" y="183.11"/></g>
<g fill="#0000d1" stroke="#d4d4d4" stroke-width="0.4"><use href="#b0t" x="335.36" y="127.4"/><use href="#b0t" x="338.25" y="129.32"/><use href="#b0t" x="341.14" y="131.24"/><use href="#b0t" x="344.03" y="133.16"/><use href="#b0t" x="346.92" y="135.08"/><use href="#b0t" x="349.81" y="137"/><use href="#b0t" x="352.69" y="138.93"/><use href="#b0t" x="355.58" y="140.85"/><use href="#b0t" x="358.47" y="142.77"/><use href="#b0t" x="361.36" y="144.69"/><use href="#b0t" x="364.25" y="146.61"/><use href="#b0t" x="367.14" y="148.53"/><use href="#b0t" x="370.03" y="150.45"/><use href="#b0t" x="372.92" y="152.37"/><use href="#b0t" x="375.81" y="154.29"/><use href="#b0t" x="378.7" y="156.21"/><use href="#b0t" x="381.58" y="158.14"/><use href="#b0t" x="384.47" y="160.06"/><use href="#b0t" x="387.36" y="161.98"/><use href="#b0t" x="390.25" y="163.9"/><use href="#b0t" x="393.14" y="165.82"/><use href="#b0t" x="396.03" y="167.74"/><use href="#b0t" x="398.92" y="169.66"/><use href="#b0t" x="401.81" y="171.58"/><use href="#b0t" x="404.7" y="173.5"/><use href="#b0t" x="407.59" y="175.42"/><use href="#b0t" x="410.47" y="177.34"/><use href="#b0t" x="413.36" y="179.27"/><use href="#b0t" x="416.25" y="181.19"/><use href="#b0t" x="419.14" y="183.11"/></g>
<g fill="#000034"><use href="#b0l" x="331.78" y="128.81"/><use href="#b0l" x="334.67" y="130.73"/><use href="#b0l" x="337.56" y="132.66"/><use href="#b0l" x="340.44" y="134.58"/><use href="#b0l" x="343.33" y="136.5"/><use href="#b0l" x="346.22" y="138.42"/><use href="#b0l" x="349.11" y="140.34"/><use href="#b0l" x="352" y="142.26"/><use href="#b0l" x="354.89" y="144.18"/><use href="#b0l" x="357.78" y="146.1"/><use href="#b0l" x="360.67" y="148.02"/><use href="#b0l" x="363.56" y="149.94"/><use href="#b0l" x="366.44" y="151.86"/><use href="#b0l" x="369.33" y="153.79"/><use href="#b0l" x="372.22" y="155.71"/><use href="#b0l" x="375.11" y="157.63"/><use href="#b0l" x="378" y="159.55"/><use href="#b0l" x="380.89" y="161.47"/><use href="#b0l" x="383.78" y="163.39"/><use href="#b0l" x="386.67" y="165.31"/><use href="#b0l" x="389.56" y="167.23"/><use href="#b0l" x="392.45" y="169.15"/><use href="#b0l" x="395.33" y="171.07"/><use href="#b0l" x="398.22" y="173"/><use href="#b0l" x="401.11" y="174.92"/><use href="#b0l" x="404" y="176.84"/><use href="#b0l" x="406.89" y="178.76"/><use href="#b0l" x="409.78" y="180.68"/><use href="#b0l" x="412.67" y="182.6"/><use href="#b0l" x="415.56" y="184.52"/></g>
<g fill="#00002b"><use href="#b0r" x="331.78" y="128.81"/><use href="#b0r" x="334.67" y="130.73"/><use href="#b0r" x="337.56" y="132.66"/><use href="#b0r" x="340.44" y="134.58"/><use href="#b0r" x="343.33" y="136.5"/><use href="#b0r" x="346.22" y="138.42"/><use href="#b0r" x="349.11" y="140.34"/><use href="#b0r" x="352" y="142.26"/><use href="#b0r" x="354.89" y="144.18"/><use href="#b0r" x="357.78" y="146.1"/><use href="#b0r" x="360.67" y="148.02"/><use href="#b0r" x="363.56" y="149.94"/><use href="#b0r" x="366.44" y="151.86"/><use href="#b0r" x="369.33" y="153.79"/><use href="#b0r" x="372.22" y="155.71"/><use href="#b0r" x="375.11" y="157.63"/><use href="#b0r" x="378" y="159.55"/><use href="#b0r" x="380.89" y="161.47"/><use href="#b0r" x="383.78" y="163.39"/><use href="#b0r" x="386.67" y="165.31"/><use href="#b0r" x="389.56" y="167.23"/><use href="#b0r" x="392.45" y="169.15"/><use href="#b0r" x="395.33" y="171.07"/><use href="#b0r" x="398.22" y="173"/><use href="#b0r" x="401.11" y="174.92"/><use href="#b0r" x="404" y="176.84"/><use href="#b0r" x="406.89" y="178.76"/><use href="#b0r" x="409.78" y="180.68"/><use href="#b0r" x="412.67" y="182.6"/><use href="#b0r" x="415.56" y="184.52"/></g>
<g fill="#0000ad" stroke="#d4d4d4" stroke-width="0.4"><use href="#b0t" x="331.78" y="128.81"/><use href="#b0t" x="334.67" y="130.73"/><use href="#b0t" x="337.56" y="132.66"/><use href="#b0t" x="340.44" y="134.58"/><use href="#b0t" x="343.33" y="136.5"/><use href="#b0t" x="346.22" y="138.42"/><use href="#b0t" x="349.11" y="140.34"/><use href="#b0t" x="352" y="142.26"/><use href="#b0t" x="354.89" y="144.18"/><use href="#b0t" x="357.78" y="146.1"/><use href="#b0t" x="360.67" y="148.02"/><use href="#b0t" x="363.56" y="149.94"/><use href="#b0t" x="366.44" y="151.86"/><use href="#b0t" x="369.33" y="153.79"/><use href="#b0t" x="372.22" y="155.71"/><use href="#b0t" x="375.11" y="157.63"/><use href="#b0t" x="378" y="159.55"/><use href="#b0t" x="380.89" y="161.47"/><use href="#b0t" x="383.78" y="163.39"/><use href="#b0t" x="386.67" y="165.31"/><use href="#b0t" x="389.56" y="167.23"/><use href="#b0t" x="392.45" y="169.15"/><use href="#b0t" x="395.33" y="171.07"/><use href="#b0t" x="398.22" y="173"/><use href="#b0t" x="401.11" y="174.92"/><use href="#b0t" x="404" y="176.84"/><use href="#b0t" x="406.89" y="178.76"/><use href="#b0t" x="409.78" y="180.68"/><use href="#b0t" x="412.67" y="182.6"/><use href="#b0t" x="415.56" y="184.52"/></g>
<g fill="#000029"><use href="#b0l" x="328.19" y="130.23"/><use href="#b0l" x="331.08" y="132.15"/><use href="#b0l" x="333.97" y="134.07"/><use href="#b0l" x="336.86" y="135.99"/><use href="#b0l" x="339.75" y="137.91"/><use href="#b0l" x="342.64" y="139.83"/><use href="#b0l" x="345.53" y="141.75"/><use href="#b0l" x="348.42" y="143.67"/><use href="#b0l" x="351.31" y="145.59"/><use href="#b0l" x="354.19" y="147.52"/><use href="#b0l" x="357.08" y="149.44"/><use href="#b0l" x="359.97" y="151.36"/><use href="#b0l" x="362.86" y="153.28"/><use href="#b0l" x="365.75" y="155.2"/><use href="#b0l" x="368.64" y="157.12"/><use href="#b0l" x="371.53" y="159.04"/><use href="#b0l" x="374.42" y="160.96"/><use href="#b0l" x="377.31" y="162.88"/><use href="#b0l" x="380.19" y="164.81"/><use href="#b0l" x="383.08" y="166.73"/><use href="#b0l" x="385.97" y="168.65"/><use href="#b0l" x="388.86" y="170.57"/><use href="#b0l" x="391.75" y="172.49"/><use href="#b0l" x="394.64" y="174.41"/><use href="#b0l" x="397.53" y="176.33"/><use href="#b0l" x="400.42" y="178.25"/><use href="#b0l" x="403.31" y="180.17"/><use href="#b0l" x="406.2" y="182.09"/><use href="#b0l" x="409.08" y="184.02"/><use href="#b0l" x="411.97" y="185.94"/></g>
<g fill="#000022"><use href="#b0r" x="328.19" y="130.23"/><use href="#b0r" x="331.08" y="132.15"/><use href="#b0r" x="333.97" y="134.07"/><use href="#b0r" x="336.86" y="135.99"/><use href="#b0r" x="339.75" y="137.91"/><use href="#b0r" x="342.64" y="139.83"/><use href="#b0r" x="345.53" y="141.75"/><use href="#b0r" x="348.42" y="143.67"/><use href="#b0r" x="351.31" y="145.59"/><use href="#b0r" x="354.19" y="147.52"/><use href="#b0r" x="357.08" y="149.44"/><use href="#b0r" x="359.97" y="151.36"/><use href="#b0r" x="362.86" y="153.28"/><use href="#b0r" x="365.75" y="155.2"/><use href="#b0r" x="368.64" y="157.12"/><use href="#b0r" x="371.53" y="159.04"/><use href="#b0r" x="374.42" y="160.96"/><use href="#b0r" x="377.31" y="162.88"/><use href="#b0r" x="380.19" y="164.81"/><use href="#b0r" x="383.08" y="166.73"/><use href="#b0r" x="385.97" y="168.65"/><use href="#b0r" x="388.86" y="170.57"/><use href="#b0r" x="391.75" y="172.49"/><use href="#b0r" x="394.64" y="174.41"/><use href="#b0r" x="397.53" y="176.33"/><use href="#b0r" x="400.42" y="178.25"/><use href="#b0r" x="403.31" y="180.17"/><use href="#b0r" x="406.2" y="182.09"/><use href="#b0r" x="409.08" y="184.02"/><use href="#b0r" x="411.97" y="185.94"/></g>
<g fill="#00008a" stroke="#d4d4d4" stroke-width="0.4"><use href="#b0t" x="328.19" y="130.23"/><use href="#b0t" x="331.08" y="132.15"/><use href="#b0t" x="333.97" y="134.07"/><use href="#b0t" x="336.86" y="135.99"/><use href="#b0t" x="339.75" y="137.91"/><use href="#b0t" x="342.64" y="139.83"/><use href="#b0t" x="345.53" y="141.75"/><use href="#b0t" x="348.42" y="143.67"/><use href="#b0t" x="351.31" y="145.59"/><use href="#b0t" x="354.19" y="147.52"/><use href="#b0t" x="357.08" y="149.44"/><use href="#b0t" x="359.97" y="151.36"/><use href="#b0t" x="362.86" y="153.28"/><use href="#b0t" x="365.75" y="155.2"/><use href="#b0t" x="368.64" y="157.12"/><use href="#b0t" x="371.53" y="159.04"/><use href="#b0t" x="374.42" y="160.96"/><use href="#b0t" x="377.31" y="162.88"/><use href="#b0t" x="380.19" y="164.81"/><use href="#b0t" x="383.08" y="166.73"/><use href="#b0t" x="385.97" y="168.65"/><use href="#b0t" x="388.86" y="170.57"/><use href="#b0t" x="391.75" y="172.49"/><use href="#b0t" x="394.64" y="174.41"/><use href="#b0t" x="397.53" y="176.33"/><use href="#b0t" x="400.42" y="178.25"/><use href="#b0t" x="403.31" y="180.17"/><use href="#b0t" x="406.2" y="182.09"/><use href="#b0t" x="409.08" y="184.02"/><use href="#b0t" x="411.97" y="185.94"/></g>
<g stroke="#777" stroke-width="0.25" stroke-linejoin="round"><path d="M423.2 99.9L425.5 101.4L425.5 105.3L423.2 103.8Z" fill="#ff4c00"/><path d="M425.5 101.4L428.4 100.3L428.4 104.2L425.5 105.3Z" fill="#e64500"/><path d="M423.2 99.9L425.5 101.4L428.4 100.3L426 98.7Z" fill="#ff4c00"/></g>
<g stroke="#777" stroke-width="0.25" stroke-linejoin="round"><path d="M429 103.7L431.3 105.3L431.3 109.2L429 107.6Z" fill="#ff4c00"/><path d="M431.3 105.3L434.1 104.1L434.1 108L431.3 109.2Z" fill="#e64500"/><path d="M429 103.7L431.3 105.3L434.1 104.1L431.8 102.6Z" fill="#ff4c00"/></g>
<g stroke="#aaa" stroke-width="0.25" stroke-linejoin="round"><path d="M368.6 110.3L370.9 111.9L370.9 114.6L368.6 113.1Z" fill="#2effd1"/><path d="M370.9 111.9L373.8 110.7L373.8 113.5L370.9 114.6Z" fill="#29e6bc"/><path d="M368.6 110.3L370.9 111.9L373.8 110.7L371.5 109.2Z" fill="#2effd1"/></g>
<g stroke="#777" stroke-width="0.25" stroke-linejoin="round"><path d="M432.6 110.3L434.9 111.9L434.9 115.4L432.6 113.8Z" fill="#ff6100"/><path d="M434.9 111.9L437.8 110.7L437.8 114.2L434.9 115.4Z" fill="#e65700"/><path d="M432.6 110.3L434.9 111.9L437.8 110.7L435.5 109.2Z" fill="#ff6100"/></g>
<g stroke="#aaa" stroke-width="0.25" stroke-linejoin="round"><path d="M374.4 114.2L376.7 115.7L376.7 118.4L374.4 116.9Z" fill="#2effd1"/><path d="M376.7 115.7L379.6 114.6L379.6 117.3L376.7 118.4Z" fill="#29e6bc"/><path d="M374.4 114.2L376.7 115.7L379.6 114.6L377.3 113Z" fill="#2effd1"/></g>
<g stroke="#4a4a4a" stroke-width="0.25" stroke-linejoin="round"><path d="M346 113.5L348.3 115.1L348.3 121.2L346 119.7Z" fill="#0080ff"/><path d="M348.3 115.1L351.2 113.9L351.2 120.1L348.3 121.2Z" fill="#0073e6"/><path d="M346 113.5L348.3 115.1L351.2 113.9L348.9 112.4Z" fill="#0080ff"/></g>
<g stroke="#4a4a4a" stroke-width="0.25" stroke-linejoin="round"><path d="M353.1 118.2L355.4 119.8L355.4 125.5L353.1 124Z" fill="#0080ff"/><path d="M355.4 119.8L358.3 118.6L358.3 124.4L355.4 125.5Z" fill="#0073e6"/><path d="M353.1 118.2L355.4 119.8L358.3 118.6L356 117.1Z" fill="#0080ff"/></g>
<g stroke="#4a4a4a" stroke-width="0.25" stroke-linejoin="round"><path d="M428 120.9L430.3 122.5L430.3 127.9L428 126.3Z" fill="#ffff00"/><path d="M430.3 122.5L433.2 121.3L433.2 126.8L430.3 127.9Z" fill="#e6e600"/><path d="M428 120.9L430.3 122.5L433.2 121.3L430.9 119.8Z" fill="#ffff00"/></g>
<g stroke="#4a4a4a" stroke-width="0.25" stroke-linejoin="round"><path d="M416.6 119.7L418.9 121.3L418.9 129.4L416.6 127.9Z" fill="#b3ff4c"/><path d="M418.9 121.3L421.8 120.1L421.8 128.3L418.9 129.4Z" fill="#a1e645"/><path d="M416.6 119.7L418.9 121.3L421.8 120.1L419.5 118.6Z" fill="#b3ff4c"/></g>
<g stroke="#4a4a4a" stroke-width="0.25" stroke-linejoin="round"><path d="M326.2 89.3L328.5 90.9L328.5 132L326.2 130.4Z" fill="#00009e"/><path d="M328.5 90.9L331.4 89.7L331.4 130.8L328.5 132Z" fill="#00008e"/><path d="M326.2 89.3L328.5 90.9L331.4 89.7L329.1 88.2Z" fill="#00009e"/></g>
<g stroke="#4a4a4a" stroke-width="0.25" stroke-linejoin="round"><path d="M434 125.1L436.3 126.7L436.3 132.3L434 130.7Z" fill="#ffff00"/><path d="M436.3 126.7L439.2 125.5L439.2 131.1L436.3 132.3Z" fill="#e6e600"/><path d="M434 125.1L436.3 126.7L439.2 125.5L436.9 124Z" fill="#ffff00"/></g>
<g stroke="#4a4a4a" stroke-width="0.25" stroke-linejoin="round"><path d="M329.9 92.8L332.2 94.4L332.2 134.4L329.9 132.9Z" fill="#00009e"/><path d="M332.2 94.4L335.1 93.2L335.1 133.3L332.2 134.4Z" fill="#00008e"/><path d="M329.9 92.8L332.2 94.4L335.1 93.2L332.8 91.7Z" fill="#00009e"/></g>
<g stroke="#4a4a4a" stroke-width="0.25" stroke-linejoin="round"><path d="M385.4 90.1L387.7 91.7L387.7 134.5L385.4 133Z" fill="#00e5ff"/><path d="M387.7 91.7L390.6 90.5L390.6 133.4L387.7 134.5Z" fill="#00cfe6"/><path d="M385.4 90.1L387.7 91.7L390.6 90.5L388.3 89Z" fill="#00e5ff"/></g>
<g stroke="#4a4a4a" stroke-width="0.25" stroke-linejoin="round"><path d="M404.6 95.9L406.9 97.5L406.9 136.2L404.6 134.7Z" fill="#38ffc7"/><path d="M406.9 97.5L409.8 96.3L409.8 135.1L406.9 136.2Z" fill="#32e6b3"/><path d="M404.6 95.9L406.9 97.5L409.8 96.3L407.5 94.8Z" fill="#38ffc7"/></g>
<g stroke="#4a4a4a" stroke-width="0.25" stroke-linejoin="round"><path d="M466.9 95.8L469.2 97.4L469.2 136.3L466.9 134.7Z" fill="#ff6100"/><path d="M469.2 97.4L472.1 96.2L472.1 135.2L469.2 136.3Z" fill="#e65700"/><path d="M466.9 95.8L469.2 97.4L472.1 96.2L469.8 94.7Z" fill="#ff6100"/></g>
<g stroke="#4a4a4a" stroke-width="0.25" stroke-linejoin="round"><path d="M391.3 94.3L393.6 95.9L393.6 137.3L391.3 135.7Z" fill="#00e5ff"/><path d="M393.6 95.9L396.5 94.7L396.5 136.1L393.6 137.3Z" fill="#00cfe6"/><path d="M391.3 94.3L393.6 95.9L396.5 94.7L394.2 93.2Z" fill="#00e5ff"/></g>
<g stroke="#4a4a4a" stroke-width="0.25" stroke-linejoin="round"><path d="M362.6 127.8L364.9 129.4L364.9 137.9L362.6 136.4Z" fill="#0042ff"/><path d="M364.9 129.4L367.8 128.2L367.8 136.8L364.9 137.9Z" fill="#003ce6"/><path d="M362.6 127.8L364.9 129.4L367.8 128.2L365.5 126.7Z" fill="#0042ff"/></g>
<g stroke="#4a4a4a" stroke-width="0.25" stroke-linejoin="round"><path d="M497.2 125.9L499.5 127.5L499.5 139.3L497.2 137.8Z" fill="#9e0000"/><path d="M499.5 127.5L502.4 126.3L502.4 138.2L499.5 139.3Z" fill="#8e0000"/><path d="M497.2 125.9L499.5 127.5L502.4 126.3L500.1 124.8Z" fill="#9e0000"/></g>
<g stroke="#4a4a4a" stroke-width="0.25" stroke-linejoin="round"><path d="M486.4 101.9L488.7 103.5L488.7 140.1L486.4 138.6Z" fill="#ff0f00"/><path d="M488.7 103.5L491.6 102.3L491.6 139L488.7 140.1Z" fill="#e60e00"/><path d="M486.4 101.9L488.7 103.5L491.6 102.3L489.3 100.8Z" fill="#ff0f00"/></g>
<g stroke="#4a4a4a" stroke-width="0.25" stroke-linejoin="round"><path d="M472.5 100.5L474.8 102.1L474.8 140.4L472.5 138.8Z" fill="#ff6100"/><path d="M474.8 102.1L477.7 100.9L477.7 139.3L474.8 140.4Z" fill="#e65700"/><path d="M472.5 100.5L474.8 102.1L477.7 100.9L475.4 99.4Z" fill="#ff6100"/></g>
<g stroke="#4a4a4a" stroke-width="0.25" stroke-linejoin="round"><path d="M410.5 100.2L412.8 101.8L412.8 141.7L410.5 140.1Z" fill="#38ffc7"/><path d="M412.8 101.8L415.7 100.6L415.7 140.6L412.8 141.7Z" fill="#32e6b3"/><path d="M410.5 100.2L412.8 101.8L415.7 100.6L413.4 99.1Z" fill="#38ffc7"/></g>
<g stroke="#4a4a4a" stroke-width="0.25" stroke-linejoin="round"><path d="M369 134.4L371.3 136L371.3 142.6L369 141Z" fill="#0042ff"/><path d="M371.3 136L374.2 134.8L374.2 141.4L371.3 142.6Z" fill="#003ce6"/><path d="M369 134.4L371.3 136L374.2 134.8L371.9 133.3Z" fill="#0042ff"/></g>
<g stroke="#4a4a4a" stroke-width="0.25" stroke-linejoin="round"><path d="M382.4 137.3L384.7 138.9L384.7 144.6L382.4 143.1Z" fill="#0075ff"/><path d="M384.7 138.9L387.6 137.7L387.6 143.5L384.7 144.6Z" fill="#006ae6"/><path d="M382.4 137.3L384.7 138.9L387.6 137.7L385.3 136.2Z" fill="#0075ff"/></g>
<g stroke="#4a4a4a" stroke-width="0.25" stroke-linejoin="round"><path d="M492.5 105L494.8 106.6L494.8 146.8L492.5 145.3Z" fill="#ff0f00"/><path d="M494.8 106.6L497.7 105.4L497.7 145.7L494.8 146.8Z" fill="#e60e00"/><path d="M492.5 105L494.8 106.6L497.7 105.4L495.4 103.9Z" fill="#ff0f00"/></g>
<g stroke="#4a4a4a" stroke-width="0.25" stroke-linejoin="round"><path d="M443.8 140.9L446.1 142.5L446.1 147.1L443.8 145.6Z" fill="#bdff42"/><path d="M446.1 142.5L449 141.3L449 146L446.1 147.1Z" fill="#aae63c"/><path d="M443.8 140.9L446.1 142.5L449 141.3L446.7 139.8Z" fill="#bdff42"/></g>
<g stroke="#4a4a4a" stroke-width="0.25" stroke-linejoin="round"><path d="M389 142.7L391.3 144.3L391.3 149L389 147.5Z" fill="#0075ff"/><path d="M391.3 144.3L394.2 143.1L394.2 147.9L391.3 149Z" fill="#006ae6"/><path d="M389 142.7L391.3 144.3L394.2 143.1L391.9 141.6Z" fill="#0075ff"/></g>
<g stroke="#4a4a4a" stroke-width="0.25" stroke-linejoin="round"><path d="M450.2 144.4L452.5 146L452.5 150.6L450.2 149.1Z" fill="#bdff42"/><path d="M452.5 146L455.4 144.8L455.4 149.5L452.5 150.6Z" fill="#aae63c"/><path d="M450.2 144.4L452.5 146L455.4 144.8L453.1 143.3Z" fill="#bdff42"/></g>
<g stroke="#4a4a4a" stroke-width="0.25" stroke-linejoin="round"><path d="M464 144L466.3 145.6L466.3 151.8L464 150.3Z" fill="#ffdb00"/><path d="M466.3 145.6L469.2 144.4L469.2 150.7L466.3 151.8Z" fill="#e6c500"/><path d="M464 144L466.3 145.6L469.2 144.4L466.9 142.9Z" fill="#ffdb00"/></g>
<g stroke="#4a4a4a" stroke-width="0.25" stroke-linejoin="round"><path d="M470 149.2L472.3 150.8L472.3 156.6L470 155Z" fill="#ffdb00"/><path d="M472.3 150.8L475.2 149.6L475.2 155.4L472.3 156.6Z" fill="#e6c500"/><path d="M470 149.2L472.3 150.8L475.2 149.6L472.9 148.1Z" fill="#ffdb00"/></g>
<text x="37.2" y="51.7" font-family="'Liberation Sans', Arial, sans-serif" font-size="12" text-anchor="end" stroke="#000" stroke-width="0.22" transform="matrix(1 0 0 1.06 0 -3.10)" >1</text>
<text x="37.6" y="92.6" font-family="'Liberation Sans', Arial, sans-serif" font-size="12" text-anchor="end" stroke="#000" stroke-width="0.22" transform="matrix(1 0 0 1.06 0 -5.56)" >0.5</text>
<text x="37.8" y="133.8" font-family="'Liberation Sans', Arial, sans-serif" font-size="12" text-anchor="end" stroke="#000" stroke-width="0.22" transform="matrix(1 0 0 1.06 0 -8.03)" >0</text>
<text x="14" y="92.3" font-family="'Liberation Serif', 'Times New Roman', serif" font-size="13.4" text-anchor="middle" stroke="#000" stroke-width="0.22" transform="rotate(-90 14.0 92.3)">Amplitude/pu</text>
<text x="57.6" y="163.2" font-family="'Liberation Sans', Arial, sans-serif" font-size="12" text-anchor="middle" stroke="#000" stroke-width="0.22" transform="matrix(1 0 0 1.06 0 -9.79)" >10</text>
<text x="85.7" y="183.7" font-family="'Liberation Sans', Arial, sans-serif" font-size="12" text-anchor="middle" stroke="#000" stroke-width="0.22" transform="matrix(1 0 0 1.06 0 -11.02)" >20</text>
<text x="115.2" y="205.4" font-family="'Liberation Sans', Arial, sans-serif" font-size="12" text-anchor="middle" stroke="#000" stroke-width="0.22" transform="matrix(1 0 0 1.06 0 -12.32)" >30</text>
<text x="167.2" y="192.8" font-family="'Liberation Sans', Arial, sans-serif" font-size="12" text-anchor="middle" stroke="#000" stroke-width="0.22" transform="matrix(1 0 0 1.06 0 -11.57)" >10</text>
<text x="203.8" y="176.7" font-family="'Liberation Sans', Arial, sans-serif" font-size="12" text-anchor="middle" stroke="#000" stroke-width="0.22" transform="matrix(1 0 0 1.06 0 -10.60)" >20</text>
<text x="240" y="161.5" font-family="'Liberation Sans', Arial, sans-serif" font-size="12" text-anchor="middle" stroke="#000" stroke-width="0.22" transform="matrix(1 0 0 1.06 0 -9.69)" >30</text>
<text x="44.1" y="193" font-family="'Liberation Serif', 'Times New Roman', serif" font-size="12" text-anchor="middle" stroke="#000" stroke-width="0.22" transform="matrix(1 0 0 1.12 0 -23.16)" >Current</text>
<text x="43.8" y="207.6" font-family="'Liberation Serif', 'Times New Roman', serif" font-size="12" text-anchor="middle" stroke="#000" stroke-width="0.22" transform="matrix(1 0 0 1.12 0 -24.91)" >harmonic order</text>
<text x="215.3" y="203" font-family="'Liberation Serif', 'Times New Roman', serif" font-size="12" text-anchor="middle" stroke="#000" stroke-width="0.22" transform="matrix(1 0 0 1.12 0 -24.36)" >Voltage</text>
<text x="215" y="218.4" font-family="'Liberation Serif', 'Times New Roman', serif" font-size="12" text-anchor="middle" stroke="#000" stroke-width="0.22" transform="matrix(1 0 0 1.12 0 -26.21)" >harmonic order</text>
<text x="136.3" y="245.8" font-family="'Liberation Serif', 'Times New Roman', serif" font-size="12.8" text-anchor="middle" font-weight="bold">(a)</text>
<text x="322.6" y="52" font-family="'Liberation Sans', Arial, sans-serif" font-size="12" text-anchor="end" stroke="#000" stroke-width="0.22" transform="matrix(1 0 0 1.06 0 -3.12)" >1</text>
<text x="322.6" y="92.6" font-family="'Liberation Sans', Arial, sans-serif" font-size="12" text-anchor="end" stroke="#000" stroke-width="0.22" transform="matrix(1 0 0 1.06 0 -5.56)" >0.5</text>
<text x="322.8" y="131" font-family="'Liberation Sans', Arial, sans-serif" font-size="12" text-anchor="end" stroke="#000" stroke-width="0.22" transform="matrix(1 0 0 1.06 0 -7.86)" >0</text>
<text x="286.4" y="96.6" font-family="'Liberation Serif', 'Times New Roman', serif" font-size="13.4" text-anchor="middle" stroke="#000" stroke-width="0.22" transform="rotate(-90 286.4 96.6)">Amplitude/pu</text>
<text x="343.4" y="161.1" font-family="'Liberation Sans', Arial, sans-serif" font-size="12" text-anchor="middle" stroke="#000" stroke-width="0.22" transform="matrix(1 0 0 1.06 0 -9.67)" >10</text>
<text x="373.4" y="181.1" font-family="'Liberation Sans', Arial, sans-serif" font-size="12" text-anchor="middle" stroke="#000" stroke-width="0.22" transform="matrix(1 0 0 1.06 0 -10.87)" >20</text>
<text x="403.8" y="201.4" font-family="'Liberation Sans', Arial, sans-serif" font-size="12" text-anchor="middle" stroke="#000" stroke-width="0.22" transform="matrix(1 0 0 1.06 0 -12.08)" >30</text>
<text x="457.7" y="188.2" font-family="'Liberation Sans', Arial, sans-serif" font-size="12" text-anchor="middle" stroke="#000" stroke-width="0.22" transform="matrix(1 0 0 1.06 0 -11.29)" >10</text>
<text x="496.4" y="174.4" font-family="'Liberation Sans', Arial, sans-serif" font-size="12" text-anchor="middle" stroke="#000" stroke-width="0.22" transform="matrix(1 0 0 1.06 0 -10.46)" >20</text>
<text x="533" y="158.6" font-family="'Liberation Sans', Arial, sans-serif" font-size="12" text-anchor="middle" stroke="#000" stroke-width="0.22" transform="matrix(1 0 0 1.06 0 -9.52)" >30</text>
<text x="327" y="185.6" font-family="'Liberation Serif', 'Times New Roman', serif" font-size="12.4" text-anchor="middle" stroke="#000" stroke-width="0.22" transform="matrix(1 0 0 1.08 0 -14.85)" >Current</text>
<text x="327.3" y="200" font-family="'Liberation Serif', 'Times New Roman', serif" font-size="12.4" text-anchor="middle" stroke="#000" stroke-width="0.22" transform="matrix(1 0 0 1.08 0 -16.00)" >harmonic order</text>
<text x="503.2" y="199.9" font-family="'Liberation Serif', 'Times New Roman', serif" font-size="12.4" text-anchor="middle" stroke="#000" stroke-width="0.22" transform="matrix(1 0 0 1.08 0 -15.99)" >Voltage harmonic</text>
<text x="502.3" y="214.1" font-family="'Liberation Serif', 'Times New Roman', serif" font-size="12.4" text-anchor="middle" stroke="#000" stroke-width="0.22" transform="matrix(1 0 0 1.08 0 -17.13)" >order</text>
<text x="413.6" y="246" font-family="'Liberation Serif', 'Times New Roman', serif" font-size="12" text-anchor="middle" font-weight="bold">(b)</text>
</svg>
</body></html>
